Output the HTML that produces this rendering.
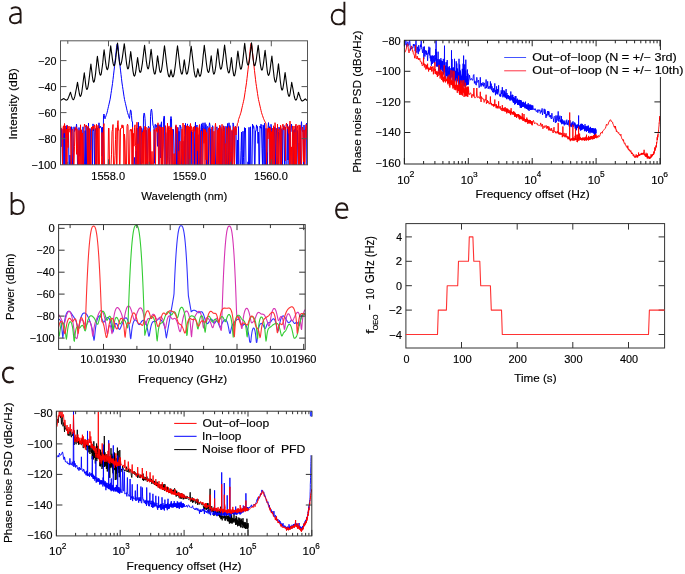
<!DOCTYPE html>
<html><head><meta charset="utf-8"><style>
html,body{margin:0;padding:0;background:#fff;overflow:hidden;width:685px;height:574px;}
svg{display:block;will-change:transform;}
text{font-family:"Liberation Sans", sans-serif;stroke:#000;stroke-width:0.15px;}
</style></head><body>
<svg width="685" height="574" viewBox="0 0 685 574">
<rect width="685" height="574" fill="#fff"/>
<g fill="none" stroke="#231815" stroke-width="1.9" stroke-linecap="butt">
<path d="M11,8.8 C12.4,7.7 13.9,7.2 15.5,7.2 C19.1,7.2 20.6,9.2 20.6,12.6 L20.6,23.5 M20.6,13.7 C14.6,13.8 9.9,15 9.9,18.8 C9.9,21.7 12,23.3 14.4,23.3 C17.3,23.3 19.6,21.6 20.6,19.6"/>
<path d="M11.6,191.9 L11.6,214.9 M11.6,203.2 C12.9,200.8 15,200 17.4,200 C21.6,200 23.7,203.3 23.7,207.3 C23.7,211.6 21.2,214.1 17.3,214.1 C15,214.1 12.8,213.3 11.6,211.3"/>
<path stroke-width="2.3" d="M13.7,368.9 C12.2,368 10.8,367.7 9.4,367.7 C5.6,367.7 3.1,370.7 3.1,375.1 C3.1,379.6 5.8,382.3 9.5,382.3 C10.9,382.3 12.3,382 13.7,381.3"/>
<path d="M344.4,1.8 L344.4,25.2 M344.4,12.8 C343,10.6 341,9.7 338.6,9.7 C334.4,9.7 331.7,12.7 331.7,17.3 C331.7,21.7 334.4,24.4 338.4,24.4 C341,24.4 343.2,23 344.4,20.7"/>
<path stroke-width="2.0" d="M336.2,209.8 L347.4,209.8 C347.4,205.5 345,203.3 341.8,203.3 C338.4,203.3 336.1,206.4 336.1,210.6 C336.1,215.3 338.6,218 342.4,218 C344.6,218 346,217.6 347.4,216.9"/>
</g>
<clipPath id="ca"><rect x="60.5" y="40.8" width="247.0" height="124.00000000000001"/></clipPath>
<g clip-path="url(#ca)">
<polyline fill="none" stroke="#0000ff" stroke-width="1.0" stroke-linejoin="round"  points="59.5,165.9 60,126.3 60.5,127.9 61,146.8 61.5,128.5 62,130 62.5,165.9 63,165.9 63.5,128.6 64,165.9 64.5,125.8 65,165.9 65.5,126.9 66,165.9 66.5,127.2 67,125.2 67.5,131 68,142.5 68.5,132.6 69,165.9 69.5,165.9 70,155.1 70.5,165.9 71,165.9 71.5,126.7 72,127.7 72.5,165.9 73,165.9 73.5,152.9 74,126.8 74.5,131.5 75,128.5 75.5,130 76,129.5 76.5,124.1 77,129.5 77.5,165.9 78,165.9 78.5,165.9 79,127.5 79.5,156.2 80,155.2 80.5,130.7 81,165.9 81.5,165.9 82,165.9 82.5,165.9 83,126.8 83.5,165.9 84,165.9 84.5,165.9 85,130.6 85.5,165.9 86,125.5 86.5,165.9 87,141.5 87.5,127.4 88,165.9 88.5,123 89,165.9 89.5,165.9 90,128.5 90.5,165.9 91,130.6 91.5,128.8 92,127.7 92.5,165.9 93,123.9 93.5,130.9 94,129.4 94.5,165.9 95,132.9 95.5,128.5 96,139.7 96.5,165.9 97,139.5 97.5,128.1 98,128.2 98.5,127.9 99,122.8 99.5,128.4 100,128 100.5,126.2 101,127.5 101.5,127.7 102,156.2 102.5,127.2 103,165.9 103.5,115.3 104,114 104.5,117.1 105,118.8 105.5,117.3 106,115.8 106.5,114.3 107,112.9 107.5,110.7 108,108.5 108.5,106.3 109,104.2 109.5,102 110,99.8 110.5,97 111,93.6 111.5,90.3 112,87 112.5,83.6 113,79.5 113.5,75.2 114,70.9 114.5,66.7 115,62 115.5,57.3 116,52.5 116.5,47.8 117,44.3 117.5,43.7 118,46.9 118.5,51.6 119,56.3 119.5,61.1 120,65.8 120.5,70.1 121,74.4 121.5,78.7 122,83 122.5,86.3 123,89.6 123.5,93 124,96.3 124.5,99.4 125,101.6 125.5,103.7 126,105.9 126.5,108.1 127,110.3 127.5,112.4 128,114 128.5,115.5 129,117 129.5,118.5 130,114 130.5,110 131,110.4 131.5,115.4 132,121.7 132.5,121.7 133,165.9 133.5,165.9 134,165.9 134.5,157.5 135,165.9 135.5,165.9 136,151.1 136.5,165.9 137,128 137.5,165.9 138,129.5 138.5,122.4 139,165.9 139.5,130.2 140,126.2 140.5,165.9 141,165.9 141.5,127.8 142,129 142.5,132.2 143,163.2 143.5,117 144,113 144.5,113.4 145,118.4 145.5,128.7 146,165.9 146.5,130.3 147,165.9 147.5,165.9 148,128.6 148.5,126.3 149,127.3 149.5,128.4 150,165.9 150.5,116.3 151,110.4 151.5,109.1 152,112.2 152.5,119.9 153,125.2 153.5,126.1 154,128.8 154.5,163.4 155,124.4 155.5,124.4 156,127.6 156.5,125.6 157,124.9 157.5,146.3 158,124.5 158.5,128.5 159,165.9 159.5,130.7 160,124.7 160.5,158 161,124.7 161.5,121.8 162,165.9 162.5,152.1 163,144.3 163.5,120 164,116 164.5,116.4 165,165.9 165.5,131.9 166,133.2 166.5,165.9 167,165.9 167.5,158.1 168,127 168.5,129.6 169,159.3 169.5,165.9 170,156.5 170.5,118.8 171,116.5 171.5,118.8 172,165.9 172.5,130 173,129 173.5,130 174,152.9 174.5,165.9 175,165.9 175.5,126.1 176,126.2 176.5,165.9 177,131.1 177.5,165.9 178,127.4 178.5,165.9 179,131.3 179.5,165.9 180,125 180.5,127.4 181,126.9 181.5,165.9 182,165.9 182.5,165.9 183,141.1 183.5,165.9 184,165.9 184.5,136.5 185,165.9 185.5,123.3 186,165.9 186.5,165.9 187,165.9 187.5,123.9 188,164.2 188.5,165.9 189,127.3 189.5,165.9 190,124.9 190.5,125.6 191,165.9 191.5,130.1 192,165.9 192.5,165.9 193,165.9 193.5,130.8 194,127.6 194.5,165.9 195,130.9 195.5,122.2 196,165.9 196.5,128.5 197,125 197.5,165.9 198,134.6 198.5,156.6 199,165.9 199.5,165.9 200,130.2 200.5,165.9 201,127.7 201.5,123.8 202,165.9 202.5,127.2 203,122.8 203.5,128.7 204,128.3 204.5,132.4 205,122.7 205.5,140.5 206,124.5 206.5,165.9 207,126.8 207.5,126.5 208,127.9 208.5,165.9 209,127 209.5,122.8 210,125.6 210.5,165.9 211,128.8 211.5,165.9 212,165.9 212.5,125.7 213,127 213.5,165.9 214,165.9 214.5,165.9 215,165.9 215.5,165.9 216,127.8 216.5,127.8 217,126.8 217.5,131.7 218,165.9 218.5,143.6 219,142.8 219.5,165.9 220,125.5 220.5,165.9 221,165.9 221.5,128.9 222,165.9 222.5,165.9 223,130 223.5,125.8 224,165.9 224.5,127.9 225,165.9 225.5,165.9 226,126.2 226.5,165.9 227,165.9 227.5,123.5 228,129.7 228.5,165.9 229,122.8 229.5,165.9 230,125.6 230.5,165.9 231,152.4 231.5,165.9 232,131 232.5,165.9 233,122.9 233.5,124.4 234,129.9 234.5,165.9 235,128.6 235.5,126.3 236,127.7 236.5,165.9 237,165.9 237.5,140 238,165.9 238.5,126.6 239,165.9 239.5,165.9 240,165.9 240.5,165.9 241,150.6 241.5,132 242,165.9 242.5,165.9 243,131.2 243.5,157.6 244,165.9 244.5,127.6 245,132.1 245.5,128.2 246,165.9 246.5,165.9 247,165.9 247.5,165.9 248,161.8 248.5,165.9 249,127.3 249.5,165.9 250,165.9 250.5,126.8 251,165.9 251.5,165.9 252,165.9 252.5,124.1 253,128.5 253.5,125.7 254,127.5 254.5,165.9 255,165.9 255.5,130.9 256,131.3 256.5,124.9 257,127.7 257.5,126.5 258,143.4 258.5,132.1 259,165.9 259.5,165.9 260,126 260.5,128.2 261,124.2 261.5,126.6 262,148.9 262.5,165.9 263,124.9 263.5,125.8 264,165.9 264.5,123.3 265,165.9 265.5,165.9 266,128.3 266.5,165.9 267,152.5 267.5,165.9 268,127.7 268.5,122.6 269,129 269.5,126.7 270,165.9 270.5,165.9 271,124.3 271.5,130.7 272,165.9 272.5,158.2 273,130.1 273.5,128.6 274,165.9 274.5,127.3 275,128.7 275.5,165.9 276,128 276.5,130.1 277,154.6 277.5,165.9 278,165.9 278.5,131.5 279,127.1 279.5,129 280,130 280.5,165.9 281,128.6 281.5,165.9 282,129.4 282.5,165.9 283,127.8 283.5,129.3 284,125.5 284.5,165.9 285,143.8 285.5,127.3 286,165.9 286.5,165.9 287,165.9 287.5,124.4 288,160 288.5,127.3 289,165.9 289.5,125.3 290,165.9 290.5,132.3 291,127.3 291.5,124 292,131.5 292.5,130.3 293,165.9 293.5,130.4 294,165.9 294.5,129.5 295,143.8 295.5,125.5 296,129.3 296.5,165.9 297,129.9 297.5,130.6 298,165.9 298.5,165.9 299,143 299.5,165.9 300,127.2 300.5,165.9 301,127 301.5,121.7 302,130.1 302.5,131.6 303,130.1 303.5,165.9 304,125 304.5,165.9 305,129.9 305.5,131.1 306,128.2 306.5,123.2 307,165.9 307.5,125.7 308,165.9"/>
<polyline fill="none" stroke="#ff0000" stroke-width="1.0" stroke-linejoin="round"  points="59.5,165.9 60,165.9 60.5,124.4 61,129.4 61.5,128.8 62,129.4 62.5,165.9 63,128.1 63.5,125.8 64,133.2 64.5,123.5 65,128.2 65.5,126 66,165.9 66.5,129 67,165.9 67.5,125.6 68,147.6 68.5,128.4 69,126 69.5,130.4 70,132.3 70.5,126.8 71,165.9 71.5,165.9 72,130.3 72.5,129.3 73,131.4 73.5,165.9 74,165.9 74.5,146.2 75,128.6 75.5,130.1 76,126.8 76.5,154.3 77,128.8 77.5,148.2 78,165.9 78.5,165.9 79,130.3 79.5,165.9 80,165.9 80.5,124.8 81,165.9 81.5,129.8 82,165.9 82.5,132.9 83,165.9 83.5,165.9 84,130.1 84.5,124 85,125.6 85.5,126.1 86,126.8 86.5,125.2 87,131.7 87.5,165.9 88,126.2 88.5,165.9 89,165.9 89.5,128.7 90,165.9 90.5,150.4 91,165.9 91.5,127 92,130.4 92.5,126.2 93,128.2 93.5,126.5 94,129.4 94.5,124.8 95,126.2 95.5,165.9 96,165.9 96.5,124.3 97,165.9 97.5,132.4 98,125.4 98.5,165.9 99,128.2 99.5,165.9 100,165.9 100.5,165.9 101,165.9 101.5,165.9 102,132.5 102.5,165.9 103,165.9 103.5,127.2 104,123.6 104.5,165.9 105,165.9 105.5,165.9 106,164.6 106.5,165.9 107,165.9 107.5,165.9 108,165.9 108.5,128 109,128.5 109.5,165.9 110,165.9 110.5,165.9 111,165.9 111.5,154.2 112,131.6 112.5,129.3 113,124.5 113.5,165.9 114,165.9 114.5,165.9 115,155.4 115.5,139.5 116,127.8 116.5,165.9 117,165.9 117.5,124.2 118,120.6 118.5,130.3 119,129.8 119.5,165.9 120,165.9 120.5,128.7 121,128.9 121.5,127.4 122,124.8 122.5,127.9 123,125.3 123.5,129.1 124,165.9 124.5,134.1 125,141 125.5,165.9 126,165.9 126.5,165.9 127,126.4 127.5,124.2 128,125.6 128.5,165.9 129,165.9 129.5,165.9 130,130 130.5,129.3 131,131.2 131.5,129.5 132,165.9 132.5,127.2 133,165.9 133.5,133.4 134,146.2 134.5,127.3 135,124.8 135.5,145.4 136,165.9 136.5,130 137,122.2 137.5,165.9 138,143.8 138.5,165.9 139,130.3 139.5,126.8 140,165.9 140.5,126.3 141,126.4 141.5,165.9 142,165.9 142.5,132.2 143,165.9 143.5,130.1 144,165.9 144.5,129.3 145,126.2 145.5,165.9 146,127.1 146.5,163.4 147,165.9 147.5,165.9 148,128.4 148.5,129.4 149,165.9 149.5,127.9 150,165.9 150.5,131.7 151,165.9 151.5,165.9 152,151.4 152.5,165.9 153,165.9 153.5,165.9 154,129.6 154.5,131 155,130.4 155.5,165.9 156,127.8 156.5,131.3 157,127.9 157.5,132.4 158,122.8 158.5,165.9 159,165.9 159.5,126.4 160,132.1 160.5,127.1 161,165.9 161.5,165.9 162,127.2 162.5,165.9 163,127.5 163.5,127 164,165.9 164.5,165.9 165,165.9 165.5,125.7 166,129.4 166.5,165.9 167,141.5 167.5,123.1 168,165.9 168.5,129.4 169,125.9 169.5,129.2 170,165.9 170.5,127.7 171,134.6 171.5,127.4 172,165.9 172.5,129.9 173,165.9 173.5,165.9 174,153.6 174.5,165.9 175,165.9 175.5,165.9 176,124.8 176.5,128.7 177,133.4 177.5,127.5 178,165.9 178.5,158.6 179,151.2 179.5,165.9 180,141.2 180.5,165.9 181,165.9 181.5,148.8 182,128.9 182.5,165.9 183,123 183.5,165.9 184,165.9 184.5,125.2 185,141 185.5,165.9 186,129.1 186.5,125.8 187,165.9 187.5,125.6 188,129.7 188.5,126.2 189,165.9 189.5,126.9 190,165.9 190.5,123.5 191,131.5 191.5,126.5 192,128 192.5,131.4 193,165.9 193.5,126.9 194,131.3 194.5,126.2 195,129.2 195.5,133.4 196,165.9 196.5,127.2 197,150.8 197.5,127.5 198,127.8 198.5,165.9 199,128.5 199.5,124.6 200,165.9 200.5,165.9 201,165.9 201.5,131 202,165.9 202.5,165.9 203,165.9 203.5,128.7 204,143.3 204.5,129.3 205,165.9 205.5,129.8 206,159.8 206.5,132.5 207,153.8 207.5,165.9 208,132.5 208.5,128.6 209,129 209.5,127.5 210,165.9 210.5,165.9 211,165.9 211.5,165.9 212,127 212.5,165.9 213,165.9 213.5,165.9 214,131.2 214.5,165.9 215,128 215.5,123.3 216,130 216.5,165.9 217,165.9 217.5,130.1 218,165.9 218.5,128 219,165.9 219.5,125.5 220,165.9 220.5,165.9 221,127.3 221.5,165.9 222,124.3 222.5,135.9 223,165.9 223.5,130.4 224,126.2 224.5,128.4 225,165.9 225.5,143.7 226,165.9 226.5,127.4 227,128.1 227.5,165.9 228,165.9 228.5,126.4 229,153.9 229.5,165.9 230,127.4 230.5,165.9 231,165.9 231.5,152.4 232,129.8 232.5,165.9 233,165.9 233.5,126.3 234,128.6 234.5,165.9 235,126.7 235.5,126.9 236,135 236.5,128.6 237,126.4 237.5,123.3 238,122.7 238.5,119.5 239,118.2 239.5,116.7 240,115.3 240.5,113.8 241,112.2 241.5,110 242,107.8 242.5,105.6 243,103.5 243.5,101.3 244,99.1 244.5,96 245,92.7 245.5,89.4 246,86 246.5,82.7 247,78.4 247.5,74.1 248,69.8 248.5,65.5 249,60.8 249.5,56.1 250,51.3 250.5,46.6 251,43.5 251.5,44 252,47.5 252.5,52.3 253,57 253.5,61.8 254,66.4 254.5,70.7 255,75 255.5,79.3 256,83.4 256.5,86.7 257,90 257.5,93.4 258,96.7 258.5,99.6 259,101.7 259.5,103.9 260,106.1 260.5,108.3 261,110.4 261.5,112.6 262,114.1 262.5,115.6 263,117 263.5,118.5 264,119.7 264.5,120.8 265,121.8 265.5,122.8 266,123.9 266.5,165.9 267,146.8 267.5,128.7 268,138.9 268.5,127.6 269,132.2 269.5,128.1 270,165.9 270.5,127.5 271,162.5 271.5,131.6 272,165.9 272.5,128.2 273,165.9 273.5,125.8 274,144.2 274.5,165.9 275,122.7 275.5,129.9 276,129.4 276.5,165.9 277,165.9 277.5,124.2 278,165.9 278.5,165.9 279,128.7 279.5,132.3 280,165.9 280.5,125.3 281,132.8 281.5,165.9 282,127.5 282.5,124.9 283,124.1 283.5,129.2 284,130.1 284.5,126.7 285,129 285.5,160.6 286,124.9 286.5,123.1 287,127.2 287.5,128.5 288,126.3 288.5,133.3 289,128 289.5,165.9 290,121.1 290.5,152.9 291,165.9 291.5,146.9 292,165.9 292.5,125.9 293,165.9 293.5,144.6 294,126 294.5,165.9 295,132.4 295.5,165.9 296,124.1 296.5,165.9 297,128.1 297.5,125.7 298,132.3 298.5,165.9 299,124.9 299.5,165.9 300,125.1 300.5,129.1 301,165.9 301.5,165.9 302,130.7 302.5,127 303,131.3 303.5,161.7 304,130.1 304.5,165.9 305,165.9 305.5,128.9 306,124.5 306.5,127.3 307,139.3 307.5,131.5 308,124.6"/>
<polyline fill="none" stroke="#000" stroke-width="1.1" stroke-linejoin="round"  points="60.5,100.1 60.9,100.1 61.3,100 61.7,99.8 62.1,99.6 62.5,99.3 62.9,99.1 63.3,98.8 63.7,98.6 64,98.8 64.4,99.1 64.8,99.3 65.1,99.6 65.5,99.8 65.8,100 66.2,100.1 66.5,100.1 67,99.9 67.5,99.4 68,98.5 68.5,97.4 69,96.1 69.5,94.8 70,93.4 70.5,92.2 70.8,93.4 71.2,94.6 71.5,95.9 71.9,97.1 72.2,98.2 72.6,99 73,99.5 73.3,99.7 73.8,99.3 74.3,98.1 74.9,96.2 75.4,93.7 75.9,90.9 76.5,88 77,85.1 77.5,82.4 77.9,84.6 78.2,86.9 78.6,89.3 79,91.5 79.3,93.5 79.7,95 80,96 80.4,96.3 80.9,95.7 81.4,94.1 81.9,91.5 82.3,88.2 82.8,84.5 83.3,80.5 83.8,76.5 84.3,72.9 84.6,75.5 85,78.3 85.3,81.1 85.6,83.8 85.9,86.1 86.2,87.9 86.6,89.1 86.9,89.5 87.4,88.9 87.9,87.1 88.4,84.3 88.9,80.7 89.4,76.6 89.9,72.3 90.4,68.1 90.9,64.1 91.2,66.9 91.6,70 92,73 92.3,76 92.7,78.5 93,80.5 93.4,81.8 93.7,82.2 94.2,81.6 94.6,79.8 95.1,76.9 95.6,73.3 96,69.1 96.5,64.7 96.9,60.4 97.4,56.4 97.8,59.3 98.2,62.5 98.6,65.7 99,68.7 99.3,71.4 99.7,73.4 100.1,74.8 100.5,75.2 101,74.6 101.4,72.8 101.8,70 102.3,66.5 102.8,62.4 103.2,58.1 103.6,53.8 104.1,49.9 104.5,53 104.9,56.3 105.3,59.7 105.7,62.9 106.1,65.7 106.5,67.8 106.9,69.2 107.3,69.7 107.7,69.1 108.2,67.5 108.6,64.8 109,61.4 109.4,57.6 109.8,53.5 110.3,49.4 110.7,45.7 111.1,48.8 111.5,52.2 112,55.6 112.4,58.9 112.8,61.7 113.2,63.9 113.7,65.3 114.1,65.8 114.5,65.3 114.9,63.7 115.4,61.2 115.8,58 116.2,54.3 116.7,50.4 117.1,46.6 117.5,43.1 117.8,46.5 118.2,50.3 118.5,54 118.9,57.6 119.2,60.7 119.6,63.1 120,64.7 120.3,65.2 120.8,64.7 121.3,63.2 121.8,60.8 122.3,57.8 122.8,54.3 123.3,50.7 123.8,47.1 124.3,43.7 124.8,47.6 125.2,51.9 125.7,56.1 126.2,60.2 126.6,63.8 127.1,66.5 127.5,68.3 128,68.9 128.3,68.5 128.7,67.3 129,65.4 129.3,62.9 129.7,60.1 130,57.1 130.4,54.2 130.7,51.5 131.2,55.3 131.6,59.5 132.1,63.6 132.6,67.6 133,71.1 133.5,73.8 133.9,75.5 134.4,76.1 134.8,75.7 135.2,74.4 135.6,72.3 136,69.7 136.4,66.7 136.8,63.6 137.2,60.5 137.6,57.6 137.9,59.9 138.2,62.4 138.6,64.9 138.9,67.3 139.2,69.4 139.5,71 139.9,72 140.2,72.4 140.8,71.8 141.3,69.9 141.8,66.9 142.4,63.1 142.9,58.7 143.5,54.1 144,49.6 144.6,45.4 145,49.1 145.5,53 145.9,57 146.3,60.8 146.8,64.1 147.2,66.7 147.7,68.3 148.1,68.9 148.5,68.4 148.8,67.1 149.2,64.9 149.6,62.1 150,59 150.3,55.6 150.7,52.4 151.1,49.3 151.6,53.2 152,57.3 152.5,61.5 152.9,65.6 153.4,69.1 153.9,71.8 154.3,73.5 154.8,74.1 155.2,73.7 155.5,72.4 155.8,70.4 156.2,67.8 156.6,64.8 156.9,61.7 157.2,58.7 157.6,55.8 158,58.4 158.3,61.2 158.7,64 159.1,66.7 159.4,69 159.8,70.8 160.1,72 160.5,72.4 161,71.8 161.5,69.9 162,67 162.5,63.2 163,58.9 163.5,54.3 164,49.9 164.5,45.7 165.1,50.6 165.7,55.8 166.3,61.1 166.9,66.1 167.5,70.5 168.1,74 168.7,76.2 169.3,76.9 169.5,76.7 169.7,76.2 169.9,75.5 170.2,74.5 170.4,73.3 170.6,72.1 170.8,70.9 171,69.8 171.2,70.9 171.5,72.1 171.7,73.3 171.9,74.5 172.2,75.5 172.4,76.2 172.7,76.7 172.9,76.9 173.5,76.2 174.1,74 174.6,70.6 175.2,66.2 175.8,61.2 176.3,55.9 176.9,50.7 177.5,45.9 178.1,50.3 178.6,55 179.2,59.8 179.7,64.4 180.2,68.4 180.8,71.5 181.3,73.4 181.9,74.1 182.2,73.8 182.5,72.8 182.8,71.2 183.1,69.1 183.4,66.8 183.7,64.4 184,61.9 184.3,59.7 184.6,61.9 184.9,64.4 185.2,66.8 185.6,69.1 185.9,71.2 186.2,72.8 186.5,73.8 186.8,74.1 187.4,73.4 187.9,71.5 188.4,68.4 189,64.5 189.6,60 190.1,55.2 190.6,50.5 191.2,46.2 191.8,51 192.4,56.2 193,61.5 193.6,66.5 194.1,70.9 194.7,74.3 195.3,76.5 195.9,77.2 196.1,77 196.4,76.4 196.6,75.5 196.9,74.3 197.1,72.9 197.3,71.5 197.6,70 197.8,68.7 198.1,69.9 198.4,71.2 198.6,72.5 198.9,73.7 199.2,74.8 199.4,75.6 199.7,76.1 200,76.3 200.5,75.6 201.1,73.4 201.6,70 202.2,65.6 202.7,60.7 203.2,55.4 203.8,50.2 204.3,45.4 204.8,49.6 205.4,54.2 205.9,58.8 206.4,63.2 206.9,67 207.4,70 208,71.9 208.5,72.5 208.8,72.1 209.2,70.9 209.5,69.1 209.8,66.7 210.2,64 210.5,61.1 210.9,58.3 211.2,55.7 211.5,58.6 211.9,61.7 212.2,64.8 212.6,67.8 212.9,70.4 213.2,72.4 213.6,73.7 213.9,74.1 214.4,73.5 214.9,71.7 215.4,68.9 215.9,65.3 216.3,61.2 216.8,56.9 217.3,52.7 217.8,48.7 218.2,51.9 218.6,55.3 218.9,58.8 219.3,62.1 219.7,65 220.1,67.3 220.4,68.7 220.8,69.2 221.3,68.6 221.8,66.9 222.2,64.3 222.7,60.9 223.2,57 223.7,52.9 224.1,48.9 224.6,45.1 225.1,49.4 225.7,54.1 226.2,58.9 226.7,63.4 227.2,67.3 227.8,70.4 228.3,72.3 228.8,73 229.1,72.6 229.5,71.5 229.8,69.8 230.1,67.7 230.4,65.2 230.8,62.5 231.1,59.9 231.4,57.5 231.8,60.4 232.1,63.5 232.4,66.6 232.8,69.6 233.2,72.2 233.5,74.2 233.8,75.5 234.2,75.9 234.7,75.3 235.1,73.6 235.6,70.8 236.1,67.3 236.5,63.3 237,59.1 237.4,54.9 237.9,51 238.3,53.8 238.7,56.9 239,60 239.4,62.9 239.8,65.5 240.2,67.5 240.5,68.8 240.9,69.2 241.4,68.6 241.8,66.8 242.3,63.9 242.8,60.3 243.3,56.1 243.8,51.7 244.2,47.4 244.7,43.4 245.1,46.8 245.5,50.5 246,54.2 246.4,57.7 246.8,60.8 247.2,63.2 247.7,64.7 248.1,65.2 248.5,64.7 248.9,63.1 249.4,60.6 249.8,57.5 250.2,53.9 250.7,50 251.1,46.3 251.5,42.8 251.9,46.4 252.2,50.2 252.6,54.2 253,57.9 253.4,61.1 253.8,63.6 254.1,65.2 254.5,65.8 255,65.3 255.4,63.9 255.9,61.6 256.4,58.8 256.8,55.5 257.3,52 257.7,48.6 258.2,45.4 258.7,49.2 259.1,53.4 259.6,57.6 260,61.6 260.5,65.1 261,67.8 261.4,69.5 261.9,70.1 262.3,69.6 262.7,68.2 263.1,66 263.5,63.2 263.9,60 264.3,56.6 264.7,53.3 265.1,50.2 265.5,54.1 266,58.4 266.4,62.6 266.8,66.7 267.2,70.3 267.6,73 268.1,74.8 268.5,75.4 268.9,74.9 269.4,73.6 269.8,71.5 270.2,68.7 270.6,65.6 271,62.3 271.5,59.1 271.9,56.1 272.3,60.2 272.8,64.5 273.2,69 273.7,73.2 274.1,76.9 274.6,79.8 275.1,81.6 275.5,82.2 275.9,81.8 276.2,80.5 276.6,78.5 277,75.9 277.4,72.9 277.8,69.8 278.1,66.7 278.5,63.8 278.9,67.9 279.4,72.3 279.9,76.8 280.3,81 280.8,84.7 281.2,87.6 281.7,89.5 282.1,90.1 282.5,89.7 282.9,88.5 283.2,86.5 283.6,84.1 284,81.2 284.4,78.3 284.7,75.3 285.1,72.6 285.6,76.3 286.1,80.3 286.6,84.3 287.1,88.1 287.6,91.5 288.1,94.1 288.6,95.7 289.1,96.3 289.4,96 289.8,95 290.1,93.5 290.4,91.5 290.7,89.3 291.1,86.9 291.4,84.6 291.7,82.4 292.2,85.2 292.8,88.1 293.3,91.1 293.8,94 294.3,96.5 294.8,98.4 295.4,99.7 295.9,100.1 296.2,99.9 296.5,99.4 296.9,98.5 297.2,97.4 297.5,96.1 297.9,94.8 298.2,93.4 298.5,92.2 298.9,93.6 299.4,95 299.9,96.5 300.3,97.9 300.8,99.1 301.2,100.1 301.7,100.7 302.1,100.9 302.5,100.9 302.9,100.7 303.3,100.5 303.7,100.2 304.1,99.9 304.5,99.5 304.9,99.2 305.3,98.9 305.6,99.1 305.9,99.4 306.1,99.7 306.4,99.9 306.7,100.2 306.9,100.4 307.2,100.5 307.5,100.5"/>
</g>
<rect x="60.5" y="40.8" width="247" height="124" fill="none" stroke="#555" stroke-width="1.0"/>
<path d="M108.5,40.8v5.5M108.5,164.8v-5.5M189.9,40.8v5.5M189.9,164.8v-5.5M271.3,40.8v5.5M271.3,164.8v-5.5" stroke="#555" stroke-width="1.0" fill="none"/>
<path d="M67.8,40.8v3M67.8,164.8v-3M149.2,40.8v3M149.2,164.8v-3M230.6,40.8v3M230.6,164.8v-3" stroke="#555" stroke-width="1.0" fill="none"/>
<path d="M60.5,60.6h6M307.5,60.6h-6M60.5,86.6h6M307.5,86.6h-6M60.5,112.6h6M307.5,112.6h-6M60.5,138.6h6M307.5,138.6h-6" stroke="#555" stroke-width="1.0" fill="none"/>
<text x="38.26" y="64.79" font-size="11.27" fill="#000" textLength="18.23" lengthAdjust="spacingAndGlyphs">−20</text>
<text x="38.26" y="90.79" font-size="11.27" fill="#000" textLength="18.23" lengthAdjust="spacingAndGlyphs">−40</text>
<text x="38.26" y="116.79" font-size="11.27" fill="#000" textLength="18.23" lengthAdjust="spacingAndGlyphs">−60</text>
<text x="38.26" y="142.79" font-size="11.27" fill="#000" textLength="18.23" lengthAdjust="spacingAndGlyphs">−80</text>
<text x="31.44" y="168.79" font-size="11.27" fill="#000" textLength="25.07" lengthAdjust="spacingAndGlyphs">−100</text>
<text x="91.32" y="179.88" font-size="11.55" fill="#000" textLength="33.70" lengthAdjust="spacingAndGlyphs">1558.0</text>
<text x="172.72" y="179.88" font-size="11.55" fill="#000" textLength="33.70" lengthAdjust="spacingAndGlyphs">1559.0</text>
<text x="254.12" y="179.88" font-size="11.55" fill="#000" textLength="33.70" lengthAdjust="spacingAndGlyphs">1560.0</text>
<text x="141.34" y="199.50" font-size="11.74" fill="#000" textLength="85.96" lengthAdjust="spacingAndGlyphs">Wavelength (nm)</text>
<text x="17.00" y="139.49" font-size="11.30" fill="#000" textLength="71.33" lengthAdjust="spacingAndGlyphs" transform="rotate(-90 17.00 139.49)">Intensity (dB)</text>
<clipPath id="cb"><rect x="58.6" y="224.6" width="246.6" height="124.79999999999998"/></clipPath>
<g clip-path="url(#cb)">
<polyline fill="none" stroke="#3333ff" stroke-width="1.1" stroke-linejoin="round"  points="57.6,320.7 58,320.1 58.4,319.6 58.8,319.3 59.2,319.3 59.6,319.5 60,320 60.4,320.8 60.8,322.1 61.2,323.8 61.6,326.3 62,329.7 62.4,334.1 62.8,337.7 63.2,334.8 63.6,329.6 64,325.5 64.4,322.3 64.8,319.8 65.2,317.8 65.6,316.2 66,314.9 66.4,313.8 66.8,312.9 67.2,312.3 67.6,311.8 68,311.5 68.4,311.3 68.8,311.3 69.2,311.3 69.6,311.5 70,311.8 70.4,312.2 70.8,312.6 71.2,313.2 71.6,313.7 72,314.4 72.4,315 72.8,315.6 73.2,316.2 73.6,316.8 74,317.4 74.4,318 74.8,318.6 75.2,319.3 75.6,320.1 76,321.1 76.4,322.3 76.8,323.8 77.2,325.5 77.6,327.3 78,328.9 78.4,329.3 78.8,328 79.2,325.8 79.6,323.5 80,321.3 80.4,319.5 80.8,318 81.2,316.7 81.6,315.7 82,314.9 82.4,314.2 82.8,313.7 83.2,313.4 83.6,313.1 84,313 84.4,313 84.8,313.1 85.2,313.2 85.6,313.4 86,313.7 86.4,314.2 86.8,314.6 87.2,315.2 87.6,315.9 88,316.7 88.4,317.5 88.8,318.4 89.2,319.4 89.6,320.5 90,321.6 90.4,322.7 90.8,323.9 91.2,325.2 91.6,326.6 92,328.1 92.4,330 92.8,332.2 93.2,335 93.6,338.2 94,340.3 94.4,338.6 94.8,334.7 95.2,330.9 95.6,327.7 96,325.1 96.4,323 96.8,321.2 97.2,319.7 97.6,318.5 98,317.6 98.4,316.8 98.8,316.3 99.2,316 99.6,315.9 100,316 100.4,316.3 100.8,316.8 101.2,317.5 101.6,318.3 102,319.2 102.4,320.2 102.8,321.1 103.2,321.8 103.6,322.1 104,322 104.4,321.6 104.8,320.9 105.2,320.2 105.6,319.5 106,318.9 106.4,318.3 106.8,318 107.2,317.7 107.6,317.6 108,317.6 108.4,317.7 108.8,318.1 109.2,318.6 109.6,319.3 110,320.2 110.4,321.4 110.8,322.8 111.2,324.7 111.6,326.8 112,329.2 112.4,331.4 112.8,332.3 113.2,331.4 113.6,329.6 114,327.7 114.4,326.1 114.8,324.8 115.2,324 115.6,323.5 116,323.4 116.4,323.6 116.8,324 117.2,324.7 117.6,325.6 118,326.7 118.4,327.8 118.8,328.7 119.2,329.3 119.6,329.4 120,329 120.4,328.3 120.8,327.3 121.2,326.3 121.6,325.3 122,324.2 122.4,323.2 122.8,322.2 123.2,321.2 123.6,320.4 124,319.6 124.4,318.9 124.8,318.4 125.2,318.1 125.6,317.9 126,317.9 126.4,318 126.8,318.4 127.2,319 127.6,319.8 128,321 128.4,322.4 128.8,324.2 129.2,326.6 129.6,329.6 130,333.3 130.4,337.5 130.8,338.8 131.2,335.6 131.6,331.8 132,328.6 132.4,326.2 132.8,324.4 133.2,322.9 133.6,321.8 134,321 134.4,320.4 134.8,320.1 135.2,320 135.6,320 136,320.2 136.4,320.6 136.8,321.2 137.2,321.8 137.6,322.6 138,323.3 138.4,324 138.8,324.4 139.2,324.6 139.6,324.4 140,324 140.4,323.4 140.8,322.8 141.2,322.1 141.6,321.5 142,321.1 142.4,320.7 142.8,320.5 143.2,320.3 143.6,320.4 144,320.5 144.4,320.8 144.8,321.2 145.2,321.8 145.6,322.5 146,323.5 146.4,324.6 146.8,326 147.2,327.6 147.6,329.6 148,332 148.4,334.4 148.8,336.2 149.2,336 149.6,334 150,331.5 150.4,329.1 150.8,327.1 151.2,325.4 151.6,324.1 152,323.1 152.4,322.4 152.8,321.9 153.2,321.6 153.6,321.5 154,321.5 154.4,321.5 154.8,321.6 155.2,321.6 155.6,321.5 156,321.3 156.4,320.9 156.8,320.5 157.2,320 157.6,319.6 158,319.2 158.4,318.9 158.8,318.8 159.2,318.8 159.6,318.9 160,319.1 160.4,319.4 160.8,319.8 161.2,320.2 161.6,320.7 162,321.2 162.4,321.7 162.8,322.3 163.2,323 163.6,323.8 164,324.8 164.4,326.1 164.8,327.8 165.2,329.9 165.6,332.6 166,335.8 166.4,338 166.8,335.7 167.2,333.5 167.6,331.2 168,328.9 168.4,326.6 168.8,324.3 169.2,322 169.6,319.8 170,317.5 170.4,315.2 170.8,312.9 171.2,310.6 171.6,308.4 172,306.1 172.4,303.8 172.8,301.5 173.2,299.2 173.6,296.9 174,293.9 174.4,284.5 174.8,275.8 175.2,268 175.6,261 176,254.8 176.4,249.2 176.8,244.4 177.2,240.2 177.6,236.7 178,233.7 178.4,231.3 178.8,229.4 179.2,228 179.6,226.9 180,226.2 180.4,225.8 180.8,225.7 181.2,225.7 181.6,225.7 182,226 182.4,226.5 182.8,227.4 183.2,228.6 183.6,230.3 184,232.5 184.4,235.1 184.8,238.4 185.2,242.3 185.6,246.7 186,251.9 186.4,257.8 186.8,264.4 187.2,271.8 187.6,280.1 188,289.1 188.4,295.8 188.8,298.1 189.2,300.4 189.6,302.6 190,304.9 190.4,307.2 190.8,309.5 191.2,311.8 191.6,311.5 192,311.1 192.4,310.8 192.8,310.5 193.2,310.4 193.6,310.3 194,310.3 194.4,310.3 194.8,310.4 195.2,310.5 195.6,310.7 196,310.9 196.4,311.2 196.8,311.5 197.2,311.9 197.6,312.2 198,312.5 198.4,312.7 198.8,312.8 199.2,312.7 199.6,312.5 200,312.2 200.4,312 200.8,311.8 201.2,311.7 201.6,311.7 202,312 202.4,312.4 202.8,313 203.2,313.7 203.6,314.7 204,315.9 204.4,317.2 204.8,318.5 205.2,319.9 205.6,321.1 206,322.1 206.4,322.8 206.8,323.3 207.2,323.6 207.6,323.6 208,323.3 208.4,322.9 208.8,322.2 209.2,321.5 209.6,320.8 210,320.1 210.4,319.5 210.8,319.2 211.2,319.1 211.6,319.2 212,319.6 212.4,320.2 212.8,321 213.2,321.9 213.6,322.7 214,323.3 214.4,323.4 214.8,323.1 215.2,322.5 215.6,321.9 216,321.3 216.4,320.9 216.8,320.8 217.2,321 217.6,321.5 218,322.2 218.4,323.2 218.8,324.4 219.2,325.6 219.6,326.6 220,327.2 220.4,327.1 220.8,326.5 221.2,325.6 221.6,324.6 222,323.6 222.4,322.7 222.8,322 223.2,321.3 223.6,320.8 224,320.4 224.4,320.1 224.8,319.8 225.2,319.8 225.6,319.9 226,320.1 226.4,320.6 226.8,321.3 227.2,322.2 227.6,323.4 228,325 228.4,326.8 228.8,328.9 229.2,331.2 229.6,332.9 230,333.5 230.4,332.5 230.8,330.7 231.2,328.9 231.6,327.3 232,326 232.4,325 232.8,324.1 233.2,323.5 233.6,323 234,322.5 234.4,322.1 234.8,321.8 235.2,321.4 235.6,321 236,320.5 236.4,320.1 236.8,319.7 237.2,319.4 237.6,319.2 238,319.1 238.4,319.2 238.8,319.4 239.2,319.8 239.6,320.4 240,321.2 240.4,322.2 240.8,323.2 241.2,324.3 241.6,325.2 242,325.7 242.4,325.9 242.8,325.6 243.2,325.2 243.6,324.7 244,324.4 244.4,324.2 244.8,324.2 245.2,324.4 245.6,324.8 246,325.5 246.4,326.3 246.8,327.3 247.2,328.5 247.6,329.8 248,331.3 248.4,333 248.8,335.2 249.2,337.8 249.6,341.2 250,342.4 250.4,342.4 250.8,341.9 251.2,337.8 251.6,334.5 252,332 252.4,330.2 252.8,329 253.2,328.3 253.6,328 254,328.2 254.4,328.8 254.8,330.1 255.2,332 255.6,334.8 256,338.7 256.4,342.4 256.8,342.4 257.2,339.4 257.6,335 258,331.7 258.4,329.3 258.8,327.4 259.2,326.1 259.6,325.1 260,324.4 260.4,323.9 260.8,323.6 261.2,323.4 261.6,323.5 262,323.7 262.4,324 262.8,324.6 263.2,325.3 263.6,326.1 264,327 264.4,327.8 264.8,328.4 265.2,328.5 265.6,328 266,327.2 266.4,326.1 266.8,325.1 267.2,324.3 267.6,323.6 268,323.1 268.4,322.8 268.8,322.7 269.2,322.6 269.6,322.5 270,322.4 270.4,322.1 270.8,321.6 271.2,321.1 271.6,320.5 272,319.9 272.4,319.4 272.8,319.1 273.2,318.9 273.6,318.8 274,319 274.4,319.4 274.8,320.1 275.2,320.9 275.6,322.1 276,323.4 276.4,325.1 276.8,326.9 277.2,328.9 277.6,330.5 278,331.1 278.4,330.2 278.8,328.3 279.2,326.1 279.6,324 280,322.2 280.4,320.6 280.8,319.2 281.2,318.1 281.6,317.3 282,316.6 282.4,316.2 282.8,316 283.2,315.9 283.6,316 284,316.3 284.4,316.7 284.8,317.2 285.2,317.8 285.6,318.5 286,319.2 286.4,319.9 286.8,320.6 287.2,321.3 287.6,321.9 288,322.3 288.4,322.6 288.8,322.7 289.2,322.6 289.6,322.2 290,321.8 290.4,321.3 290.8,320.8 291.2,320.5 291.6,320.4 292,320.4 292.4,320.7 292.8,321.1 293.2,321.8 293.6,322.4 294,323 294.4,323.5 294.8,323.5 295.2,323.3 295.6,322.9 296,322.5 296.4,322.3 296.8,322.2 297.2,322.5 297.6,323.1 298,323.9 298.4,324.9 298.8,325.6 299.2,325.4 299.6,324.3 300,322.5 300.4,320.6 300.8,318.8 301.2,317.2 301.6,316 302,315 302.4,314.3 302.8,313.9 303.2,313.6 303.6,313.5 304,313.5 304.4,313.6 304.8,313.7 305.2,313.7 305.6,313.7 306,313.5"/>
<polyline fill="none" stroke="#d633b4" stroke-width="1.1" stroke-linejoin="round"  points="57.6,313.2 58,313.7 58.4,314.2 58.8,314.8 59.2,315.4 59.6,316.1 60,316.8 60.4,317.5 60.8,318.2 61.2,319 61.6,319.9 62,320.8 62.4,321.7 62.8,322.7 63.2,323.5 63.6,324.1 64,324.1 64.4,323.3 64.8,322.1 65.2,320.5 65.6,318.8 66,317.3 66.4,315.8 66.8,314.6 67.2,313.6 67.6,312.7 68,312.1 68.4,311.6 68.8,311.4 69.2,311.3 69.6,311.5 70,311.9 70.4,312.4 70.8,313.2 71.2,314.3 71.6,315.6 72,317.2 72.4,319.1 72.8,321.3 73.2,323.9 73.6,327 74,330.3 74.4,333.6 74.8,336.1 75.2,337.3 75.6,337.6 76,337.9 76.4,338.3 76.8,338.6 77.2,337.8 77.6,335.6 78,332.7 78.4,329.8 78.8,327.3 79.2,325.2 79.6,323.5 80,322.2 80.4,321.1 80.8,320.4 81.2,319.9 81.6,319.7 82,319.7 82.4,319.9 82.8,320.3 83.2,320.9 83.6,321.6 84,322.4 84.4,323.4 84.8,324.3 85.2,325 85.6,325.5 86,325.6 86.4,325.3 86.8,324.6 87.2,323.8 87.6,323 88,322.3 88.4,321.7 88.8,321.4 89.2,321.2 89.6,321.4 90,321.8 90.4,322.6 90.8,323.8 91.2,325.5 91.6,327.8 92,330.7 92.4,334 92.8,336.1 93.2,334.7 93.6,331.4 94,328.4 94.4,326 94.8,324.1 95.2,322.6 95.6,321.4 96,320.4 96.4,319.4 96.8,318.4 97.2,317.4 97.6,316.4 98,315.3 98.4,314.3 98.8,313.3 99.2,312.5 99.6,311.8 100,311.2 100.4,310.8 100.8,310.6 101.2,310.5 101.6,310.7 102,311 102.4,311.5 102.8,312.1 103.2,313 103.6,314.1 104,315.3 104.4,316.8 104.8,318.5 105.2,320.5 105.6,322.8 106,325.4 106.4,328.4 106.8,331.6 107.2,333.9 107.6,333.9 108,331.9 108.4,329.6 108.8,327.7 109.2,326.4 109.6,325.6 110,325.5 110.4,325.9 110.8,327.1 111.2,329.2 111.6,332 112,333.6 112.4,331 112.8,326.3 113.2,322.1 113.6,318.7 114,316 114.4,313.8 114.8,312.1 115.2,310.7 115.6,309.6 116,308.8 116.4,308.2 116.8,307.8 117.2,307.6 117.6,307.6 118,307.8 118.4,308.1 118.8,308.5 119.2,309.1 119.6,309.7 120,310.4 120.4,311.2 120.8,312.1 121.2,313.1 121.6,314.2 122,315.5 122.4,316.9 122.8,318.3 123.2,319.4 123.6,319.7 124,319 124.4,317.3 124.8,315.3 125.2,313.4 125.6,311.6 126,310.1 126.4,308.8 126.8,307.8 127.2,307.1 127.6,306.5 128,306.2 128.4,306 128.8,306.1 129.2,306.3 129.6,306.7 130,307.2 130.4,308 130.8,308.9 131.2,310 131.6,311.2 132,312.6 132.4,314.1 132.8,315.7 133.2,317.2 133.6,318.6 134,319.6 134.4,319.9 134.8,319.6 135.2,318.8 135.6,317.7 136,316.4 136.4,315.1 136.8,313.9 137.2,312.7 137.6,311.7 138,310.7 138.4,309.9 138.8,309.2 139.2,308.7 139.6,308.3 140,308 140.4,307.9 140.8,308 141.2,308.2 141.6,308.7 142,309.4 142.4,310.3 142.8,311.4 143.2,312.9 143.6,314.6 144,316.7 144.4,319.1 144.8,321.6 145.2,323.6 145.6,324.4 146,323.7 146.4,322.4 146.8,321 147.2,319.9 147.6,319.2 148,318.7 148.4,318.6 148.8,318.5 149.2,318.6 149.6,318.6 150,318.4 150.4,318 150.8,317.4 151.2,316.7 151.6,316 152,315.3 152.4,314.8 152.8,314.4 153.2,314.3 153.6,314.3 154,314.5 154.4,314.9 154.8,315.5 155.2,316.3 155.6,317.1 156,318 156.4,318.7 156.8,319.3 157.2,319.5 157.6,319.5 158,319.1 158.4,318.7 158.8,318.2 159.2,317.8 159.6,317.4 160,317.2 160.4,317.1 160.8,317.1 161.2,317.2 161.6,317.5 162,318 162.4,318.6 162.8,319.5 163.2,320.6 163.6,322 164,323.7 164.4,325.7 164.8,327.5 165.2,328.5 165.6,327.8 166,325.8 166.4,323.5 166.8,321.5 167.2,319.7 167.6,318.4 168,317.3 168.4,316.6 168.8,316.1 169.2,315.9 169.6,316 170,316.2 170.4,316.6 170.8,317.1 171.2,317.7 171.6,318.3 172,318.8 172.4,319 172.8,319.1 173.2,319 173.6,318.8 174,318.6 174.4,318.4 174.8,318.4 175.2,318.6 175.6,318.9 176,319.4 176.4,320.2 176.8,321.2 177.2,322.3 177.6,323.7 178,325.2 178.4,326.8 178.8,328.5 179.2,330 179.6,331.2 180,331.7 180.4,331.3 180.8,330 181.2,328 181.6,325.8 182,323.5 182.4,321.4 182.8,319.4 183.2,317.6 183.6,316.1 184,314.8 184.4,313.6 184.8,312.7 185.2,312 185.6,311.5 186,311.1 186.4,311 186.8,311 187.2,311.3 187.6,311.7 188,312.4 188.4,313.4 188.8,314.6 189.2,316.3 189.6,318.3 190,320.9 190.4,324.4 190.8,329.1 191.2,335 191.6,336.8 192,331.7 192.4,327.2 192.8,324 193.2,321.6 193.6,319.9 194,318.6 194.4,317.6 194.8,316.7 195.2,316 195.6,315.3 196,314.6 196.4,313.9 196.8,313.3 197.2,312.7 197.6,312.2 198,311.8 198.4,311.5 198.8,311.4 199.2,311.4 199.6,311.6 200,312.1 200.4,312.8 200.8,313.7 201.2,315 201.6,316.6 202,318.7 202.4,321.2 202.8,324.1 203.2,326.8 203.6,328 204,326.9 204.4,324.7 204.8,322.5 205.2,320.8 205.6,319.5 206,318.6 206.4,318 206.8,317.8 207.2,317.7 207.6,317.9 208,318.2 208.4,318.6 208.8,319.2 209.2,319.8 209.6,320.6 210,321.4 210.4,322.3 210.8,323.3 211.2,324.4 211.6,325.6 212,326.8 212.4,327.6 212.8,327.8 213.2,327 213.6,325.7 214,324.1 214.4,322.5 214.8,321.2 215.2,320.1 215.6,319.3 216,318.7 216.4,318.4 216.8,318.4 217.2,318.7 217.6,319.2 218,319.9 218.4,321 218.8,322.2 219.2,323.8 219.6,325.4 220,327.2 220.4,328.7 220.8,329.8 221.2,330.3 221.6,327.6 222,314.5 222.4,302.6 222.8,291.7 223.2,281.8 223.6,272.8 224,264.9 224.4,257.8 224.8,251.5 225.2,246.1 225.6,241.5 226,237.5 226.4,234.3 226.8,231.7 227.2,229.7 227.6,228.2 228,227.1 228.4,226.5 228.8,226.2 229.2,226.1 229.6,226.1 230,226.3 230.4,226.8 230.8,227.6 231.2,228.9 231.6,230.6 232,232.9 232.4,235.8 232.8,239.4 233.2,243.7 233.6,248.7 234,254.5 234.4,261.2 234.8,268.7 235.2,277.2 235.6,286.6 236,297 236.4,308.4 236.8,316.3 237.2,316.1 237.6,316 238,316 238.4,316.3 238.8,316.7 239.2,317.3 239.6,318.2 240,319.5 240.4,321.2 240.8,323.4 241.2,326.1 241.6,328.5 242,328.4 242.4,325.4 242.8,321.9 243.2,318.7 243.6,316.1 244,314 244.4,312.3 244.8,311 245.2,309.9 245.6,309.2 246,308.6 246.4,308.4 246.8,308.3 247.2,308.5 247.6,308.9 248,309.6 248.4,310.5 248.8,311.6 249.2,313 249.6,314.7 250,316.5 250.4,318.5 250.8,320.4 251.2,322 251.6,322.8 252,322.9 252.4,322.6 252.8,322.1 253.2,321.7 253.6,321.3 254,320.8 254.4,320.2 254.8,319.5 255.2,318.5 255.6,317.4 256,316.3 256.4,315.2 256.8,314.3 257.2,313.6 257.6,313 258,312.6 258.4,312.5 258.8,312.4 259.2,312.6 259.6,312.8 260,313.1 260.4,313.4 260.8,313.7 261.2,313.9 261.6,314.1 262,314.1 262.4,314.1 262.8,314.2 263.2,314.2 263.6,314.4 264,314.7 264.4,315.1 264.8,315.7 265.2,316.4 265.6,317.2 266,318.1 266.4,319.1 266.8,320.1 267.2,321.3 267.6,322.5 268,323.7 268.4,325 268.8,326 269.2,326.1 269.6,325 270,322.8 270.4,320.2 270.8,317.8 271.2,315.6 271.6,313.7 272,312.2 272.4,310.9 272.8,309.9 273.2,309.2 273.6,308.7 274,308.5 274.4,308.5 274.8,308.7 275.2,309.2 275.6,310 276,311 276.4,312.3 276.8,313.9 277.2,315.7 277.6,317.6 278,319.4 278.4,320.5 278.8,320.6 279.2,319.9 279.6,318.8 280,317.8 280.4,317 280.8,316.5 281.2,316.4 281.6,316.6 282,317.2 282.4,318.2 282.8,319.6 283.2,321.6 283.6,324.2 284,327.2 284.4,329.4 284.8,328.4 285.2,325.3 285.6,322.2 286,319.6 286.4,317.6 286.8,316.1 287.2,315 287.6,314.3 288,313.9 288.4,313.7 288.8,313.9 289.2,314.3 289.6,315 290,315.9 290.4,316.9 290.8,318.1 291.2,319.3 291.6,320.3 292,320.8 292.4,320.9 292.8,320.5 293.2,319.8 293.6,319 294,318.1 294.4,317.2 294.8,316.4 295.2,315.5 295.6,314.7 296,314 296.4,313.3 296.8,312.8 297.2,312.4 297.6,312.2 298,312.3 298.4,312.6 298.8,313.2 299.2,314.1 299.6,315.6 300,317.6 300.4,320.4 300.8,324.2 301.2,328.6 301.6,329.4 302,325.1 302.4,320.7 302.8,317.4 303.2,314.9 303.6,313 304,311.7 304.4,310.7 304.8,310.1 305.2,309.8 305.6,309.7 306,309.9"/>
<polyline fill="none" stroke="#33cc33" stroke-width="1.1" stroke-linejoin="round"  points="57.6,324.9 58,327.5 58.4,330.8 58.8,334.4 59.2,336.1 59.6,334.3 60,331.1 60.4,328.4 60.8,326.2 61.2,324.7 61.6,323.6 62,322.9 62.4,322.6 62.8,322.6 63.2,322.9 63.6,323.6 64,324.6 64.4,326 64.8,327.8 65.2,330.3 65.6,333.5 66,337.1 66.4,339.2 66.8,337 67.2,333.3 67.6,330 68,327.4 68.4,325.4 68.8,324 69.2,322.9 69.6,322.2 70,321.8 70.4,321.7 70.8,322 71.2,322.5 71.6,323.4 72,324.8 72.4,326.5 72.8,328.9 73.2,332.1 73.6,336.2 74,340.6 74.4,341.3 74.8,337.5 75.2,333.9 75.6,331.1 76,329.2 76.4,327.9 76.8,327.1 77.2,326.7 77.6,326.7 78,326.8 78.4,327.1 78.8,327.5 79.2,327.8 79.6,327.9 80,327.7 80.4,327.3 80.8,326.7 81.2,326.2 81.6,325.7 82,325.5 82.4,325.4 82.8,325.7 83.2,326.2 83.6,327 84,328.1 84.4,329.4 84.8,330.5 85.2,330.8 85.6,330.1 86,328.4 86.4,326.3 86.8,324.3 87.2,322.5 87.6,321 88,319.7 88.4,318.6 88.8,317.8 89.2,317.1 89.6,316.6 90,316.2 90.4,315.9 90.8,315.8 91.2,315.8 91.6,315.9 92,316 92.4,316.3 92.8,316.6 93.2,317 93.6,317.4 94,317.9 94.4,318.5 94.8,319.1 95.2,319.9 95.6,320.7 96,321.7 96.4,322.6 96.8,323.5 97.2,324.1 97.6,324.3 98,323.8 98.4,322.7 98.8,321.2 99.2,319.5 99.6,317.9 100,316.4 100.4,315.1 100.8,313.9 101.2,313 101.6,312.2 102,311.7 102.4,311.4 102.8,311.2 103.2,311.3 103.6,311.6 104,312.2 104.4,312.9 104.8,313.9 105.2,315.2 105.6,316.6 106,318.1 106.4,319.4 106.8,320.2 107.2,320.2 107.6,319.6 108,318.7 108.4,317.7 108.8,316.9 109.2,316.4 109.6,316.3 110,316.4 110.4,316.9 110.8,317.9 111.2,319.2 111.6,321.1 112,323.5 112.4,326.4 112.8,328.9 113.2,329.3 113.6,327.2 114,324.5 114.4,322.1 114.8,320.3 115.2,319 115.6,318.1 116,317.6 116.4,317.4 116.8,317.5 117.2,317.9 117.6,318.5 118,319.4 118.4,320.4 118.8,321.6 119.2,322.6 119.6,323.5 120,323.9 120.4,323.8 120.8,323.4 121.2,322.7 121.6,322 122,321.3 122.4,320.7 122.8,320.3 123.2,320 123.6,319.9 124,320 124.4,320.2 124.8,320.7 125.2,321.3 125.6,322.1 126,323.2 126.4,324.4 126.8,325.7 127.2,326.9 127.6,327.9 128,324.2 128.4,312.2 128.8,301.2 129.2,291.1 129.6,281.8 130,273.4 130.4,265.8 130.8,259 131.2,252.9 131.6,247.5 132,242.9 132.4,238.9 132.8,235.5 133.2,232.6 133.6,230.4 134,228.6 134.4,227.2 134.8,226.3 135.2,225.7 135.6,225.3 136,225.2 136.4,225.2 136.8,225.3 137.2,225.7 137.6,226.3 138,227.2 138.4,228.6 138.8,230.4 139.2,232.6 139.6,235.5 140,238.9 140.4,242.9 140.8,247.5 141.2,252.9 141.6,259 142,265.8 142.4,273.4 142.8,281.8 143.2,291.1 143.6,301.2 144,312.2 144.4,324.2 144.8,335.3 145.2,333.6 145.6,332.1 146,330.7 146.4,329.2 146.8,327.8 147.2,326.4 147.6,325 148,323.7 148.4,322.5 148.8,321.3 149.2,320.3 149.6,319.3 150,318.5 150.4,317.8 150.8,317.3 151.2,316.9 151.6,316.6 152,316.6 152.4,316.7 152.8,316.9 153.2,317.4 153.6,318.1 154,319 154.4,320.2 154.8,321.8 155.2,323.7 155.6,326.2 156,329.4 156.4,333.6 156.8,338.7 157.2,340.9 157.6,337.3 158,333.1 158.4,330 158.8,327.7 159.2,326.1 159.6,324.9 160,324.1 160.4,323.5 160.8,323.2 161.2,323 161.6,322.9 162,322.8 162.4,322.6 162.8,322.3 163.2,321.7 163.6,320.8 164,319.7 164.4,318.6 164.8,317.4 165.2,316.2 165.6,315.1 166,314.2 166.4,313.3 166.8,312.7 167.2,312.2 167.6,311.9 168,311.8 168.4,311.9 168.8,312.1 169.2,312.5 169.6,313 170,313.7 170.4,314.3 170.8,314.8 171.2,315 171.6,314.9 172,314.5 172.4,313.9 172.8,313.2 173.2,312.6 173.6,312.1 174,311.8 174.4,311.8 174.8,312 175.2,312.5 175.6,313.3 176,314.4 176.4,315.6 176.8,316.9 177.2,317.7 177.6,317.6 178,316.6 178.4,315 178.8,313.3 179.2,311.6 179.6,310.3 180,309.2 180.4,308.3 180.8,307.8 181.2,307.4 181.6,307.3 182,307.4 182.4,307.7 182.8,308.2 183.2,309 183.6,310 184,311.3 184.4,312.9 184.8,314.8 185.2,317.2 185.6,320.3 186,324.2 186.4,329.5 186.8,335.5 187.2,334.4 187.6,329.1 188,325 188.4,322.2 188.8,320.2 189.2,318.7 189.6,317.6 190,316.9 190.4,316.4 190.8,316.1 191.2,315.9 191.6,315.9 192,315.9 192.4,316 192.8,316.1 193.2,316.3 193.6,316.4 194,316.7 194.4,317 194.8,317.5 195.2,318.1 195.6,319.1 196,320.3 196.4,321.9 196.8,323.9 197.2,326.3 197.6,328.5 198,329 198.4,327.3 198.8,324.7 199.2,322.1 199.6,320 200,318.3 200.4,317.1 200.8,316.3 201.2,315.8 201.6,315.7 202,315.9 202.4,316.5 202.8,317.5 203.2,318.9 203.6,320.9 204,323.6 204.4,327 204.8,330.9 205.2,332.3 205.6,329.3 206,325.6 206.4,322.5 206.8,320.3 207.2,318.6 207.6,317.4 208,316.6 208.4,316.2 208.8,316.1 209.2,316.3 209.6,316.7 210,317.3 210.4,318.2 210.8,319.2 211.2,320.2 211.6,321.2 212,321.8 212.4,322.1 212.8,321.9 213.2,321.4 213.6,320.8 214,320.2 214.4,319.7 214.8,319.4 215.2,319.3 215.6,319.4 216,319.7 216.4,320.1 216.8,320.7 217.2,321.3 217.6,321.7 218,322 218.4,321.9 218.8,321.5 219.2,320.7 219.6,319.9 220,319 220.4,318.2 220.8,317.5 221.2,317 221.6,316.7 222,316.6 222.4,316.7 222.8,317.1 223.2,317.6 223.6,318.4 224,319.4 224.4,320.4 224.8,321.2 225.2,321.7 225.6,321.5 226,320.7 226.4,319.5 226.8,318.2 227.2,317 227.6,316 228,315.3 228.4,314.7 228.8,314.5 229.2,314.5 229.6,314.8 230,315.3 230.4,316.2 230.8,317.5 231.2,319.1 231.6,321.4 232,324.3 232.4,328.2 232.8,333.3 233.2,337.1 233.6,333.8 234,329 234.4,325.4 234.8,322.7 235.2,320.7 235.6,319.1 236,317.9 236.4,317 236.8,316.3 237.2,315.8 237.6,315.4 238,315.2 238.4,315.2 238.8,315.3 239.2,315.5 239.6,315.9 240,316.3 240.4,316.9 240.8,317.5 241.2,318.2 241.6,318.8 242,319.3 242.4,319.7 242.8,320 243.2,320.3 243.6,320.6 244,320.9 244.4,321.5 244.8,322.3 245.2,323.6 245.6,325.4 246,327.8 246.4,331.1 246.8,335.1 247.2,337 247.6,333.7 248,329.4 248.4,325.9 248.8,323.3 249.2,321.3 249.6,319.7 250,318.6 250.4,317.7 250.8,317.1 251.2,316.8 251.6,316.6 252,316.5 252.4,316.6 252.8,316.7 253.2,317 253.6,317.4 254,318 254.4,318.7 254.8,319.6 255.2,320.9 255.6,322.5 256,324.7 256.4,327.6 256.8,331.8 257.2,337.2 257.6,338.8 258,333.5 258.4,328.6 258.8,325 259.2,322.4 259.6,320.4 260,319 260.4,318 260.8,317.3 261.2,317 261.6,317 262,317.2 262.4,317.8 262.8,318.7 263.2,319.9 263.6,321.4 264,323.4 264.4,325.9 264.8,329.1 265.2,333.1 265.6,337.9 266,341.2 266.4,339.4 266.8,335.9 267.2,333.1 267.6,331.1 268,329.7 268.4,328.8 268.8,328.2 269.2,327.9 269.6,327.6 270,327.3 270.4,327.1 270.8,326.8 271.2,326.4 271.6,326.1 272,325.7 272.4,325.3 272.8,325 273.2,324.7 273.6,324.4 274,324.2 274.4,324 274.8,323.8 275.2,323.7 275.6,323.5 276,323.4 276.4,323.4 276.8,323.4 277.2,323.5 277.6,323.8 278,324.2 278.4,324.9 278.8,325.7 279.2,326.8 279.6,328.1 280,329.6 280.4,331.4 280.8,333.2 281.2,334.8 281.6,335.9 282,336 282.4,335.4 282.8,334.5 283.2,333.6 283.6,332.9 284,332.4 284.4,332 284.8,331.6 285.2,331.3 285.6,330.7 286,330 286.4,329.1 286.8,328.2 287.2,327.2 287.6,326.3 288,325.5 288.4,324.9 288.8,324.5 289.2,324.3 289.6,324.4 290,324.6 290.4,325.1 290.8,325.9 291.2,326.9 291.6,328.1 292,329.6 292.4,331.3 292.8,333.2 293.2,335.1 293.6,336.7 294,337.8 294.4,338.3 294.8,338.3 295.2,338.1 295.6,337.7 296,337.2 296.4,336.6 296.8,335.7 297.2,334.5 297.6,332.9 298,331.2 298.4,329.4 298.8,327.5 299.2,325.7 299.6,324 300,322.4 300.4,320.9 300.8,319.5 301.2,318.2 301.6,317.1 302,316.1 302.4,315.3 302.8,314.6 303.2,314.1 303.6,313.8 304,313.6 304.4,313.7 304.8,314 305.2,314.5 305.6,315.2 306,316.3"/>
<polyline fill="none" stroke="#ff3333" stroke-width="1.1" stroke-linejoin="round"  points="57.6,330.3 58,329.6 58.4,328.1 58.8,326.4 59.2,324.8 59.6,323.5 60,322.5 60.4,321.8 60.8,321.5 61.2,321.4 61.6,321.7 62,322.2 62.4,323.1 62.8,324.4 63.2,326 63.6,328 64,330.4 64.4,332.7 64.8,333.8 65.2,332.9 65.6,330.6 66,328.1 66.4,325.8 66.8,323.8 67.2,322.2 67.6,320.9 68,319.9 68.4,319.1 68.8,318.6 69.2,318.3 69.6,318.2 70,318.4 70.4,318.8 70.8,319.3 71.2,320 71.6,320.7 72,321.3 72.4,321.6 72.8,321.5 73.2,321 73.6,320.4 74,319.7 74.4,319.2 74.8,318.9 75.2,318.9 75.6,319.3 76,320.1 76.4,321.5 76.8,323.5 77.2,326.3 77.6,330.1 78,333.6 78.4,332.6 78.8,328.5 79.2,324.8 79.6,322.1 80,320.1 80.4,318.8 80.8,318 81.2,317.6 81.6,317.7 82,318.1 82.4,319 82.8,320.2 83.2,321.8 83.6,323.7 84,325.7 84.4,327.5 84.8,328.7 85.2,329.1 85.6,319 86,307.5 86.4,296.9 86.8,287.2 87.2,278.4 87.6,270.4 88,263.1 88.4,256.7 88.8,251 89.2,246 89.6,241.7 90,238 90.4,234.9 90.8,232.3 91.2,230.3 91.6,228.7 92,227.6 92.4,226.8 92.8,226.4 93.2,226.1 93.6,226.1 94,226.1 94.4,226.4 94.8,226.8 95.2,227.6 95.6,228.7 96,230.3 96.4,232.3 96.8,234.9 97.2,238 97.6,241.7 98,246 98.4,251 98.8,256.7 99.2,263.1 99.6,270.4 100,278.4 100.4,287.2 100.8,296.9 101.2,307.5 101.6,319 102,321.8 102.4,321.9 102.8,322.4 103.2,323.2 103.6,324.5 104,326 104.4,328 104.8,330.1 105.2,332.5 105.6,334.7 106,336.5 106.4,337.5 106.8,337.4 107.2,336 107.6,333.8 108,331.2 108.4,328.6 108.8,326.2 109.2,324.2 109.6,322.4 110,321 110.4,319.9 110.8,319.1 111.2,318.6 111.6,318.3 112,318.3 112.4,318.5 112.8,319 113.2,319.8 113.6,320.7 114,321.8 114.4,323.1 114.8,324.5 115.2,325.8 115.6,327.1 116,328.1 116.4,328.8 116.8,329 117.2,328.7 117.6,327.9 118,326.7 118.4,325.3 118.8,323.8 119.2,322.3 119.6,321 120,319.9 120.4,319.1 120.8,318.5 121.2,318.2 121.6,318.2 122,318.5 122.4,319.2 122.8,320.2 123.2,321.8 123.6,324 124,327 124.4,331.1 124.8,335.9 125.2,337.3 125.6,333.3 126,329.3 126.4,326.5 126.8,324.6 127.2,323.4 127.6,322.7 128,322.6 128.4,322.8 128.8,323.2 129.2,323.6 129.6,323.5 130,322.9 130.4,321.5 130.8,319.9 131.2,318.2 131.6,316.7 132,315.4 132.4,314.4 132.8,313.7 133.2,313.2 133.6,312.9 134,312.9 134.4,313.2 134.8,313.6 135.2,314.3 135.6,315.3 136,316.4 136.4,317.6 136.8,319 137.2,320.4 137.6,321.7 138,322.7 138.4,323.3 138.8,323.7 139.2,323.8 139.6,323.8 140,323.8 140.4,323.9 140.8,324.1 141.2,324.5 141.6,324.9 142,325.3 142.4,325.4 142.8,325.1 143.2,324.1 143.6,322.6 144,320.8 144.4,318.9 144.8,317.1 145.2,315.5 145.6,314.1 146,312.9 146.4,312 146.8,311.3 147.2,310.9 147.6,310.7 148,310.8 148.4,311.1 148.8,311.8 149.2,312.7 149.6,313.8 150,315.2 150.4,316.6 150.8,317.8 151.2,318.5 151.6,318.5 152,317.9 152.4,317.1 152.8,316.3 153.2,315.7 153.6,315.3 154,315.3 154.4,315.6 154.8,316.3 155.2,317.3 155.6,318.5 156,320.1 156.4,321.8 156.8,323.6 157.2,325.1 157.6,326.1 158,326.5 158.4,326.3 158.8,325.7 159.2,324.8 159.6,323.6 160,322.2 160.4,320.6 160.8,319.1 161.2,317.5 161.6,316.2 162,315.1 162.4,314.2 162.8,313.6 163.2,313.2 163.6,313 164,313 164.4,313.3 164.8,313.6 165.2,314 165.6,314.4 166,314.6 166.4,314.5 166.8,314.2 167.2,313.7 167.6,313.1 168,312.5 168.4,311.9 168.8,311.5 169.2,311.1 169.6,310.9 170,310.8 170.4,310.8 170.8,310.9 171.2,311 171.6,311.1 172,311.3 172.4,311.4 172.8,311.6 173.2,311.8 173.6,312.1 174,312.4 174.4,312.8 174.8,313.4 175.2,314.1 175.6,314.9 176,315.9 176.4,317.1 176.8,318.3 177.2,319.6 177.6,320.8 178,321.9 178.4,322.9 178.8,323.5 179.2,323.9 179.6,324.1 180,324.3 180.4,324.5 180.8,324.8 181.2,325.1 181.6,325.6 182,326.3 182.4,327 182.8,327.9 183.2,328.9 183.6,330.1 184,331.3 184.4,332.4 184.8,333.1 185.2,332.9 185.6,331.7 186,329.8 186.4,327.7 186.8,325.7 187.2,323.9 187.6,322.4 188,321.2 188.4,320.2 188.8,319.4 189.2,318.9 189.6,318.6 190,318.5 190.4,318.5 190.8,318.7 191.2,318.9 191.6,319.2 192,319.4 192.4,319.5 192.8,319.6 193.2,319.6 193.6,319.4 194,319.3 194.4,319.3 194.8,319.3 195.2,319.5 195.6,319.9 196,320.5 196.4,321.3 196.8,322.3 197.2,323.5 197.6,324.7 198,325.7 198.4,326.2 198.8,326.1 199.2,325.4 199.6,324.5 200,323.5 200.4,322.6 200.8,321.9 201.2,321.4 201.6,321 202,320.9 202.4,320.9 202.8,321 203.2,321.2 203.6,321.4 204,321.7 204.4,321.9 204.8,322.1 205.2,322.1 205.6,321.8 206,321.3 206.4,320.5 206.8,319.4 207.2,318.1 207.6,316.9 208,315.6 208.4,314.5 208.8,313.5 209.2,312.7 209.6,312.1 210,311.6 210.4,311.4 210.8,311.3 211.2,311.4 211.6,311.6 212,311.9 212.4,312.3 212.8,312.7 213.2,313 213.6,313.3 214,313.4 214.4,313.4 214.8,313.3 215.2,313.3 215.6,313.5 216,313.8 216.4,314.4 216.8,315.3 217.2,316.6 217.6,318.2 218,320.1 218.4,321.9 218.8,322.7 219.2,321.8 219.6,319.7 220,317.4 220.4,315.2 220.8,313.5 221.2,312 221.6,310.9 222,310 222.4,309.3 222.8,308.8 223.2,308.4 223.6,308.2 224,308.1 224.4,308.1 224.8,308.1 225.2,308.1 225.6,308.2 226,308.2 226.4,308.3 226.8,308.3 227.2,308.2 227.6,308.2 228,308.1 228.4,308 228.8,308 229.2,308 229.6,308.2 230,308.4 230.4,308.9 230.8,309.5 231.2,310.4 231.6,311.5 232,313 232.4,315 232.8,317.5 233.2,321 233.6,325.8 234,332.7 234.4,336.8 234.8,330.3 235.2,325.1 235.6,321.8 236,319.6 236.4,318.1 236.8,317.2 237.2,316.8 237.6,316.8 238,317.1 238.4,317.8 238.8,318.7 239.2,319.8 239.6,321.1 240,322.4 240.4,323.6 240.8,324.4 241.2,324.8 241.6,324.7 242,324.3 242.4,323.9 242.8,323.5 243.2,323.2 243.6,323 244,323 244.4,323.1 244.8,323.3 245.2,323.6 245.6,324 246,324.5 246.4,324.8 246.8,325.1 247.2,325 247.6,324.6 248,323.7 248.4,322.6 248.8,321.4 249.2,320.2 249.6,319 250,318 250.4,317.2 250.8,316.6 251.2,316.2 251.6,316 252,316 252.4,316.3 252.8,316.7 253.2,317.4 253.6,318.3 254,319.5 254.4,320.8 254.8,322.3 255.2,323.8 255.6,325.3 256,326.5 256.4,327.3 256.8,327.7 257.2,328 257.6,328.3 258,328.9 258.4,329.8 258.8,331.3 259.2,333.3 259.6,335.7 260,337.6 260.4,336.8 260.8,333.8 261.2,330.5 261.6,327.7 262,325.4 262.4,323.6 262.8,322.2 263.2,321 263.6,320.1 264,319.4 264.4,318.9 264.8,318.5 265.2,318.1 265.6,317.8 266,317.6 266.4,317.3 266.8,317.1 267.2,316.8 267.6,316.6 268,316.3 268.4,315.9 268.8,315.6 269.2,315.2 269.6,314.7 270,314.2 270.4,313.7 270.8,313.3 271.2,312.8 271.6,312.5 272,312.3 272.4,312.2 272.8,312.2 273.2,312.5 273.6,312.9 274,313.6 274.4,314.6 274.8,315.9 275.2,317.5 275.6,319.6 276,322.2 276.4,325.4 276.8,329.2 277.2,332.4 277.6,332.7 278,330.4 278.4,327.9 278.8,326 279.2,324.7 279.6,324 280,323.7 280.4,323.7 280.8,324 281.2,324.3 281.6,324.6 282,324.6 282.4,324.2 282.8,323.2 283.2,322 283.6,320.5 284,319 284.4,317.5 284.8,316.2 285.2,314.9 285.6,313.8 286,312.7 286.4,311.8 286.8,311 287.2,310.3 287.6,309.7 288,309.2 288.4,308.8 288.8,308.4 289.2,308 289.6,307.7 290,307.5 290.4,307.3 290.8,307.1 291.2,306.9 291.6,306.8 292,306.8 292.4,306.9 292.8,307.2 293.2,307.6 293.6,308.1 294,308.9 294.4,309.9 294.8,311.2 295.2,312.9 295.6,315.1 296,317.8 296.4,321.5 296.8,326.6 297.2,333 297.6,333.2 298,327.5 298.4,323.1 298.8,320 299.2,317.9 299.6,316.4 300,315.3 300.4,314.5 300.8,314 301.2,313.7 301.6,313.5 302,313.5 302.4,313.5 302.8,313.6 303.2,313.7 303.6,313.9 304,314.1 304.4,314.3 304.8,314.5 305.2,314.8 305.6,315 306,315.3"/>
</g>
<rect x="58.6" y="224.6" width="246.6" height="124.8" fill="none" stroke="#333" stroke-width="1.0"/>
<path d="M103.5,224.6v5.5M103.5,349.4v-5.5M170.2,224.6v5.5M170.2,349.4v-5.5M237,224.6v5.5M237,349.4v-5.5M303.7,224.6v5.5M303.7,349.4v-5.5" stroke="#333" stroke-width="1.0" fill="none"/>
<path d="M70.1,224.6v3.5M70.1,349.4v-3.5M136.9,224.6v3.5M136.9,349.4v-3.5M203.6,224.6v3.5M203.6,349.4v-3.5M270.4,224.6v3.5M270.4,349.4v-3.5" stroke="#333" stroke-width="1.0" fill="none"/>
<path d="M58.6,228.3h6M305.2,228.3h-6M58.6,250.2h6M305.2,250.2h-6M58.6,272.2h6M305.2,272.2h-6M58.6,294.1h6M305.2,294.1h-6M58.6,316.1h6M305.2,316.1h-6M58.6,338.1h6M305.2,338.1h-6" stroke="#333" stroke-width="1.0" fill="none"/>
<text x="48.45" y="232.49" font-size="11.27" fill="#000" textLength="6.26" lengthAdjust="spacingAndGlyphs">0</text>
<text x="36.57" y="254.44" font-size="11.27" fill="#000" textLength="18.12" lengthAdjust="spacingAndGlyphs">−20</text>
<text x="36.57" y="276.39" font-size="11.27" fill="#000" textLength="18.12" lengthAdjust="spacingAndGlyphs">−40</text>
<text x="36.57" y="298.34" font-size="11.27" fill="#000" textLength="18.12" lengthAdjust="spacingAndGlyphs">−60</text>
<text x="36.57" y="320.29" font-size="11.27" fill="#000" textLength="18.12" lengthAdjust="spacingAndGlyphs">−80</text>
<text x="29.64" y="342.24" font-size="11.27" fill="#000" textLength="25.07" lengthAdjust="spacingAndGlyphs">−100</text>
<text x="80.27" y="363.48" font-size="11.55" fill="#000" textLength="46.23" lengthAdjust="spacingAndGlyphs">10.01930</text>
<text x="147.47" y="363.48" font-size="11.55" fill="#000" textLength="46.23" lengthAdjust="spacingAndGlyphs">10.01940</text>
<text x="214.67" y="363.48" font-size="11.55" fill="#000" textLength="46.23" lengthAdjust="spacingAndGlyphs">10.01950</text>
<text x="270.47" y="363.48" font-size="11.55" fill="#000" textLength="45.92" lengthAdjust="spacingAndGlyphs">10.01960</text>
<text x="137.97" y="383.30" font-size="11.59" fill="#000" textLength="89.27" lengthAdjust="spacingAndGlyphs">Frequency (GHz)</text>
<text x="14.50" y="319.91" font-size="11.30" fill="#000" textLength="66.45" lengthAdjust="spacingAndGlyphs" transform="rotate(-90 14.50 319.91)">Power (dBm)</text>
<clipPath id="cc"><rect x="56.4" y="411.2" width="255.4" height="124.69999999999999"/></clipPath>
<g clip-path="url(#cc)">
<polyline fill="none" stroke="#000" stroke-width="0.9" stroke-linejoin="round"  points="56.4,425.3 57,421.6 57.6,419 58.2,422.8 58.8,415.4 59.4,415.6 59.9,414.9 60.5,417.8 61,416 61.5,424.3 62,416.3 62.5,419.4 63,426.3 63.5,422.6 64,423.9 64.5,431.9 64.9,424.6 65.4,429.1 65.8,428.5 66.3,430.2 66.7,430.1 67.1,428.9 67.6,429.4 68,435.4 68.4,431.6 68.8,435.7 69.2,435.9 69.6,433.3 69.9,429.7 70.3,430.9 70.7,435.5 71.1,436.4 71.4,437.2 71.8,434.4 72.2,432.2 72.5,435.7 72.9,433.8 73.2,435.5 73.5,431.9 73.9,444.2 74.2,445 74.5,438.9 74.8,436.5 75.2,440.4 75.5,438 75.8,443.7 76.1,444.3 76.4,442.6 76.7,437.6 77,438.3 77.3,429.8 77.6,440.2 77.9,443 78.2,441 78.5,444.7 78.7,441.5 79,443.8 79.3,441.8 79.6,443.8 79.8,444.4 80.1,441.7 80.4,443.2 80.6,442.2 80.9,443.7 81.1,440.7 81.4,445.1 81.6,440.5 81.9,439 82.1,443.8 82.4,438.1 82.6,437.5 82.9,442.1 83.1,447.3 83.3,448.1 83.6,444.2 83.8,438.9 84,442.4 84.3,442 84.5,444.9 84.7,446.3 85,443.4 85.2,447.5 85.4,445.1 85.6,443.5 85.8,445 86,443.9 86.3,446.6 86.5,444.1 86.7,444.8 86.9,450.3 87.1,448.9 87.3,448.3 87.5,445.1 87.7,446.1 87.9,446.4 88.1,446.9 88.3,445.9 88.5,445.3 88.7,449.3 88.9,452.4 89.1,446.4 89.3,449 89.5,448.5 89.7,445.3 89.8,452.5 90,454 90.2,446.2 90.4,445.8 90.6,446.5 90.8,449.2 90.9,449.1 91.1,451.8 91.3,450.2 91.5,452.2 91.6,452.9 91.8,450.1 92,444.1 92.2,459.2 92.3,448.9 92.5,448.7 92.7,457.2 92.8,450.5 93,451.6 93.2,454.4 93.3,454.8 93.5,459.4 93.7,444.4 93.8,441.3 94,445.1 94.2,454.7 94.3,451.9 94.5,451.6 94.6,458 94.8,455.2 94.9,451.1 95.1,456.3 95.3,463.5 95.4,461 95.6,453 95.7,456.2 95.9,456.1 96,447.4 96.2,454.3 96.3,458.7 96.5,455.3 96.6,443.5 96.8,461.1 96.9,445.7 97,447.6 97.2,456.3 97.3,457.3 97.5,448 97.6,454.4 97.8,458.6 97.9,446.1 98,455 98.2,454.3 98.3,455.9 98.4,457.8 98.6,455.7 98.7,458.4 98.9,453.8 99,450.9 99.1,450.9 99.3,450.4 99.4,448.9 99.5,452.9 99.7,460.3 99.8,452 99.9,466 100,461.1 100.2,455.8 100.3,466.5 100.4,449.7 100.6,463.1 100.7,465.7 100.8,461.9 100.9,462 101.1,458.1 101.2,458.9 101.3,452.6 101.4,459.1 101.6,457.3 101.7,463.7 101.8,455.8 101.9,462.7 102,469 102.2,451.7 102.3,464.4 102.4,464.7 102.5,463.6 102.6,455.5 102.7,467.2 102.9,461.3 103,456.1 103.1,449.2 103.2,460.9 103.3,459.2 103.4,464.2 103.6,449 103.7,460.4 103.8,460.1 103.9,459 104,464.8 104.1,460 104.2,466.8 104.3,436 104.5,461 104.6,461.1 104.7,454.1 104.8,466.9 104.9,453 105,452.4 105.1,464.7 105.2,457 105.3,461.3 105.4,456.1 105.5,460.7 105.6,465.8 105.7,457.7 105.9,462.3 106,460.2 106.1,456 106.2,454.8 106.3,458 106.4,469 106.5,457.8 106.6,463.2 106.7,455.9 106.8,462.8 106.9,454.2 107,459.1 107.1,461.9 107.2,460.4 107.3,471.5 107.4,459 107.5,461.6 107.6,468.1 107.7,460.1 107.8,460.6 107.9,460.4 108,463 108.1,458.2 108.2,458.2 108.3,462 108.4,462.8 108.5,465 108.5,465.8 108.6,459.4 108.7,465.6 108.8,470.2 108.9,461.4 109,456.8 109.1,464.3 109.2,458.2 109.3,460.3 109.4,468.3 109.5,461.2 109.6,463.6 109.7,459.4 109.8,477.9 109.8,458.6 109.9,459.2 110,468.1 110.1,457.5 110.2,464 110.3,462.3 110.4,458.7 110.5,456.1 110.6,462.4 110.7,459.7 110.7,461 110.8,467.3 110.9,454.7 111,448.2 111.1,462.7 111.2,457.8 111.3,460.7 111.4,466.6 111.4,458.3 111.5,463.3 111.6,460.4 111.7,458.6 111.8,458.7 111.9,453.7 111.9,462.7 112,464.7 112.1,467.7 112.2,467.2 112.3,460.3 112.4,461.6 112.4,468.5 112.5,467.2 112.6,466.3 112.7,455.7 112.8,469 112.9,462.1 112.9,472.8 113,465.3 113.1,456.7 113.2,470.8 113.3,458 113.3,474.3 113.4,463.9 113.5,470.2 113.6,464.4 113.7,465.6 113.7,460 113.8,462.9 113.9,463.5 114,467.4 114.1,462.1 114.1,468.8 114.2,468 114.3,467.9 114.4,461.6 114.4,452.5 114.5,465 114.6,454.4 114.7,470.1 114.7,467.9 114.8,462 114.9,461.5 115,460.8 115,456.4 115.1,466 115.2,459.1 115.3,463.6 115.3,480 115.4,470.3 115.5,467.8 115.6,464.4 115.6,462.2 115.7,466.5 115.8,458.1 115.9,470.3 115.9,465.3 116,460.3 116.1,471.2 116.2,458.5 116.2,460.2 116.3,466.2 116.4,465.3 116.4,465.8 116.5,465.3 116.6,458.8 116.7,462.7 116.7,472.8 116.8,473.7 116.9,462.3 116.9,479.6 117,467.7 117.1,468.9 117.2,465.8 117.2,458.6 117.3,464.8 117.4,447.6 117.4,464.7 117.5,461.5 117.6,460.7 117.6,466.4 117.7,461.2 117.8,463 117.8,464.8 117.9,469.1 118,468.1 118,462.3 118.1,466.3 118.2,464.2 118.2,450.9 118.3,464.9 118.4,466.1 118.4,463.6 118.5,462.5 118.6,460.2 118.6,464.1 118.7,468.8 118.8,469.3 118.8,463.7 118.9,472.9 119,468.6 119,462.1 119.1,467.8 119.2,469.2 119.2,461.6 119.3,477.2 119.4,466.9 119.4,468.4 119.5,468.5 119.6,463.2 119.6,461 119.7,462.5 119.7,464.4 119.8,450.1 119.9,459.2 119.9,466.8 120,472.7 120.1,468.8 120.1,464.9 120.2,467.4 120.2,464.2 120.9,472.1 121.5,469.1 122.1,470.2 122.6,466.1 123.2,468.9 123.8,469.1 124.3,470.8 124.8,470 125.4,470.9 125.9,470.5 126.4,466.7 126.9,471.8 127.4,470.8 127.8,471.9 128.3,468.9 128.8,472.4 129.2,472.5 129.7,470.9 130.1,469.3 130.6,471.5 131,472.9 131.4,475.8 131.8,477.5 132.2,472.8 132.6,472.8 133,471.4 133.4,472.6 133.8,473.7 134.2,471.8 134.6,471.4 134.9,474.8 135.3,472.8 135.6,472.7 136,475.4 136.4,473.8 136.7,474.8 137,473.4 137.4,473.6 137.7,478 138,475.7 138.4,473.8 138.7,475 139,477.2 139.3,476.6 139.6,477.5 140,475.9 140.3,478.1 140.6,475 140.9,475.6 141.2,474.8 141.4,475.6 141.7,475.9 142,476.1 142.3,476.7 142.6,479.9 142.9,477 143.1,473.6 143.4,480.8 143.7,476.1 143.9,478.1 144.2,480.2 144.5,478 144.7,478 145,478.4 145.2,477 145.5,480.2 145.7,477.9 146,480.2 146.2,478.7 146.5,478.6 146.7,480 147,476.6 147.2,481.7 147.4,481.5 147.7,480.4 147.9,481 148.1,478.8 148.4,480.9 148.6,478.8 148.8,480.9 149,479.6 149.2,479.7 149.5,480.6 149.7,480 149.9,480.5 150.1,478.7 150.3,478.5 150.5,481.6 150.7,480.8 150.9,480.2 151.1,480.9 151.4,479.5 151.6,478.9 151.8,483.9 152,482.5 152.2,480.6 152.4,481.5 152.5,482.9 152.7,482.5 152.9,482.2 153.1,480.7 153.3,483.6 153.5,482.4 153.7,481.1 153.9,481.7 154.1,483 154.2,483.3 154.4,485 154.6,480.9 154.8,484.2 155,482.4 155.1,482.5 155.3,482.1 155.5,482.6 155.7,482.8 155.8,483.6 156,484.7 156.2,482.6 156.4,484.4 156.5,486.1 156.7,483.7 156.9,484.2 157,481.7 157.2,484.7 157.4,484.1 157.5,485.8 157.7,483.9 157.8,482.7 158,485.7 158.2,484.6 158.3,486.4 158.5,484.4 158.6,485.6 158.8,484.8 159,486.3 159.1,486.2 159.3,485.6 159.4,484.6 159.6,485.4 159.7,488.3 159.9,485 160,485.9 160.2,485.2 160.3,484.7 160.5,485.1 160.6,486.9 160.7,486.5 160.9,485.7 161,485.2 161.2,487.2 161.3,487.1 161.5,487.6 161.6,486.1 161.7,487.4 161.9,484.1 162,485.8 162.2,485.5 162.3,486.2 162.4,487.6 162.6,489.9 162.7,485.4 162.8,486.8 163,489.3 163.1,484.1 163.2,486.5 163.4,485.6 163.5,487.7 163.6,489.5 163.8,488.5 163.9,486.8 164,490.1 164.1,488.4 164.3,486.5 164.4,486.7 164.5,487.9 164.7,490.9 164.8,484 164.9,486.7 165,487.2 165.2,488.7 165.3,487.9 165.4,487.7 165.5,488.9 165.6,489.3 165.8,489.3 165.9,489.6 166,488.8 166.1,488.8 166.2,488.1 166.4,488.2 166.5,489 166.6,491.4 166.7,488.4 166.8,490.1 166.9,487.1 167.1,489.5 167.2,486.7 167.3,488.5 167.4,487.4 167.5,489.2 167.6,488.8 167.7,490 167.9,490.1 168,490.1 168.1,488.8 168.2,491 168.3,488.6 168.4,490.1 168.5,489.1 168.6,491 168.7,489.9 168.9,492 169,490.8 169.1,490.4 169.2,491.4 169.3,490.5 169.4,490.2 169.5,490.2 169.6,492.8 169.7,490.8 169.8,490.7 169.9,491.5 170,491.7 170.1,488.4 170.2,489.7 170.3,489.6 170.4,489.4 170.5,491.9 170.6,491.2 170.7,493 170.8,490.8 170.9,493.3 171,491.9 171.1,490.3 171.2,490.6 171.3,492.4 171.4,492.3 171.5,489.8 171.6,490.9 171.7,492 171.8,491.3 171.9,491.4 172,492.8 172.1,492.3 172.2,494.1 172.3,491.4 172.4,491.6 172.5,490.6 172.6,490.6 172.7,492.4 172.8,490.1 172.9,492.8 173,490.9 173.1,492.7 173.1,492.8 173.2,493.6 173.3,492.3 173.4,489.6 173.5,492.1 173.6,491.8 173.7,492.8 173.8,491.8 173.9,491.7 174,491.9 174.1,490.9 174.2,492.6 174.2,492.1 174.3,490.8 174.4,491.9 174.5,493.6 174.6,488.3 174.7,492 174.8,493.8 174.9,493.8 174.9,493.4 175,492 175.1,492.6 175.2,491.8 175.3,490.1 175.4,491 175.5,493 175.5,493.9 175.6,491.5 175.7,494.1 175.8,494.2 175.9,491.4 176,493 176,493.7 176.1,493.1 176.2,496.6 176.3,493.9 176.4,493.5 176.5,492.7 176.5,493.2 176.6,493.9 176.7,490.7 176.8,492.5 176.9,493 177,493.4 177,493.2 177.1,494.8 177.2,495.1 177.3,493.6 177.4,495.8 177.4,493.3 177.5,494.5 177.6,493.2 177.7,493.9 177.7,495.1 177.8,495 177.9,494.7 178,492.6 178.1,492.6 178.1,494.5 178.2,494.1 178.3,495.3 178.4,492.7 178.4,494.1 178.5,495.2 178.6,496 178.7,493.9 178.7,492.3 178.8,494.5 178.9,495.7 179,495.7 179,495.3 179.1,497.4 179.2,493.7 179.3,495.4 179.3,497 179.4,498.3 179.5,494.5 179.6,494.6 179.6,493.2 179.7,493.8 179.8,495.5 179.9,497.1 179.9,494.8 180,495.8 180.1,495 180.2,497.1 180.2,495.5 180.3,495.5 180.4,496.8 180.4,497.4 180.5,498 180.6,495.2 180.6,493.9 180.7,495.4 180.8,498.5 180.9,495.5 180.9,497.5 181,495.2 181.1,493.5 181.1,495.2 181.2,498.7 181.3,494.4 181.3,495.3 181.4,493.4 181.5,495.1 181.6,494.9 181.6,498 181.7,494.1 181.8,497.3 181.8,498.3 181.9,495.3 182,495.1 182,494.2 182.1,494.6 182.2,495.6 182.2,495.6 182.3,495 182.4,495.7 182.4,495.6 182.5,496.1 182.6,496.3 182.6,496.7 182.7,495.6 182.8,497.2 182.8,495.2 182.9,495.4 183,497.7 183,496.4 183.1,495.8 183.1,497.8 183.2,499.4 183.3,496.8 183.3,496.2 183.4,496.5 183.5,495.3 183.5,496.2 183.6,494.7 183.7,497.4 183.7,494.7 183.8,497.1 183.8,496.1 183.9,499.1 184,497.7 184,495.4 184.1,496.8 184.7,497.1 185.3,498.8 185.9,496.5 186.5,499 187.1,496.1 187.6,497.4 188.2,499.1 188.7,499.7 189.2,499.5 189.7,498.5 190.2,492.3 190.7,501.6 191.2,499.1 191.7,501.3 192.2,497.3 192.6,502.8 193.1,498.9 193.5,502.2 194,500.1 194.4,499.1 194.8,500.3 195.3,502.9 195.7,503.6 196.1,499.2 196.5,502.8 196.9,500.5 197.3,500.1 197.6,504.8 198,499.3 198.4,502.8 198.8,503.1 199.1,504.6 199.5,502.9 199.9,502.7 200.2,502 200.6,502.2 200.9,502.4 201.2,504.4 201.6,504.6 201.9,504.4 202.2,504.5 202.5,502.9 202.9,503.6 203.2,505.6 203.5,507.1 203.8,509 204.1,506.3 204.4,506 204.7,509.5 205,507 205.3,506.1 205.6,506.4 205.9,509.4 206.2,508.2 206.4,509.8 206.7,505.9 207,507.1 207.3,503.1 207.5,508.9 207.8,505.3 208.1,503.3 208.3,508.2 208.6,506.6 208.8,512.1 209.1,510.9 209.3,506.1 209.6,507.2 209.8,505.7 210.1,488.8 210.3,510.3 210.6,508 210.8,510.5 211,510 211.3,510.2 211.5,511.7 211.7,506.2 212,509 212.2,510.2 212.4,509.9 212.7,511.8 212.9,511.6 213.1,510.7 213.3,507.8 213.5,515.4 213.7,508.8 214,515.4 214.2,513.4 214.4,514.4 214.6,511.6 214.8,515.4 215,510.1 215.2,510.8 215.4,510.4 215.6,510.8 215.8,513.1 216,512.1 216.2,514.6 216.4,513.7 216.6,512 216.8,515.5 217,513.7 217.2,514.2 217.4,511.5 217.5,512.4 217.7,514.4 217.9,512 218.1,509.9 218.3,511.6 218.5,513.7 218.6,513.8 218.8,516 219,515.3 219.2,513.7 219.3,513.7 219.5,517.3 219.7,509.6 219.9,517.1 220,517.1 220.2,516.2 220.4,515.3 220.5,517.4 220.7,506.7 220.9,519.2 221,515.8 221.2,515 221.4,516.7 221.5,518.8 221.7,511 221.9,510.5 222,515.1 222.2,520.4 222.3,517.6 222.5,515.9 222.6,516.5 222.8,516.1 223,516.3 223.1,518 223.3,518.4 223.4,517 223.6,518 223.7,518 223.9,516 224,516.4 224.2,517.9 224.3,514.9 224.5,511.8 224.6,517.6 224.7,515.5 224.9,516.7 225,520.4 225.2,516.4 225.3,520.6 225.5,518.1 225.6,516.9 225.7,516.3 225.9,519.4 226,518.4 226.1,516.2 226.3,513.8 226.4,513.9 226.6,516.2 226.7,514.6 226.8,519.1 227,518.5 227.1,516.5 227.2,516.5 227.4,521.2 227.5,515.9 227.6,520 227.7,518.6 227.9,520.7 228,519.1 228.1,516.4 228.3,521.1 228.4,519.8 228.5,518.6 228.6,517.5 228.8,515.3 228.9,518.5 229,516.7 229.1,522 229.3,520 229.4,523.7 229.5,516.7 229.6,520.2 229.7,517.9 229.9,521.3 230,521.4 230.1,521.3 230.2,520.7 230.3,520 230.4,522.8 230.6,513.7 230.7,518.4 230.8,523.2 230.9,522.7 231,521.9 231.1,521.5 231.3,516.3 231.4,518.3 231.5,522.3 231.6,514.5 231.7,515.5 231.8,522.5 231.9,523.4 232,519.3 232.2,523.4 232.3,519.8 232.4,518.5 232.5,521.9 232.6,521.8 232.7,522 232.8,517.8 232.9,519.1 233,519.5 233.1,518.8 233.2,520.6 233.3,521.9 233.4,520 233.6,518.8 233.7,521 233.8,521.2 233.9,522.6 234,511.4 234.1,519.3 234.2,520.4 234.3,520.5 234.4,520.2 234.5,520.8 234.6,519 234.7,520.6 234.8,519.5 234.9,521 235,522.3 235.1,518.9 235.2,518.9 235.3,518.2 235.4,522.1 235.5,522.6 235.6,525 235.7,521.3 235.8,523.1 235.9,519.1 236,523.8 236.1,519.6 236.2,524 236.2,515.9 236.3,519.1 236.4,522.6 236.5,520.9 236.6,520.4 236.7,524.5 236.8,517.3 236.9,524.5 237,522.5 237.1,521.5 237.2,521.1 237.3,520 237.4,519.7 237.5,524.7 237.5,522.4 237.6,526.3 237.7,521.6 237.8,523.5 237.9,521.5 238,525.7 238.1,524.5 238.2,521.4 238.3,520.9 238.4,523.1 238.4,523.3 238.5,523.6 238.6,523.7 238.7,523.7 238.8,517.5 238.9,521.2 239,525.8 239.1,523.5 239.1,524.7 239.2,522.4 239.3,518.5 239.4,520.3 239.5,522.5 239.6,522.1 239.6,523.1 239.7,524.9 239.8,524.1 239.9,520.8 240,526.2 240.1,520.5 240.1,518.4 240.2,523 240.3,520.9 240.4,522.8 240.5,523.8 240.6,527.3 240.6,524.7 240.7,520.2 240.8,523.1 240.9,524 241,520.2 241,523.5 241.1,527.3 241.2,524.5 241.3,520.5 241.4,521.2 241.4,524.2 241.5,521.9 241.6,523.8 241.7,518.7 241.8,522.2 241.8,521.3 241.9,522.7 242,521.5 242.1,522.3 242.1,523.5 242.2,524.6 242.3,524.4 242.4,524 242.4,522.2 242.5,522.5 242.6,521 242.7,524.2 242.7,523.5 242.8,528.1 242.9,525.3 243,518.2 243,524 243.1,523.8 243.2,525.1 243.3,523.4 243.3,525.1 243.4,524.2 243.5,525.5 243.6,523.9 243.6,525.5 243.7,524.8 243.8,526 243.9,527.1 243.9,521.9 244,526 244.1,522.4 244.1,525.2 244.2,524.6 244.3,524.5 244.4,526.4 244.4,528.1 244.5,523.2 244.6,524.3 244.6,528 244.7,526.2 244.8,526.1 244.9,522.7 244.9,523.9 245,524.9 245.1,522.7 245.1,524.1 245.2,526.4 245.3,527.8 245.3,523.1 245.4,528.5 245.5,522.7 245.5,528.7 245.6,526.5 245.7,522.8 245.7,523.4 245.8,522.9 245.9,528.2 245.9,525.9 246,525.4 246.1,526.2 246.1,526.5 246.2,524.8 246.3,525.4 246.3,527.4 246.4,526.6 246.5,526.1 246.5,525.6 246.6,526.1 246.7,528.7 246.7,525.5 246.8,524.7 246.9,522.6 246.9,518.7 247,524 247.1,526.9 247.1,523.4 247.2,526.2 247.3,525.7 247.3,526.4 247.4,525.7 247.4,525.7 247.5,528.8 247.6,524.8 247.6,528.2 247.7,526.5 247.8,524.3 247.8,526.7 247.9,527.6 248,523 248,540.9"/>
<polyline fill="none" stroke="#0000ff" stroke-width="0.9" stroke-linejoin="round"  points="56.4,458.5 57,456.5 57.6,456.4 58.2,455.2 58.8,457.1 59.4,453.2 59.9,454.1 60.5,455.3 61,455 61.5,454.4 62,453 62.5,451.9 63,454.1 63.5,457.9 64,459.6 64.5,456.9 64.9,458.9 65.4,461.9 65.8,461.5 66.3,462.4 66.7,462.1 67.1,461.6 67.6,463.8 68,463.3 68.4,463.4 68.8,463 69.2,465.1 69.6,464.5 69.9,458.4 70.3,464.4 70.7,464.1 71.1,463.5 71.4,465 71.8,464.7 72.2,461.7 72.5,462.3 72.9,465.8 73.2,464.2 73.5,410.2 73.9,467 74.2,460.9 74.5,462.9 74.8,465.5 75.2,463.4 75.5,467.4 75.8,465.8 76.1,466.1 76.4,466.3 76.7,465.2 77,466 77.3,467.8 77.6,469.2 77.9,468.2 78.2,467.6 78.5,468.6 78.7,470.2 79,470.7 79.3,467.1 79.6,468.1 79.8,469.5 80.1,468.2 80.4,468.3 80.6,469.5 80.9,470 81.1,467.8 81.4,456.8 81.6,467.6 81.9,468.4 82.1,469.7 82.4,470.9 82.6,470.9 82.9,471.4 83.1,470.5 83.3,470.4 83.6,469.1 83.8,469 84,471.2 84.3,470.7 84.5,473.2 84.7,472.6 85,473.3 85.2,471.6 85.4,472.8 85.6,473.2 85.8,472.2 86,475.2 86.3,472.6 86.5,471.9 86.7,470.8 86.9,474.6 87.1,473.6 87.3,476.1 87.5,430.9 87.7,473.5 87.9,473 88.1,475.8 88.3,473.9 88.5,474.6 88.7,475.6 88.9,475.7 89.1,475.4 89.3,475.4 89.5,476.9 89.7,472.3 89.8,474.5 90,474.3 90.2,474.5 90.4,475.1 90.6,475 90.8,474.2 90.9,475.5 91.1,473.2 91.3,475.6 91.5,473.6 91.6,476.9 91.8,475.1 92,474.6 92.2,466.2 92.3,456.1 92.5,477.4 92.7,477.1 92.8,473.9 93,477 93.2,479 93.3,475.1 93.5,476.1 93.7,479.1 93.8,478.3 94,475.7 94.2,478.4 94.3,478.7 94.5,478.6 94.6,476 94.8,480.7 94.9,477.7 95.1,478.3 95.3,477.8 95.4,477.5 95.6,478.7 95.7,478 95.9,460.7 96,476.9 96.2,482.6 96.3,479.4 96.5,479.1 96.6,481.4 96.8,477.3 96.9,478.7 97,482.1 97.2,480 97.3,478.6 97.5,479.6 97.6,481 97.8,479 97.9,479.5 98,481.5 98.2,480.5 98.3,478.2 98.4,478.5 98.6,481.9 98.7,481.4 98.9,478.4 99,479.7 99.1,480.6 99.3,481.3 99.4,480.6 99.5,479.5 99.7,484.6 99.8,479.8 99.9,482.6 100,483.3 100.2,482.4 100.3,483.1 100.4,483.1 100.6,481.5 100.7,482.3 100.8,480.2 100.9,484.2 101.1,480.7 101.2,483.9 101.3,481.8 101.4,482.7 101.6,480.8 101.7,484.3 101.8,482.2 101.9,480 102,480.5 102.2,483 102.3,481.4 102.4,481 102.5,482 102.6,481 102.7,481.4 102.9,486.5 103,482 103.1,477.5 103.2,483.8 103.3,479.8 103.4,444.6 103.6,484.7 103.7,484 103.8,483.7 103.9,480.4 104,484.1 104.1,482.9 104.2,484.1 104.3,485.4 104.5,485 104.6,485.8 104.7,481.9 104.8,484.6 104.9,486.6 105,484.3 105.1,481.1 105.2,484 105.3,484.6 105.4,484.1 105.5,485.3 105.6,486.4 105.7,482.7 105.9,490.2 106,485.8 106.1,486.4 106.2,485.4 106.3,486.3 106.4,483.4 106.5,482.8 106.6,485.1 106.7,487.4 106.8,486.7 106.9,486.1 107,487.1 107.1,487.7 107.2,482.9 107.3,484.3 107.4,487.4 107.5,487.3 107.6,485.9 107.7,487.1 107.8,485.2 107.9,484.9 108,486.2 108.1,487.8 108.2,486.9 108.3,489.1 108.4,487.1 108.5,483.6 108.5,487.5 108.6,485.6 108.7,440.2 108.8,484.2 108.9,489 109,487.2 109.1,487.8 109.2,484.7 109.3,485.2 109.4,488.7 109.5,487.9 109.6,486.5 109.7,483.8 109.8,487.7 109.8,485.2 109.9,488.6 110,489.3 110.1,486 110.2,488.6 110.3,489.9 110.4,485.4 110.5,486.4 110.6,489.6 110.7,486.1 110.7,482.8 110.8,486.7 110.9,489.4 111,488.3 111.1,491.2 111.2,491.2 111.3,478.5 111.4,488.6 111.4,487.5 111.5,488.2 111.6,488.8 111.7,488.8 111.8,487.2 111.9,488.4 111.9,490.6 112,486.2 112.1,485.8 112.2,486.9 112.3,485.7 112.4,487.9 112.4,488.2 112.5,486.4 112.6,487.4 112.7,490.3 112.8,488.6 112.9,488.2 112.9,484.8 113,488.4 113.1,489.7 113.2,490.3 113.3,445.4 113.3,489.6 113.4,488.8 113.5,490.3 113.6,491.3 113.7,489.2 113.7,488.2 113.8,488.6 113.9,491.3 114,489.3 114.1,487.6 114.1,488.4 114.2,490 114.3,489.7 114.4,489.8 114.4,488.7 114.5,489.7 114.6,488.4 114.7,488.8 114.7,488.9 114.8,487.9 114.9,487.8 115,489.9 115,489.8 115.1,487.8 115.2,489.8 115.3,491.4 115.3,490.3 115.4,491.2 115.5,489.5 115.6,489.3 115.6,487.3 115.7,488.8 115.8,488.6 115.9,487.1 115.9,488.4 116,491.1 116.1,489.8 116.2,490.8 116.2,490.1 116.3,487.8 116.4,485.1 116.4,484.9 116.5,489.4 116.6,491.1 116.7,489.5 116.7,487.4 116.8,491.2 116.9,489.3 116.9,488.6 117,488.4 117.1,486.1 117.2,490.1 117.2,489.7 117.3,491.8 117.4,490.9 117.4,491.7 117.5,490.1 117.6,489.5 117.6,489.1 117.7,455.6 117.8,491.2 117.8,492 117.9,492 118,490.9 118,491.2 118.1,492.4 118.2,489.8 118.2,492.3 118.3,490.7 118.4,491.6 118.4,490 118.5,489.8 118.6,492.1 118.6,490 118.7,487.4 118.8,490 118.8,492.5 118.9,487.1 119,492.4 119,489.6 119.1,492.6 119.2,489.6 119.2,491.1 119.3,490 119.4,490.6 119.4,493.4 119.5,493.7 119.6,492.4 119.6,489.6 119.7,490.5 119.7,489.1 119.8,489.1 119.9,488.3 119.9,492.7 120,493.1 120.1,493.1 120.1,489 120.2,491.9 120.2,463.7 120.9,488.3 121.5,492.4 122.1,493 122.6,468.3 123.2,490.8 123.8,491 124.3,471.5 124.8,494 125.4,493.9 125.9,493.4 126.4,492.6 126.9,496.4 127.4,477.5 127.8,493.9 128.3,494.3 128.8,495.9 129.2,496.5 129.7,494.9 130.1,479 130.6,500 131,499.2 131.4,496.5 131.8,498.2 132.2,484.3 132.6,501.1 133,496.4 133.4,498 133.8,498.9 134.2,498.5 134.6,499.3 134.9,499.2 135.3,490.6 135.6,500.7 136,497.3 136.4,499.5 136.7,500.7 137,498.5 137.4,484.3 137.7,499.6 138,498.2 138.4,500.7 138.7,502.7 139,497.2 139.3,501.1 139.6,498.6 140,498.3 140.3,497.3 140.6,501.1 140.9,486.5 141.2,501.9 141.4,502.8 141.7,503.2 142,500.2 142.3,487.5 142.6,496.3 142.9,499 143.1,499.1 143.4,500.4 143.7,499.6 143.9,502 144.2,503.1 144.5,502.8 144.7,500.5 145,501.5 145.2,501 145.5,504.1 145.7,500.5 146,499.9 146.2,501.4 146.5,506 146.7,487.5 147,502.4 147.2,500.6 147.4,502.2 147.7,501.3 147.9,504.3 148.1,504 148.4,504.1 148.6,500.7 148.8,506 149,503.9 149.2,506.3 149.5,500.6 149.7,502.2 149.9,492.7 150.1,502.4 150.3,502.5 150.5,504.1 150.7,503.3 150.9,504.2 151.1,500.9 151.4,507 151.6,505.7 151.8,503 152,504 152.2,500.7 152.4,502.3 152.5,503.8 152.7,507.9 152.9,493.8 153.1,504.4 153.3,501.5 153.5,504.1 153.7,507.3 153.9,503.5 154.1,503.2 154.2,502.9 154.4,502.6 154.6,506.5 154.8,505.2 155,504.3 155.1,503.7 155.3,506.3 155.5,503.7 155.7,503.9 155.8,495.8 156,504.4 156.2,505 156.4,506.5 156.5,506.3 156.7,504.8 156.9,502.9 157,504.8 157.2,508.2 157.4,506.5 157.5,505.7 157.7,509.8 157.8,505.9 158,507.1 158.2,506.8 158.3,508 158.5,505.6 158.6,496.5 158.8,508 159,506.1 159.1,505 159.3,507.2 159.4,506.9 159.6,505.2 159.7,505.7 159.9,506.4 160,504.8 160.2,505.2 160.3,508.2 160.5,508.3 160.6,503.9 160.7,507.9 160.9,509.8 161,507.4 161.2,506.7 161.3,505.6 161.5,503.9 161.6,506.9 161.7,510 161.9,507.9 162,497.3 162.2,504.5 162.3,507.1 162.4,508.1 162.6,507.4 162.7,508.9 162.8,508.4 163,503.2 163.1,504.1 163.2,507.6 163.4,508.5 163.5,505.3 163.6,505.5 163.8,505.8 163.9,509.5 164,506.7 164.1,507.8 164.3,504.9 164.4,510.5 164.5,505.3 164.7,507.4 164.8,505.1 164.9,499.6 165,504.6 165.2,506.9 165.3,507.4 165.4,507.2 165.5,504.2 165.6,507.6 165.8,505.9 165.9,505 166,507.9 166.1,506.2 166.2,506.7 166.4,504 166.5,507.2 166.6,505.5 166.7,507.9 166.8,508.4 166.9,505.3 167.1,505 167.2,505.1 167.3,510.2 167.4,503.8 167.5,505.5 167.6,505.6 167.7,502.8 167.9,504.8 168,498.8 168.1,507.6 168.2,506.2 168.3,504.7 168.4,509 168.5,505.5 168.6,506.7 168.7,507 168.9,504.5 169,506.2 169.1,508.2 169.2,507.2 169.3,505.2 169.4,504.9 169.5,508.5 169.6,507.2 169.7,505.4 169.8,503.9 169.9,505 170,506.8 170.1,504.8 170.2,507.1 170.3,505.4 170.4,506 170.5,504.2 170.6,503.9 170.7,503.6 170.8,505.4 170.9,505.8 171,505.2 171.1,502.4 171.2,505.5 171.3,501.1 171.4,505.6 171.5,507.2 171.6,504.5 171.7,504.8 171.8,505.4 171.9,506.4 172,506.2 172.1,506.3 172.2,507.8 172.3,506.3 172.4,504.1 172.5,504.9 172.6,506.1 172.7,504.6 172.8,506 172.9,506.5 173,505.5 173.1,505.1 173.1,503 173.2,505.4 173.3,505.5 173.4,504.8 173.5,507.4 173.6,503.7 173.7,503.1 173.8,505.8 173.9,506.3 174,505.3 174.1,505 174.2,506.5 174.2,501.1 174.3,505.6 174.4,506.4 174.5,503.6 174.6,505.7 174.7,505.5 174.8,505.3 174.9,507 174.9,506.7 175,502.9 175.1,503.6 175.2,507.1 175.3,505 175.4,505.9 175.5,504.4 175.5,504.1 175.6,506.1 175.7,504.1 175.8,506.1 175.9,504.9 176,503.2 176,504.6 176.1,505.1 176.2,503.4 176.3,506.2 176.4,504.6 176.5,505.7 176.5,507.5 176.6,505.5 176.7,504.8 176.8,508.1 176.9,508 177,505.6 177,505.4 177.1,505.6 177.2,503.1 177.3,501.3 177.4,505.7 177.4,505 177.5,506.2 177.6,503.9 177.7,508 177.7,503.8 177.8,507.7 177.9,501.9 178,504.7 178.1,506.7 178.1,505.1 178.2,503.3 178.3,505.4 178.4,505 178.4,506.9 178.5,505.8 178.6,507.4 178.7,503.4 178.7,505.6 178.8,503.9 178.9,504 179,505.7 179,504.5 179.1,503.8 179.2,503.5 179.3,509 179.3,503.3 179.4,503.4 179.5,504.9 179.6,505.4 179.6,505 179.7,504.1 179.8,507.7 179.9,502.9 179.9,506.8 180,502.2 180.1,504.6 180.2,503.8 180.2,504.8 180.3,505.8 180.4,506.9 180.4,506 180.5,504 180.6,505.7 180.6,505.2 180.7,505.4 180.8,506.2 180.9,505.8 180.9,503.3 181,503.3 181.1,501.6 181.1,506.3 181.2,502.7 181.3,505 181.3,507 181.4,504.7 181.5,503 181.6,504.7 181.6,505.6 181.7,507.5 181.8,505.2 181.8,506.5 181.9,504.7 182,504.9 182,507.9 182.1,506.9 182.2,506.4 182.2,504.8 182.3,504.1 182.4,506.8 182.4,505.9 182.5,504.6 182.6,507.2 182.6,506.3 182.7,506.1 182.8,506.1 182.8,503.4 182.9,504.9 183,507.2 183,503.4 183.1,505.4 183.1,505.4 183.2,503.4 183.3,505.1 183.3,506.1 183.4,506.2 183.5,505.3 183.5,504.1 183.6,504.1 183.7,505.5 183.7,506.6 183.8,504.1 183.8,507.1 183.9,505.4 184,504.1 184,506.4 184.1,505.3 184.7,506.4 185.3,506.5 185.9,506.4 186.5,505.2 187.1,507 187.6,507.2 188.2,504.8 188.7,505.1 189.2,505.7 189.7,507.2 190.2,507.3 190.7,507 191.2,507.6 191.7,507.7 192.2,506.7 192.6,505.7 193.1,507.9 193.5,508.7 194,508.2 194.4,509 194.8,509.8 195.3,508.8 195.7,509.7 196.1,507.9 196.5,509.1 196.9,509.3 197.3,510.4 197.6,508.6 198,508.4 198.4,509.4 198.8,510.7 199.1,509.9 199.5,513.6 199.9,509.9 200.2,509.4 200.6,512 200.9,510.1 201.2,512 201.6,511.1 201.9,511.4 202.2,509 202.5,510.2 202.9,511 203.2,510.9 203.5,508.2 203.8,511.1 204.1,510.7 204.4,514 204.7,509.9 205,511.1 205.3,512.1 205.6,511.8 205.9,510.9 206.2,511.2 206.4,512.7 206.7,511.5 207,511.8 207.3,512.4 207.5,509.6 207.8,511.3 208.1,513.5 208.3,511.9 208.6,512 208.8,511.6 209.1,512.9 209.3,514.2 209.6,513.4 209.8,510.2 210.1,509.5 210.3,512.6 210.6,515.2 210.8,513.5 211,512.1 211.3,511.3 211.5,511.9 211.7,511.5 212,512 212.2,512.7 212.4,513.1 212.7,513.8 212.9,514.9 213.1,513.9 213.3,513.4 213.5,512.2 213.7,515 214,511.8 214.2,514.8 214.4,511.6 214.6,490.3 214.8,512.8 215,513.5 215.2,513.4 215.4,514.4 215.6,513.2 215.8,513.9 216,512.9 216.2,508.3 216.4,513.9 216.6,515.3 216.8,513.6 217,516.2 217.2,513.7 217.4,513.8 217.5,512.8 217.7,515.6 217.9,512.9 218.1,514.1 218.3,513.3 218.5,514.3 218.6,513.9 218.8,512.5 219,514.3 219.2,513.5 219.3,514.4 219.5,514 219.7,513 219.9,514.5 220,514.3 220.2,513 220.4,513.8 220.5,514.7 220.7,514.3 220.9,515.4 221,514.9 221.2,515.6 221.4,514.1 221.5,513.7 221.7,472.4 221.9,513.1 222,513.8 222.2,514.9 222.3,515 222.5,515.2 222.6,514.5 222.8,514.3 223,513.2 223.1,511.7 223.3,513.9 223.4,513.4 223.6,515.4 223.7,514.2 223.9,513.3 224,513.6 224.2,515.5 224.3,483 224.5,513.6 224.6,515.5 224.7,513.3 224.9,515.1 225,515.4 225.2,515.2 225.3,514.2 225.5,512.5 225.6,513.4 225.7,512.1 225.9,512.5 226,513.6 226.1,513 226.3,515.5 226.4,513.4 226.6,514.2 226.7,515.3 226.8,513.2 227,513.8 227.1,513.7 227.2,495.3 227.4,515 227.5,512.7 227.6,513.9 227.7,513.1 227.9,513.8 228,513.6 228.1,514.5 228.3,513.5 228.4,513.9 228.5,514.4 228.6,514 228.8,513.5 228.9,513.4 229,513.8 229.1,514.8 229.3,513.2 229.4,514.3 229.5,516.1 229.6,515.1 229.7,513.4 229.9,477.8 230,513.3 230.1,513.3 230.2,511.9 230.3,513 230.4,517.4 230.6,514.5 230.7,516 230.8,513.9 230.9,513.9 231,512.8 231.1,513 231.3,512.6 231.4,514.1 231.5,514.3 231.6,513.3 231.7,513.9 231.8,514.1 231.9,512.2 232,513.8 232.2,513.8 232.3,513 232.4,513.6 232.5,512.4 232.6,512.2 232.7,514 232.8,512.6 232.9,512.5 233,512.8 233.1,513.8 233.2,510.7 233.3,512.8 233.4,512.5 233.6,513.8 233.7,511.1 233.8,513.6 233.9,514.1 234,514.2 234.1,513.3 234.2,514.5 234.3,513.3 234.4,513 234.5,512 234.6,511.9 234.7,512 234.8,511.9 234.9,510.6 235,512.6 235.1,511.6 235.2,512 235.3,512.3 235.4,514.4 235.5,512.8 235.6,511.2 235.7,506.5 235.8,513.3 235.9,512.7 236,512.2 236.1,512.4 236.2,512.8 236.2,514.1 236.3,511.8 236.4,513 236.5,513 236.6,513.1 236.7,512 236.8,515 236.9,514 237,511.3 237.1,512 237.2,513.4 237.3,510.6 237.4,513.2 237.5,512.4 237.5,511.6 237.6,513.2 237.7,511.8 237.8,511.8 237.9,508.8 238,513.5 238.1,510.9 238.2,512.2 238.3,510.3 238.4,511.5 238.4,511.8 238.5,512.1 238.6,512.9 238.7,511.9 238.8,512.7 238.9,510.7 239,510.9 239.1,513.5 239.1,512.9 239.2,512.9 239.3,511.2 239.4,511.5 239.5,511.5 239.6,512.2 239.6,511.2 239.7,513.4 239.8,511.2 239.9,511.7 240,511.7 240.1,512.2 240.1,514.6 240.2,510.9 240.3,512.8 240.4,511.4 240.5,512.6 240.6,511.2 240.6,508.3 240.7,511 240.8,511.9 240.9,511.2 241,511.3 241,513.8 241.1,510.5 241.2,511.2 241.3,511.7 241.4,511.7 241.4,511 241.5,512.5 241.6,511.7 241.7,511.5 241.8,509.5 241.8,512.2 241.9,512.9 242,512 242.1,511.8 242.1,511.6 242.2,511.3 242.3,510.5 242.4,510.7 242.4,510.9 242.5,508.5 242.6,509.8 242.7,510 242.7,510.8 242.8,511.5 242.9,510.4 243,512.5 243,511.3 243.1,511.2 243.2,511.7 243.3,508.7 243.3,505.5 243.4,510.8 243.5,511.5 243.6,509.6 243.6,510.2 243.7,510.4 243.8,509.5 243.9,511.1 243.9,509.9 244,508 244.1,509.4 244.1,509.6 244.2,508.2 244.3,508.9 244.4,508.3 244.4,510.4 244.5,510.5 244.6,509.7 244.6,510.5 244.7,510.8 244.8,506.3 244.9,510 244.9,511.1 245,509.4 245.1,509.6 245.1,509.7 245.2,509.5 245.3,509.1 245.3,510.5 245.4,509.7 245.5,509.2 245.5,508.5 245.6,509.3 245.7,510.3 245.7,508.6 245.8,510.3 245.9,509.2 245.9,493.3 246,509.4 246.1,508.5 246.1,509.3 246.2,509.6 246.3,509.3 246.3,508.8 246.4,508.4 246.5,510.5 246.5,508.6 246.6,509.2 246.7,507.9 246.7,510.6 246.8,508.4 246.9,509.3 246.9,509.2 247,509.7 247.1,507.5 247.1,509.9 247.2,507.9 247.3,510 247.3,508 247.4,509.9 247.4,508.7 247.5,507 247.6,507.7 247.6,510 247.7,508.3 247.8,511.1 247.8,508 247.9,510.2 248,507.8 248.6,508.2 249.2,507 249.8,507.9 250.3,506.2 250.9,506.4 251.5,504.8 252,507 252.5,506.1 253.1,506.3 253.6,505.5 254.1,504 254.6,504.7 255.1,504.6 255.5,503.6 256,502.7 256.5,501.7 256.9,499.6 257.4,500.3 257.8,497.6 258.3,498.2 258.7,497.5 259.1,498.4 259.5,497.2 259.9,496.3 260.3,494 260.7,494.9 261.1,493.3 261.5,492.7 261.9,489.9 262.3,491.7 262.6,490.6 263,491.5 263.3,492.4 263.7,491.9 264.1,493.4 264.4,495.7 264.7,494.7 265.1,496.6 265.4,496.4 265.7,498.4 266.1,499 266.4,500.8 266.7,500.7 267,502.4 267.3,501.8 267.7,502.5 268,501.8 268.3,505.2 268.6,504.4 268.9,505.7 269.1,507.1 269.4,505.3 269.7,509.1 270,508.7 270.3,507.9 270.6,509 270.8,509.5 271.1,509.6 271.4,509.7 271.6,512.9 271.9,511.3 272.2,512.1 272.4,511.9 272.7,511.6 272.9,513.2 273.2,514 273.4,513.9 273.7,516.1 273.9,511.1 274.2,515.3 274.4,516.9 274.7,517 274.9,517 275.1,516.3 275.4,515.3 275.6,515.2 275.8,518.6 276.1,518.6 276.3,518.7 276.5,517.6 276.7,518.8 276.9,520.6 277.2,519.2 277.4,520.9 277.6,519.2 277.8,520.1 278,519.4 278.2,520.3 278.4,521.5 278.6,522.1 278.8,522.5 279.1,521.9 279.3,520.2 279.5,520.6 279.7,523.1 279.9,523.4 280.1,521.2 280.2,523.6 280.4,523 280.6,523.2 280.8,523.9 281,522.8 281.2,523.1 281.4,523.8 281.6,525.5 281.8,525.6 281.9,524.3 282.1,525.3 282.3,524.3 282.5,525.6 282.7,526.2 282.8,526.2 283,523.2 283.2,526.4 283.4,526.5 283.5,527.1 283.7,526.6 283.9,526.4 284.1,525.4 284.2,525.9 284.4,527.3 284.6,526.9 284.7,526.8 284.9,526.9 285.1,526.1 285.2,526 285.4,525.9 285.5,526.5 285.7,527.1 285.9,527.1 286,527.5 286.2,527.4 286.3,527.5 286.5,527.3 286.7,527.8 286.8,527 287,529.2 287.1,527 287.3,526.6 287.4,527.4 287.6,528.3 287.7,529.2 287.9,528 288,526.9 288.2,527.9 288.3,528.5 288.4,527.4 288.6,527.8 288.7,528.7 288.9,528.8 289,524.3 289.2,527 289.3,527.8 289.4,526.8 289.6,527.7 289.7,527.2 289.9,528.7 290,528.1 290.1,528.8 290.3,527.9 290.4,528.3 290.5,525.9 290.7,527.1 290.8,526.1 290.9,527.2 291.1,526.2 291.2,528 291.3,526.2 291.5,526.9 291.6,526 291.7,526.3 291.8,528.5 292,524.8 292.1,527.3 292.2,527.4 292.4,527.7 292.5,526.5 292.6,527.3 292.7,526.7 292.9,525.9 293,526.4 293.1,526.3 293.2,526 293.3,527.3 293.5,525.4 293.6,524.2 293.7,526.7 293.8,525.1 293.9,525 294.1,524.4 294.2,526.3 294.3,524.1 294.4,524.4 294.5,526.3 294.6,525.5 294.8,524.7 294.9,524.4 295,524.6 295.1,525.4 295.2,523.7 295.3,522.8 295.4,525 295.6,523.6 295.7,523.7 295.8,523.6 295.9,524.7 296,523.8 296.1,524.2 296.2,523.3 296.3,523.8 296.4,524.9 296.6,524.6 296.7,525.8 296.8,524.5 296.9,525.5 297,524.3 297.1,525.6 297.2,526.6 297.3,524.7 297.4,525.3 297.5,525.1 297.6,524.6 297.7,526.5 297.8,526.5 297.9,526 298,526.9 298.1,527.8 298.2,526.1 298.3,525.7 298.4,527 298.5,525.8 298.6,526.4 298.7,526.3 298.8,527.1 298.9,526.9 299,526 299.1,523 299.2,525.9 299.3,527.6 299.4,527.3 299.5,526.9 299.6,526.5 299.7,527.6 299.8,527.3 299.9,529 300,528 300.1,527.2 300.2,527.5 300.3,526.5 300.4,528.9 300.5,528.8 300.6,529.3 300.7,527.3 300.8,528.7 300.8,529 300.9,528.9 301,528.5 301.1,528.5 301.2,528.2 301.3,529.9 301.4,528.9 301.5,528.9 301.6,530.7 301.7,529.8 301.8,528.6 301.9,528.5 301.9,527 302,528.8 302.1,528 302.2,529.9 302.3,527.4 302.4,526.5 302.5,527.9 302.6,527.3 302.6,526.4 302.7,527.6 302.8,526.5 302.9,526.7 303,526.2 303.1,526.7 303.2,525.8 303.2,525.9 303.3,525.9 303.4,526.2 303.5,524.8 303.6,525.6 303.7,524.7 303.7,526.4 303.8,525.2 303.9,524.8 304,523.4 304.1,524 304.2,524.2 304.2,524.7 304.3,524.9 304.4,524.3 304.5,523.5 304.6,524.2 304.7,525.1 304.7,524.4 304.8,523.2 304.9,523.7 305,522.5 305.1,523.8 305.1,523.2 305.2,521.3 305.3,522.7 305.4,520.9 305.4,522.7 305.5,520.3 305.6,520.7 305.7,522.3 305.8,521.2 305.8,522.7 305.9,521.9 306,520.8 306.1,520.6 306.1,521 306.2,519.8 306.3,520.3 306.4,519.2 306.4,520.6 306.5,519.9 306.6,520.5 306.7,517.6 306.7,518.7 306.8,518.8 306.9,517.9 307,517.3 307,517.4 307.1,519 307.2,517.9 307.3,516.1 307.3,516.4 307.4,516.4 307.5,516.3 307.6,515.6 307.6,514.5 307.7,515.6 307.8,515.5 307.9,514.5 307.9,513.8 308,513.7 308.1,512.3 308.1,513.4 308.2,512.7 308.3,511.8 308.3,512.3 308.4,510.4 308.5,509.5 308.6,510.7 308.6,509.7 308.7,508.5 308.8,510.2 308.8,506.5 308.9,508.3 309,507.5 309,506.8 309.1,505.5 309.2,505.8 309.3,504.7 309.3,503 309.4,502.8 309.5,503.5 309.5,502.1 309.6,502.1 309.7,500.6 309.7,501.1 309.8,500.5 309.9,500.6 309.9,500.1 310,498 310.1,494.9 310.1,494 310.2,491.2 310.3,487.9 310.3,484.6 310.4,483 310.5,480.1 310.5,477.4 310.6,475 310.7,473.3 310.7,470 310.8,466.9 310.8,463.4 310.9,461.7 311,457.5 311,451.9 311.1,446.7 311.2,439.5 311.2,433.9 311.3,428.1 311.4,421.4 311.4,415.5 311.5,410.2 311.5,403.4 311.6,397.6 311.7,398.6 311.7,398 311.8,398.6"/>
<polyline fill="none" stroke="#ff0000" stroke-width="0.9" stroke-linejoin="round"  points="56.4,426.9 57,426.7 57.6,422.2 58.2,415.8 58.8,416.8 59.4,406.6 59.9,415.6 60.5,408.8 61,414.9 61.5,417.9 62,408.9 62.5,416.2 63,417.1 63.5,414.5 64,421 64.5,425.8 64.9,419.9 65.4,424.3 65.8,425.6 66.3,428.9 66.7,430.7 67.1,425.1 67.6,433.5 68,432.2 68.4,433.8 68.8,427.1 69.2,429.4 69.6,431.5 69.9,427.6 70.3,424.2 70.7,431.3 71.1,431.7 71.4,429.2 71.8,430.2 72.2,434.1 72.5,433.5 72.9,432.5 73.2,430.9 73.5,414.8 73.9,432.5 74.2,433.5 74.5,430.4 74.8,442.1 75.2,437.8 75.5,438.7 75.8,434.7 76.1,441.9 76.4,440.4 76.7,438.5 77,437.6 77.3,438 77.6,442.4 77.9,434.5 78.2,441.1 78.5,438.3 78.7,437.1 79,440.4 79.3,438.2 79.6,443.4 79.8,440 80.1,441.1 80.4,443.7 80.6,441.6 80.9,442.6 81.1,437.8 81.4,442.5 81.6,444.6 81.9,441.4 82.1,442 82.4,434.7 82.6,436.9 82.9,441.3 83.1,443.9 83.3,436.3 83.6,441.6 83.8,446.9 84,441.7 84.3,447.4 84.5,439.9 84.7,442.3 85,446.5 85.2,445.3 85.4,449.6 85.6,439.3 85.8,443.5 86,441.9 86.3,440.1 86.5,444.6 86.7,444.9 86.9,444.6 87.1,442.4 87.3,445.4 87.5,440 87.7,442.2 87.9,442.5 88.1,444.3 88.3,445.6 88.5,444.1 88.7,440.9 88.9,438.9 89.1,439.3 89.3,443 89.5,440.5 89.7,441.1 89.8,431.3 90,431.8 90.2,438.9 90.4,441.4 90.6,443.1 90.8,436.4 90.9,438.4 91.1,447.7 91.3,443.6 91.5,442.3 91.6,441.6 91.8,448 92,444 92.2,444.8 92.3,447.8 92.5,443.9 92.7,447.7 92.8,446.7 93,449.5 93.2,446 93.3,446.2 93.5,448.6 93.7,450.3 93.8,448.3 94,447.9 94.2,448.4 94.3,449.8 94.5,446.7 94.6,450.6 94.8,449.8 94.9,446.1 95.1,452.7 95.3,450.6 95.4,450.2 95.6,453.2 95.7,455.1 95.9,454.3 96,457.5 96.2,452.2 96.3,452.7 96.5,450.9 96.6,448.1 96.8,452.7 96.9,452.9 97,452.4 97.2,455.1 97.3,457.9 97.5,456.2 97.6,454.2 97.8,454.8 97.9,454.9 98,456.8 98.2,455.4 98.3,411.8 98.4,456.3 98.6,459.2 98.7,458.4 98.9,456.6 99,453.2 99.1,456.8 99.3,455.8 99.4,449 99.5,450.5 99.7,458.3 99.8,462.2 99.9,458.4 100,454.8 100.2,459.9 100.3,458.4 100.4,458 100.6,457.1 100.7,459.9 100.8,455.8 100.9,456.2 101.1,459.8 101.2,463.8 101.3,456.2 101.4,457.2 101.6,457.4 101.7,461.5 101.8,459.3 101.9,458.1 102,457 102.2,443.4 102.3,455.4 102.4,459.9 102.5,460.1 102.6,457.6 102.7,454.9 102.9,460.2 103,460.5 103.1,453.9 103.2,458.9 103.3,457.2 103.4,454.6 103.6,459.5 103.7,457.2 103.8,456.4 103.9,457.7 104,458 104.1,458.7 104.2,458.2 104.3,455.3 104.5,461.9 104.6,456.7 104.7,457.6 104.8,457.5 104.9,457.6 105,457.8 105.1,456.6 105.2,461.7 105.3,456.4 105.4,456.6 105.5,457.8 105.6,458.2 105.7,456.3 105.9,454.2 106,455 106.1,455.6 106.2,455.4 106.3,455 106.4,458.1 106.5,459.5 106.6,457.8 106.7,456.2 106.8,461.7 106.9,457.1 107,459.5 107.1,458.4 107.2,459.2 107.3,457.3 107.4,458.6 107.5,460.1 107.6,460.5 107.7,459.9 107.8,457.9 107.9,460.4 108,450.9 108.1,456.9 108.2,458.7 108.3,462.8 108.4,458.5 108.5,458.3 108.5,457.7 108.6,458.8 108.7,456.9 108.8,456.8 108.9,456.7 109,443.4 109.1,456.2 109.2,458.4 109.3,458.9 109.4,456.2 109.5,463.3 109.6,457.3 109.7,460.4 109.8,463.6 109.8,458.3 109.9,457.5 110,460.1 110.1,459.2 110.2,458.3 110.3,460.9 110.4,459.7 110.5,459 110.6,455.1 110.7,460.6 110.7,462 110.8,462.2 110.9,460.8 111,460 111.1,460.3 111.2,459.7 111.3,459.6 111.4,459.6 111.4,461.8 111.5,461.5 111.6,463.1 111.7,458.4 111.8,459.6 111.9,461.6 111.9,461.3 112,459.8 112.1,462.7 112.2,462 112.3,462.7 112.4,461.5 112.4,459.4 112.5,462.3 112.6,459.6 112.7,461 112.8,462.1 112.9,460.4 112.9,463.5 113,461.5 113.1,461.6 113.2,458.4 113.3,462.5 113.3,461.5 113.4,463.9 113.5,463.6 113.6,461 113.7,459.5 113.7,460.2 113.8,464.5 113.9,463.8 114,464.3 114.1,462.5 114.1,460.7 114.2,461.1 114.3,462.3 114.4,462.5 114.4,466.1 114.5,468 114.6,463.2 114.7,465.5 114.7,463 114.8,464.6 114.9,461.9 115,464 115,464.5 115.1,463.4 115.2,461.6 115.3,463.9 115.3,461.3 115.4,465.2 115.5,465.2 115.6,463.9 115.6,463.5 115.7,462.6 115.8,463.7 115.9,463.7 115.9,453.3 116,461.9 116.1,464.3 116.2,463.4 116.2,463.6 116.3,460.9 116.4,466.2 116.4,460.7 116.5,461.8 116.6,467.1 116.7,464.6 116.7,464 116.8,463.7 116.9,465.7 116.9,462.8 117,465.7 117.1,462.2 117.2,464.2 117.2,465.8 117.3,462.1 117.4,463.7 117.4,463.3 117.5,462.9 117.6,464.6 117.6,464.8 117.7,463.6 117.8,462.2 117.8,463.6 117.9,465 118,461.8 118,465.3 118.1,464.8 118.2,464.7 118.2,464.5 118.3,463.7 118.4,463.6 118.4,465.4 118.5,465.4 118.6,463.2 118.6,463.2 118.7,465.6 118.8,462.9 118.8,464.6 118.9,463.9 119,459.8 119,464 119.1,465 119.2,464.4 119.2,465.2 119.3,464.4 119.4,465 119.4,465.3 119.5,464.9 119.6,464.1 119.6,464.5 119.7,464.9 119.7,465.2 119.8,464.2 119.9,457.5 119.9,464.5 120,464.2 120.1,465.8 120.1,465.4 120.2,465.2 120.2,457.6 120.9,464.1 121.5,464.3 122.1,465.5 122.6,465.4 123.2,465 123.8,466 124.3,467.9 124.8,459.9 125.4,467.3 125.9,469.4 126.4,470.3 126.9,468.5 127.4,468.9 127.8,469.1 128.3,461.6 128.8,469.1 129.2,468.6 129.7,471.5 130.1,470 130.6,469.2 131,469.7 131.4,472.6 131.8,471.3 132.2,464.5 132.6,472.8 133,473.8 133.4,472.9 133.8,471.5 134.2,473.4 134.6,473.3 134.9,473.7 135.3,472.3 135.6,473.6 136,475.9 136.4,476.7 136.7,474.3 137,475 137.4,475.2 137.7,467.1 138,473.6 138.4,474.8 138.7,474.2 139,473.8 139.3,475.4 139.6,476.1 140,477.5 140.3,475.2 140.6,474.5 140.9,477.3 141.2,476.9 141.4,477.3 141.7,476 142,477.1 142.3,468 142.6,478.4 142.9,474.5 143.1,475.9 143.4,477.9 143.7,478.5 143.9,478.9 144.2,477.6 144.5,478 144.7,478.5 145,478.7 145.2,478.5 145.5,478.8 145.7,479.3 146,477.7 146.2,477.6 146.5,471.2 146.7,478.7 147,479.9 147.2,478.8 147.4,481.4 147.7,479.4 147.9,479.4 148.1,479.9 148.4,480.5 148.6,479.9 148.8,480.2 149,478.8 149.2,481.7 149.5,482.3 149.7,480.4 149.9,480.7 150.1,472.3 150.3,481.4 150.5,480.1 150.7,479.5 150.9,481.8 151.1,480.1 151.4,481 151.6,480.8 151.8,481.7 152,481.8 152.2,480.6 152.4,482.7 152.5,482 152.7,481.6 152.9,482.9 153.1,475.5 153.3,483.1 153.5,481.7 153.7,482.7 153.9,483.3 154.1,483.8 154.2,482.6 154.4,483.3 154.6,483.4 154.8,484.4 155,483.9 155.1,484.5 155.3,483.1 155.5,483.9 155.7,485.5 155.8,479.1 156,484.6 156.2,482.3 156.4,484.6 156.5,484.2 156.7,485 156.9,485.1 157,484.9 157.2,484.9 157.4,484.6 157.5,483.4 157.7,484.6 157.8,484.4 158,487.2 158.2,483.9 158.3,487.8 158.5,485.3 158.6,485 158.8,485.9 159,481.1 159.1,483.7 159.3,485.3 159.4,486.2 159.6,484.6 159.7,484.1 159.9,487.4 160,486.4 160.2,488.7 160.3,487.8 160.5,486.9 160.6,485.6 160.7,486.5 160.9,484.4 161,486.7 161.2,489.4 161.3,488.2 161.5,486.2 161.6,486.8 161.7,488 161.9,486.8 162,487.2 162.2,487.3 162.3,482.2 162.4,488 162.6,489.9 162.7,489.6 162.8,487.4 163,488.5 163.1,488.3 163.2,487.7 163.4,489.5 163.5,489.7 163.6,489 163.8,488.9 163.9,489.5 164,489.2 164.1,487.4 164.3,489.5 164.4,489.3 164.5,490.2 164.7,490.1 164.8,488.9 164.9,489.4 165,489.1 165.2,488.6 165.3,488.2 165.4,485.1 165.5,489.8 165.6,488.4 165.8,488 165.9,490 166,490.6 166.1,489 166.2,488.9 166.4,491.6 166.5,492.1 166.6,490.8 166.7,486.9 166.8,489.8 166.9,489.8 167.1,491.7 167.2,490.9 167.3,491.9 167.4,491.3 167.5,489.8 167.6,490.5 167.7,490.6 167.9,491 168,491.1 168.1,490.7 168.2,491.6 168.3,490.4 168.4,491.3 168.5,487.4 168.6,493.1 168.7,491.1 168.9,491.8 169,491 169.1,491.6 169.2,492.1 169.3,491.1 169.4,490.4 169.5,490.9 169.6,490.3 169.7,491.3 169.8,490.7 169.9,492.2 170,492.2 170.1,491.2 170.2,493 170.3,492.8 170.4,491.5 170.5,492.7 170.6,490.5 170.7,491 170.8,493.1 170.9,488.8 171,492.6 171.1,492.2 171.2,492.4 171.3,492.6 171.4,492.4 171.5,493.1 171.6,494.3 171.7,488.9 171.8,492.3 171.9,493.1 172,492.1 172.1,493.1 172.2,491.4 172.3,493.1 172.4,491.8 172.5,491.6 172.6,491.1 172.7,493.8 172.8,492.7 172.9,491.2 173,494.4 173.1,493.6 173.1,493.8 173.2,493.2 173.3,492.2 173.4,493.4 173.5,492.4 173.6,492.6 173.7,494.5 173.8,493 173.9,493.4 174,492.6 174.1,492.6 174.2,493.8 174.2,494.2 174.3,492.8 174.4,491.7 174.5,493.5 174.6,493.3 174.7,494.6 174.8,491 174.9,489 174.9,494.5 175,490.4 175.1,492.3 175.2,492.8 175.3,493.4 175.4,494 175.5,495.3 175.5,494.6 175.6,493.6 175.7,493.3 175.8,493.7 175.9,493.6 176,493.3 176,495 176.1,495 176.2,494.7 176.3,493.1 176.4,493.8 176.5,493.7 176.5,494.7 176.6,494.6 176.7,494.2 176.8,494.9 176.9,495.1 177,494.2 177,494.7 177.1,494.5 177.2,493.1 177.3,493.5 177.4,495 177.4,494.4 177.5,494.4 177.6,494.9 177.7,494 177.7,494.6 177.8,495.1 177.9,494 178,495.3 178.1,495.4 178.1,493.7 178.2,494.5 178.3,492 178.4,493.9 178.4,495.3 178.5,494.7 178.6,494.8 178.7,494.7 178.7,495.3 178.8,494.4 178.9,492.7 179,493.8 179,494.2 179.1,494.9 179.2,496 179.3,492.9 179.3,495.6 179.4,494 179.5,493.9 179.6,494.3 179.6,495.5 179.7,497.8 179.8,496.4 179.9,496 179.9,495.9 180,493.8 180.1,494 180.2,494.6 180.2,493.6 180.3,494.7 180.4,495.3 180.4,495.6 180.5,495.5 180.6,495.7 180.6,494.5 180.7,494.2 180.8,496 180.9,494.9 180.9,496.1 181,494.4 181.1,496.8 181.1,495.4 181.2,495.7 181.3,497.2 181.3,497.6 181.4,497.1 181.5,493.5 181.6,495.7 181.6,494.6 181.7,495.1 181.8,496.6 181.8,495.1 181.9,493.8 182,495.8 182,496 182.1,496.5 182.2,496.4 182.2,494.9 182.3,497.1 182.4,495.4 182.4,495.3 182.5,496.5 182.6,493.5 182.6,496.4 182.7,497.4 182.8,495.5 182.8,497.5 182.9,495.8 183,496.5 183,496.2 183.1,495.4 183.1,496.1 183.2,495.9 183.3,496.8 183.3,496.3 183.4,497.3 183.5,496.9 183.5,496.3 183.6,495.2 183.7,495.7 183.7,495.9 183.8,496.1 183.8,497.5 183.9,495.8 184,495.7 184,494.6 184.1,496.4 184.7,498.4 185.3,496.6 185.9,495.8 186.5,498.3 187.1,497.5 187.6,497.1 188.2,498.1 188.7,497 189.2,497.9 189.7,497.3 190.2,500.5 190.7,498.2 191.2,498.7 191.7,498.5 192.2,499.8 192.6,498.3 193.1,500.3 193.5,498.2 194,500.4 194.4,498.7 194.8,500.4 195.3,499.9 195.7,500.4 196.1,500.3 196.5,499.9 196.9,502.5 197.3,498.7 197.6,500.4 198,501 198.4,501.6 198.8,503.2 199.1,503.3 199.5,502.4 199.9,503 200.2,501.8 200.6,501.5 200.9,501.8 201.2,502.9 201.6,504.1 201.9,503 202.2,502.4 202.5,504.5 202.9,502.1 203.2,503.5 203.5,504.6 203.8,504.2 204.1,504.6 204.4,503.8 204.7,507 205,503.7 205.3,506.5 205.6,503 205.9,505.8 206.2,508 206.4,503.3 206.7,507.7 207,508.1 207.3,507 207.5,505.5 207.8,506.2 208.1,505.6 208.3,506.7 208.6,505.4 208.8,505.9 209.1,505.8 209.3,505.6 209.6,509 209.8,506.7 210.1,494.7 210.3,507.8 210.6,508.7 210.8,507.8 211,507.5 211.3,511.4 211.5,507.9 211.7,508.1 212,508.4 212.2,508.4 212.4,509.4 212.7,509.4 212.9,509.5 213.1,510.9 213.3,509.5 213.5,508.1 213.7,507.6 214,509.6 214.2,510.2 214.4,511 214.6,498.5 214.8,508.3 215,508.5 215.2,510.8 215.4,508.5 215.6,509.1 215.8,509 216,508.9 216.2,508.1 216.4,511.7 216.6,510.2 216.8,507.9 217,511.1 217.2,508.8 217.4,511.2 217.5,511.2 217.7,510.6 217.9,509.6 218.1,507.2 218.3,509.4 218.5,510.4 218.6,511.2 218.8,510.3 219,510.8 219.2,510.7 219.3,509.4 219.5,510.9 219.7,509.9 219.9,511 220,508.5 220.2,508.9 220.4,510.2 220.5,512.3 220.7,512.2 220.9,511.4 221,511.2 221.2,507.9 221.4,509.7 221.5,510.5 221.7,484.2 221.9,508.9 222,511.1 222.2,511.5 222.3,509.4 222.5,510.2 222.6,513.2 222.8,510.8 223,511.9 223.1,508.8 223.3,510.9 223.4,512.5 223.6,509.3 223.7,510.8 223.9,511.2 224,510.6 224.2,511.7 224.3,494.7 224.5,512.1 224.6,510.9 224.7,504.5 224.9,507.3 225,506.8 225.2,508.3 225.3,510.3 225.5,511.9 225.6,512 225.7,510.3 225.9,510 226,512.3 226.1,510.8 226.3,512.5 226.4,511.3 226.6,511.3 226.7,510.3 226.8,509.9 227,511.6 227.1,513.2 227.2,510.5 227.4,513.4 227.5,511 227.6,509.4 227.7,511.7 227.9,511.1 228,512.3 228.1,513 228.3,510.4 228.4,512.2 228.5,509.6 228.6,512.1 228.8,512.2 228.9,511.6 229,511.2 229.1,511.9 229.3,509 229.4,512.8 229.5,511.2 229.6,512.4 229.7,510.5 229.9,486.8 230,512.4 230.1,512.1 230.2,512 230.3,511.8 230.4,513.4 230.6,510 230.7,509.6 230.8,509.3 230.9,509.2 231,512.5 231.1,513.3 231.3,511.7 231.4,511.6 231.5,510.3 231.6,513.8 231.7,511.9 231.8,512.7 231.9,513.1 232,511.9 232.2,512.6 232.3,511.7 232.4,509.6 232.5,511.4 232.6,511.1 232.7,510.9 232.8,506.9 232.9,510.9 233,511.1 233.1,511.6 233.2,509.6 233.3,512.8 233.4,511 233.6,512 233.7,510.8 233.8,512.6 233.9,510.9 234,511.2 234.1,512.2 234.2,511.8 234.3,509.9 234.4,511.5 234.5,510.8 234.6,510.7 234.7,510 234.8,511.4 234.9,511.3 235,511.6 235.1,510.6 235.2,510.4 235.3,510.9 235.4,511.2 235.5,511.2 235.6,511.8 235.7,510.8 235.8,511.5 235.9,510.3 236,510.9 236.1,510.5 236.2,510.9 236.2,512.4 236.3,513.1 236.4,512.6 236.5,511 236.6,510.1 236.7,510.8 236.8,511.4 236.9,512.2 237,510 237.1,508.9 237.2,511.7 237.3,508.8 237.4,511.8 237.5,511.5 237.5,512.7 237.6,511.4 237.7,510.9 237.8,511 237.9,511.1 238,508.7 238.1,510.8 238.2,511.5 238.3,510.5 238.4,510.4 238.4,508.5 238.5,512.4 238.6,511.1 238.7,509.4 238.8,510 238.9,510.1 239,512 239.1,510.1 239.1,511.1 239.2,511 239.3,511 239.4,509.6 239.5,509.9 239.6,510.9 239.6,509.6 239.7,510.3 239.8,511.6 239.9,512 240,509.9 240.1,510.3 240.1,509 240.2,505.1 240.3,509.9 240.4,511 240.5,510 240.6,509.7 240.6,511.2 240.7,510.8 240.8,510.3 240.9,510.9 241,507.7 241,512.5 241.1,509.8 241.2,510.1 241.3,512.2 241.4,509.9 241.4,510.9 241.5,511.2 241.6,509.8 241.7,509.9 241.8,509.6 241.8,509.6 241.9,511 242,510.6 242.1,510.4 242.1,509.3 242.2,509.4 242.3,509.8 242.4,508.7 242.4,509.4 242.5,509.3 242.6,510.7 242.7,509.9 242.7,510.4 242.8,511.9 242.9,509.5 243,509.2 243,509.3 243.1,508.5 243.2,509.1 243.3,510.3 243.3,509.7 243.4,510.6 243.5,510.7 243.6,510.5 243.6,511 243.7,510.2 243.8,508.4 243.9,508.2 243.9,510 244,506.1 244.1,510.8 244.1,509.4 244.2,508.4 244.3,510.2 244.4,511 244.4,509.9 244.5,509.7 244.6,509.8 244.6,510.7 244.7,510.3 244.8,510.1 244.9,511.5 244.9,509.3 245,510.4 245.1,508.9 245.1,508.6 245.2,510.7 245.3,508.9 245.3,507.7 245.4,511.1 245.5,509.5 245.5,510.1 245.6,510.4 245.7,511.4 245.7,509.5 245.8,509.3 245.9,509.6 245.9,500.5 246,509.6 246.1,509.6 246.1,510.5 246.2,510.4 246.3,508.7 246.3,509.5 246.4,510.3 246.5,507.8 246.5,508.5 246.6,510.1 246.7,509.5 246.7,509.1 246.8,510 246.9,508.7 246.9,509.9 247,511 247.1,509.8 247.1,510.5 247.2,509.9 247.3,509.8 247.3,509.9 247.4,508.6 247.4,509.7 247.5,510.2 247.6,510.3 247.6,509.7 247.7,507.9 247.8,509.1 247.8,509.1 247.9,509.3 248,509.5 248.6,509.8 249.2,509 249.8,509.3 250.3,508.3 250.9,507.6 251.5,507.3 252,507.8 252.5,506.5 253.1,506.4 253.6,507.4 254.1,504.1 254.6,505.3 255.1,506.7 255.5,505.4 256,503.4 256.5,503.9 256.9,502.8 257.4,502.8 257.8,500.1 258.3,500.3 258.7,496.4 259.1,498.2 259.5,497.7 259.9,496.7 260.3,496.2 260.7,494.6 261.1,492.9 261.5,494.5 261.9,493 262.3,491.4 262.6,490.7 263,493.3 263.3,493.5 263.7,492.6 264.1,495.5 264.4,496.7 264.7,496.8 265.1,496.5 265.4,497.1 265.7,497.9 266.1,499.2 266.4,500.8 266.7,499.7 267,502.3 267.3,503 267.7,503.3 268,503.2 268.3,504.6 268.6,505.4 268.9,506.4 269.1,508.1 269.4,508.2 269.7,508.2 270,510.4 270.3,507.8 270.6,511.3 270.8,512.1 271.1,512.4 271.4,512 271.6,512.3 271.9,513.1 272.2,511.6 272.4,514.1 272.7,513.1 272.9,513.9 273.2,514.9 273.4,516.5 273.7,516.4 273.9,516.5 274.2,516.3 274.4,516.6 274.7,517.2 274.9,518.4 275.1,518.7 275.4,520 275.6,517.7 275.8,518.3 276.1,518.4 276.3,520.4 276.5,516.2 276.7,519.6 276.9,520.3 277.2,519.3 277.4,520 277.6,521.3 277.8,521.1 278,523 278.2,521.5 278.4,522 278.6,522.9 278.8,522.8 279.1,523 279.3,521.9 279.5,522.6 279.7,522.8 279.9,523.5 280.1,523.7 280.2,524.7 280.4,524.1 280.6,524.6 280.8,526.4 281,524.6 281.2,524.7 281.4,524.1 281.6,526.4 281.8,525.9 281.9,526.1 282.1,525.9 282.3,527.5 282.5,527.1 282.7,527 282.8,527.2 283,527 283.2,526.9 283.4,527.4 283.5,527.3 283.7,527.6 283.9,527.4 284.1,526.8 284.2,527.6 284.4,527.5 284.6,526.9 284.7,527.2 284.9,528.3 285.1,528.6 285.2,528.6 285.4,528.7 285.5,528.7 285.7,527 285.9,528.1 286,528.8 286.2,529.1 286.3,529 286.5,530.7 286.7,528.5 286.8,528.2 287,529.9 287.1,529.5 287.3,527.7 287.4,528.4 287.6,529 287.7,529.5 287.9,527.5 288,528.2 288.2,527.3 288.3,528.8 288.4,530.4 288.6,528 288.7,530 288.9,528.4 289,529.3 289.2,529.9 289.3,529.5 289.4,529.1 289.6,529.2 289.7,529.3 289.9,529 290,528 290.1,528.9 290.3,527.7 290.4,528.2 290.5,529.5 290.7,528.1 290.8,528.1 290.9,526.2 291.1,528 291.2,528.4 291.3,527.2 291.5,527.7 291.6,527.8 291.7,528.3 291.8,526 292,528.5 292.1,527.6 292.2,526.7 292.4,528.3 292.5,526.2 292.6,527.5 292.7,528 292.9,525.5 293,526.8 293.1,526.8 293.2,527 293.3,526.9 293.5,526.4 293.6,526.6 293.7,526.4 293.8,525.9 293.9,527.3 294.1,525.4 294.2,527.7 294.3,526.5 294.4,527.5 294.5,526 294.6,526.4 294.8,524.7 294.9,527 295,524 295.1,525.5 295.2,525.6 295.3,525.4 295.4,524.4 295.6,520 295.7,524.4 295.8,524.9 295.9,525.4 296,524.7 296.1,526.6 296.2,525.2 296.3,524.9 296.4,526.5 296.6,526.4 296.7,525.6 296.8,526.7 296.9,526.5 297,527.1 297.1,525.8 297.2,527.3 297.3,526.5 297.4,526.1 297.5,527.3 297.6,528.8 297.7,527.1 297.8,527.5 297.9,523.1 298,527.8 298.1,526.2 298.2,527.6 298.3,527.3 298.4,527.9 298.5,527.1 298.6,528.2 298.7,528.4 298.8,528.6 298.9,528.6 299,529.1 299.1,525.7 299.2,528.5 299.3,528.9 299.4,527.9 299.5,527.9 299.6,529 299.7,529.2 299.8,528.8 299.9,529.3 300,529.9 300.1,528 300.2,529.5 300.3,529.6 300.4,529.2 300.5,529.7 300.6,528.5 300.7,530.8 300.8,530.2 300.8,528.3 300.9,529.6 301,529.5 301.1,530.1 301.2,529.5 301.3,529 301.4,531.9 301.5,529.5 301.6,530.8 301.7,529.4 301.8,528.9 301.9,530.6 301.9,530.2 302,529.3 302.1,529.9 302.2,529.6 302.3,529.1 302.4,528.7 302.5,529.2 302.6,528.6 302.6,528.8 302.7,527.5 302.8,527.9 302.9,527.8 303,527.9 303.1,527.6 303.2,527.8 303.2,529.4 303.3,528.2 303.4,528.5 303.5,526.8 303.6,526.2 303.7,526.8 303.7,525.8 303.8,524.2 303.9,525.8 304,525.7 304.1,523.5 304.2,524.7 304.2,525.1 304.3,525.7 304.4,525.3 304.5,524.6 304.6,526.1 304.7,523.9 304.7,524.4 304.8,524.7 304.9,522.9 305,522.9 305.1,524.3 305.1,524.2 305.2,524.2 305.3,522 305.4,523.2 305.4,524.1 305.5,524.2 305.6,521.8 305.7,522.4 305.8,521.7 305.8,522.1 305.9,523.3 306,521 306.1,521.8 306.1,522.6 306.2,521.3 306.3,522.3 306.4,520.6 306.4,521.2 306.5,521.8 306.6,520.1 306.7,520.5 306.7,517.5 306.8,520.8 306.9,520.1 307,518.4 307,519.8 307.1,517.7 307.2,517.8 307.3,517.2 307.3,518.5 307.4,518.7 307.5,517.7 307.6,517.8 307.6,517.2 307.7,515.3 307.8,515.8 307.9,514.3 307.9,515.9 308,514.2 308.1,514.6 308.1,515 308.2,513.7 308.3,510.6 308.3,513.5 308.4,513.4 308.5,511.6 308.6,511.1 308.6,512.7 308.7,509.7 308.8,510.2 308.8,510.2 308.9,509.7 309,507.6 309,509.8 309.1,508.1 309.2,507.8 309.3,506.8 309.3,506.4 309.4,505.7 309.5,506.1 309.5,505 309.6,503.4 309.7,504.1 309.7,504.3 309.8,502.8 309.9,503.4 309.9,501.7 310,501.3 310.1,501.2 310.1,499.9 310.2,499.8 310.3,499.8 310.3,498 310.4,498 310.5,498.3 310.5,496.1 310.6,496.4 310.7,496 310.7,496.4 310.8,493.9 310.8,494.2 310.9,493.9 311,494.3 311,494 311.1,493.1 311.2,492.7 311.2,492.2 311.3,492.4 311.4,491.4 311.4,491 311.5,491.6 311.5,490 311.6,491 311.7,489.8 311.7,489.1 311.8,489.6"/>
</g>
<rect x="56.4" y="411.2" width="255.4" height="124.7" fill="none" stroke="#333" stroke-width="1.0"/>
<path d="M56.4,411.2v6M56.4,535.9v-6M120.2,411.2v6M120.2,535.9v-6M184.1,411.2v6M184.1,535.9v-6M248,411.2v6M248,535.9v-6M311.8,411.2v6M311.8,535.9v-6" stroke="#333" stroke-width="1.0" fill="none"/>
<path d="M75.6,411.2v3M75.6,535.9v-3M86.9,411.2v3M86.9,535.9v-3M94.8,411.2v3M94.8,535.9v-3M101,411.2v3M101,535.9v-3M106.1,411.2v3M106.1,535.9v-3M110.4,411.2v3M110.4,535.9v-3M114.1,411.2v3M114.1,535.9v-3M117.3,411.2v3M117.3,535.9v-3M139.5,411.2v3M139.5,535.9v-3M150.7,411.2v3M150.7,535.9v-3M158.7,411.2v3M158.7,535.9v-3M164.9,411.2v3M164.9,535.9v-3M169.9,411.2v3M169.9,535.9v-3M174.2,411.2v3M174.2,535.9v-3M177.9,411.2v3M177.9,535.9v-3M181.2,411.2v3M181.2,535.9v-3M203.3,411.2v3M203.3,535.9v-3M214.6,411.2v3M214.6,535.9v-3M222.5,411.2v3M222.5,535.9v-3M228.7,411.2v3M228.7,535.9v-3M233.8,411.2v3M233.8,535.9v-3M238.1,411.2v3M238.1,535.9v-3M241.8,411.2v3M241.8,535.9v-3M245,411.2v3M245,535.9v-3M267.2,411.2v3M267.2,535.9v-3M278.4,411.2v3M278.4,535.9v-3M286.4,411.2v3M286.4,535.9v-3M292.6,411.2v3M292.6,535.9v-3M297.6,411.2v3M297.6,535.9v-3M301.9,411.2v3M301.9,535.9v-3M305.6,411.2v3M305.6,535.9v-3M308.9,411.2v3M308.9,535.9v-3" stroke="#333" stroke-width="1.0" fill="none"/>
<path d="M56.4,443.9h6M311.8,443.9h-6M56.4,474.4h6M311.8,474.4h-6M56.4,505h6M311.8,505h-6" stroke="#333" stroke-width="1.0" fill="none"/>
<text x="33.74" y="417.24" font-size="11.13" fill="#000" textLength="18.86" lengthAdjust="spacingAndGlyphs">−80</text>
<text x="27.24" y="447.79" font-size="11.13" fill="#000" textLength="25.39" lengthAdjust="spacingAndGlyphs">−100</text>
<text x="27.24" y="478.34" font-size="11.13" fill="#000" textLength="25.39" lengthAdjust="spacingAndGlyphs">−120</text>
<text x="27.24" y="508.89" font-size="11.13" fill="#000" textLength="25.39" lengthAdjust="spacingAndGlyphs">−140</text>
<text x="27.24" y="539.44" font-size="11.13" fill="#000" textLength="25.39" lengthAdjust="spacingAndGlyphs">−160</text>
<text x="49.03" y="555.48" font-size="11.55" fill="#000" textLength="12.90" lengthAdjust="spacingAndGlyphs">10</text>
<text x="61.68" y="549.30" font-size="8.57" fill="#000" textLength="4.64" lengthAdjust="spacingAndGlyphs">2</text>
<text x="112.43" y="555.48" font-size="11.55" fill="#000" textLength="12.90" lengthAdjust="spacingAndGlyphs">10</text>
<text x="125.18" y="549.22" font-size="8.45" fill="#000" textLength="4.45" lengthAdjust="spacingAndGlyphs">3</text>
<text x="175.83" y="555.48" font-size="11.55" fill="#000" textLength="12.90" lengthAdjust="spacingAndGlyphs">10</text>
<text x="188.75" y="549.30" font-size="8.70" fill="#000" textLength="4.19" lengthAdjust="spacingAndGlyphs">4</text>
<text x="239.23" y="555.48" font-size="11.55" fill="#000" textLength="12.90" lengthAdjust="spacingAndGlyphs">10</text>
<text x="251.98" y="549.21" font-size="8.57" fill="#000" textLength="4.45" lengthAdjust="spacingAndGlyphs">5</text>
<text x="302.63" y="555.48" font-size="11.55" fill="#000" textLength="12.90" lengthAdjust="spacingAndGlyphs">10</text>
<text x="315.29" y="549.22" font-size="8.45" fill="#000" textLength="4.55" lengthAdjust="spacingAndGlyphs">6</text>
<text x="126.64" y="569.90" font-size="11.01" fill="#000" textLength="114.99" lengthAdjust="spacingAndGlyphs">Frequency offset (Hz)</text>
<text x="12.00" y="543.04" font-size="11.45" fill="#000" textLength="140.40" lengthAdjust="spacingAndGlyphs" transform="rotate(-90 12.00 543.04)">Phase noise PSD (dBc/Hz)</text>
<rect x="168" y="416.6" width="146" height="38.6" fill="#fff"/>
<line x1="174.2" y1="423.4" x2="196.6" y2="423.4" stroke="#ff0000" stroke-width="1.0"/>
<line x1="174.2" y1="436.3" x2="196.6" y2="436.3" stroke="#0000ff" stroke-width="1.0"/>
<line x1="174.2" y1="449.6" x2="196.6" y2="449.6" stroke="#000" stroke-width="1.0"/>
<text x="202.56" y="426.70" font-size="11.45" fill="#000" textLength="66.62" lengthAdjust="spacingAndGlyphs">Out−of−loop</text>
<text x="202.03" y="439.60" font-size="11.45" fill="#000" textLength="39.43" lengthAdjust="spacingAndGlyphs">In−loop</text>
<text x="202.12" y="453.00" font-size="11.45" fill="#000" textLength="103.26" lengthAdjust="spacingAndGlyphs">Noise floor of  PFD</text>
<rect x="309.9" y="411.7" width="2.0" height="4.6" fill="#3344ff"/>
<clipPath id="cd"><rect x="404.4" y="40.3" width="256.0" height="123.7"/></clipPath>
<g clip-path="url(#cd)">
<polyline fill="none" stroke="#0000ff" stroke-width="0.9" stroke-linejoin="round"  points="404.4,35.1 405,45.1 405.6,34 406.2,42.4 406.8,46.8 407.4,42.1 407.9,41.8 408.5,45.5 409,44.8 409.5,38 410,43.2 410.5,50.4 411,48.1 411.5,49 412,47.1 412.5,48.3 412.9,48.1 413.4,44 413.8,46.1 414.3,44.3 414.7,46.1 415.1,51.1 415.6,48 416,38.9 416.4,50.8 416.8,52.8 417.2,52 417.6,46.8 418,51.3 418.3,54.1 418.7,45.2 419.1,51.5 419.5,49.6 419.8,50.1 420.2,47.2 420.5,44.7 420.9,47.1 421.2,40.7 421.5,47.7 421.9,49.3 422.2,49.5 422.5,52.8 422.9,51.6 423.2,46.8 423.5,48.7 423.8,59.2 424.1,54.5 424.4,46.5 424.7,55.8 425,56.4 425.3,54.2 425.6,50.3 425.9,50.1 426.2,54.1 426.5,51.1 426.7,54.8 427,52.9 427.3,55.4 427.6,60.8 427.8,57.5 428.1,53.3 428.4,50.2 428.6,53.6 428.9,46.7 429.2,51.4 429.4,55.4 429.7,49.8 429.9,47.6 430.2,58.3 430.4,55.6 430.6,56.9 430.9,61.3 431.1,56.7 431.4,65.7 431.6,55.8 431.8,55.6 432.1,61.3 432.3,64 432.5,59.6 432.7,55.5 433,62.9 433.2,61.4 433.4,55.9 433.6,58.4 433.9,61.6 434.1,59.8 434.3,60.6 434.5,63.2 434.7,55.3 434.9,59.1 435.1,61.4 435.3,58.4 435.5,59.4 435.7,49 435.9,55.5 436.1,36.7 436.3,66.2 436.5,51.9 436.7,64.9 436.9,66.7 437.1,58.9 437.3,59.1 437.5,66.4 437.7,64.3 437.9,62.1 438.1,51.7 438.2,60 438.4,62.7 438.6,62.8 438.8,70.9 439,59.4 439.1,74.3 439.3,59.5 439.5,60.3 439.7,64.7 439.9,68.6 440,67.2 440.2,70.8 440.4,60.3 440.5,63.9 440.7,69.8 440.9,58.2 441,68.4 441.2,64.5 441.4,60.6 441.5,66.7 441.7,63.7 441.9,66.1 442,70.2 442.2,62.3 442.3,71.6 442.5,61.1 442.7,67.9 442.8,67.6 443,65.8 443.1,65.6 443.3,58.9 443.4,66.9 443.6,74.5 443.7,66.3 443.9,72.2 444,70.1 444.2,70.2 444.3,67.9 444.5,45.7 444.6,68.1 444.8,62.5 444.9,72.4 445.1,72.3 445.2,70.9 445.4,68 445.5,68.6 445.6,65.7 445.8,78.6 445.9,66 446.1,66.4 446.2,62.1 446.3,64.5 446.5,69.6 446.6,76 446.8,68.4 446.9,75.2 447,70.8 447.2,60.1 447.3,65.2 447.4,65.7 447.6,71.1 447.7,80 447.8,73.4 447.9,69.2 448.1,67.1 448.2,70 448.3,75.5 448.5,72.5 448.6,75.8 448.7,71.2 448.8,79.1 449,71.5 449.1,67.6 449.2,76.2 449.3,66.2 449.5,82.5 449.6,68.6 449.7,77 449.8,73.1 450,70.3 450.1,68.8 450.2,68.2 450.3,70.9 450.4,79.9 450.6,71.4 450.7,73.4 450.8,70.6 450.9,76.9 451,73.8 451.1,77.7 451.3,72.3 451.4,69.1 451.5,50.3 451.6,73.5 451.7,67.6 451.8,70.3 451.9,67.2 452,59.1 452.2,74.3 452.3,70.8 452.4,67.8 452.5,74 452.6,71.6 452.7,76.8 452.8,68.5 452.9,76.3 453,82.1 453.1,69.6 453.3,79.7 453.4,67.4 453.5,76.7 453.6,79.6 453.7,78.3 453.8,70.9 453.9,76.3 454,70.8 454.1,71.3 454.2,70.1 454.3,73.5 454.4,73.7 454.5,58.8 454.6,80.4 454.7,70.6 454.8,81.6 454.9,76.3 455,79.5 455.1,77.3 455.2,74.4 455.3,80.5 455.4,72.1 455.5,79 455.6,70.9 455.7,78 455.8,75.9 455.9,74.9 456,76 456.1,70.5 456.2,61.3 456.3,75.2 456.4,78 456.5,75.1 456.6,73.4 456.7,77.8 456.8,63.5 456.9,80.7 457,74.1 457.1,81.4 457.2,71.7 457.2,68.5 457.3,78.1 457.4,74.7 457.5,78.9 457.6,68.7 457.7,73.1 457.8,75.8 457.9,76.9 458,72.3 458.1,78.6 458.2,75.6 458.3,83.5 458.3,76.7 458.4,72.8 458.5,81.5 458.6,72.7 458.7,81.4 458.8,80.9 458.9,79.7 459,74.3 459,58.8 459.1,70.5 459.2,89.8 459.3,78.7 459.4,70.4 459.5,80.2 459.6,70.1 459.7,66.4 459.7,64.5 459.8,87 459.9,71.1 460,69.9 460.1,71.3 460.2,84.2 460.2,72.1 460.3,87.7 460.4,76.6 460.5,71.3 460.6,72.9 460.7,74.8 460.7,74.5 460.8,74.3 460.9,84.2 461,86.1 461.1,77.3 461.1,78 461.2,79.9 461.3,78.4 461.4,75.6 461.5,78.8 461.5,82.4 461.6,77.1 461.7,78.3 461.8,79.9 461.9,76.8 461.9,82 462,77.4 462.1,75.9 462.2,77.1 462.3,68.8 462.3,78.3 462.4,76.1 462.5,69.8 462.6,72.7 462.6,70.8 462.7,78.3 462.8,90.1 462.9,81.3 462.9,79.9 463,76.2 463.1,63.7 463.2,72.9 463.2,78.2 463.3,76.4 463.4,84.8 463.5,80 463.5,82.1 463.6,55.6 463.7,84.8 463.8,85.9 463.8,84.5 463.9,79.7 464,81.6 464.1,71.3 464.1,68.8 464.2,80.4 464.3,85 464.3,79.1 464.4,76 464.5,71.1 464.6,82 464.6,69.7 464.7,64.4 464.8,80.8 464.8,78.5 464.9,79.3 465,79.4 465.1,86.2 465.1,82.6 465.2,87.2 465.3,80.4 465.3,82.8 465.4,72.8 465.5,80.5 465.5,84.9 465.6,82.9 465.7,70.5 465.8,82.6 465.8,59.7 465.9,84.6 466,84.9 466,80.5 466.1,85.6 466.2,79.5 466.2,82.1 466.3,80.3 466.4,81.3 466.4,78.8 466.5,82.8 466.6,79 466.6,83.8 466.7,85.1 466.8,79.6 466.8,76.1 466.9,77.4 467,83.9 467,84.7 467.1,80.9 467.2,84.8 467.2,80.8 467.3,82.6 467.3,76.3 467.4,69.5 467.5,82.7 467.5,79.4 467.6,76.7 467.7,74.8 467.7,74.2 467.8,84.2 467.9,79.4 467.9,81 468,73.6 468,75.8 468.1,83.7 468.2,82.7 468.2,82.9 468.3,84.7 468.9,80.6 469.5,75.1 470.1,79.1 470.7,80.2 471.3,78.4 471.8,78.8 472.4,80.2 472.9,80.2 473.4,75 473.9,74.5 474.4,83.4 474.9,80.8 475.4,81.9 475.9,85 476.4,85.1 476.8,77.3 477.3,81.8 477.7,82.4 478.2,81.1 478.6,80.1 479,87.7 479.5,87.2 479.9,85.1 480.3,77.3 480.7,85.6 481.1,86.6 481.5,83.2 481.9,85.6 482.2,83.9 482.6,85 483,82.3 483.4,86.4 483.7,84.4 484.1,83.2 484.4,82.9 484.8,86.7 485.1,88.6 485.4,88.3 485.8,86.4 486.1,79.5 486.4,88.1 486.8,86.1 487.1,85.3 487.4,86.3 487.7,81.3 488,88.4 488.3,88.9 488.6,86.9 488.9,86.7 489.2,86 489.5,86.8 489.8,88.2 490.1,89.2 490.4,81.4 490.6,87.2 490.9,88.2 491.2,83.6 491.5,88.7 491.7,90.3 492,86.3 492.3,88.1 492.5,91.9 492.8,91 493.1,91 493.3,92.6 493.6,88.3 493.8,90.9 494.1,91.9 494.3,91.9 494.5,89.1 494.8,83.4 495,91.6 495.3,93.2 495.5,95.2 495.7,89.9 496,92.5 496.2,93.4 496.4,89.8 496.6,86.3 496.9,93.7 497.1,89.1 497.3,94.4 497.5,92.2 497.8,93.1 498,89.1 498.2,91.5 498.4,89.6 498.6,85.3 498.8,92.1 499,93.9 499.2,94.8 499.4,94.7 499.6,95.3 499.8,95.8 500,94.5 500.2,96.7 500.4,94.8 500.6,93.8 500.8,96.4 501,93.5 501.2,90.3 501.4,93.9 501.6,92.3 501.8,93.8 502,94.1 502.1,92.8 502.3,87.2 502.5,92.8 502.7,93.6 502.9,97.3 503,94.2 503.2,90.3 503.4,95.1 503.6,96.3 503.8,93.9 503.9,94.6 504.1,95.2 504.3,96.3 504.4,95.6 504.6,90.7 504.8,96.7 504.9,92.1 505.1,97.7 505.3,97.2 505.4,95.5 505.6,93.5 505.8,97.5 505.9,95.8 506.1,89.1 506.2,96.3 506.4,98.3 506.6,96.9 506.7,99.2 506.9,95.3 507,93 507.2,98.2 507.3,95.1 507.5,97.1 507.6,96.8 507.8,95.8 507.9,95.3 508.1,97.6 508.2,99.2 508.4,95.4 508.5,95.2 508.7,98.6 508.8,97.2 509,97.7 509.1,96.1 509.3,98.8 509.4,96.9 509.5,98.3 509.7,99.6 509.8,96.2 510,95.9 510.1,100.7 510.2,95.7 510.4,95.5 510.5,96.5 510.7,99.6 510.8,91.5 510.9,97.1 511.1,97.4 511.2,99.3 511.3,98.3 511.5,99.5 511.6,98.1 511.7,96.8 511.8,95.3 512,97.3 512.1,97.5 512.2,100.6 512.4,94.7 512.5,100.2 512.6,98.7 512.7,96.1 512.9,95 513,101.6 513.1,100.8 513.2,98.5 513.4,102.9 513.5,98.8 513.6,97.1 513.7,101.6 513.9,97.7 514,102.1 514.1,98.6 514.2,101.4 514.3,98.1 514.5,100.7 514.6,101.3 514.7,104.6 514.8,99.8 514.9,101.6 515,98.5 515.2,96 515.3,99.9 515.4,104 515.5,98.9 515.6,99.9 515.7,103.2 515.8,100.6 515.9,96.1 516.1,99.6 516.2,102.3 516.3,103.1 516.4,102.4 516.5,101.3 516.6,100.6 516.7,101.3 516.8,101 516.9,99.5 517,102.5 517.2,100 517.3,100.6 517.4,99.6 517.5,98.7 517.6,104.6 517.7,100.9 517.8,105 517.9,103.1 518,100.1 518.1,101.1 518.2,101 518.3,101.7 518.4,100.8 518.5,100.9 518.6,103.7 518.7,103.2 518.8,105 518.9,99.8 519,103 519.1,100.8 519.2,104.6 519.3,103.6 519.4,99.9 519.5,100.3 519.6,102.2 519.7,105.6 519.8,100.9 519.9,102.9 520,100 520.1,103 520.2,103.6 520.3,107.9 520.4,101.3 520.5,100.1 520.6,106.4 520.7,101.3 520.8,102.7 520.9,105.5 521,101.8 521.1,106.5 521.1,102.9 521.2,105.9 521.3,104.6 521.4,100.5 521.5,108 521.6,105.5 521.7,103.7 521.8,103.5 521.9,104.9 522,102.4 522.1,105.9 522.2,106.9 522.2,104.4 522.3,106.8 522.4,105.4 522.5,105.2 522.6,105.9 522.7,104 522.8,102.4 522.9,103.4 522.9,102.7 523,104.5 523.1,103.2 523.2,104.6 523.3,101.8 523.4,103.9 523.5,105.8 523.6,105.3 523.6,102.5 523.7,104.1 523.8,107 523.9,103.6 524,106.5 524.1,107 524.1,104.7 524.2,105.4 524.3,105.3 524.4,102.8 524.5,104.2 524.6,104.1 524.6,106.2 524.7,105.1 524.8,108.2 524.9,105.4 525,104.4 525,107 525.1,106.2 525.2,104.6 525.3,105 525.4,105.6 525.4,107.5 525.5,101.7 525.6,106.8 525.7,108.3 525.8,106.8 525.8,106.3 525.9,105.5 526,104.7 526.1,106.4 526.2,106.1 526.2,107.8 526.3,105.8 526.4,105.5 526.5,106.4 526.5,108.5 526.6,104.7 526.7,105.8 526.8,105.1 526.8,108.9 526.9,104.7 527,104.6 527.1,107.9 527.1,108.6 527.2,106.3 527.3,105.3 527.4,104.7 527.4,108.5 527.5,106 527.6,108 527.7,105.7 527.7,106.5 527.8,105.2 527.9,106.7 528,106.6 528,109.7 528.1,106 528.2,108.3 528.2,103.1 528.3,110.1 528.4,105.8 528.5,105.8 528.5,108.7 528.6,109.1 528.7,105.8 528.7,106.8 528.8,107.9 528.9,108.5 529,107.2 529,105.7 529.1,110.9 529.2,107.6 529.2,104.8 529.3,106.3 529.4,107.4 529.4,105.7 529.5,109.1 529.6,107.1 529.7,104.6 529.7,104.9 529.8,105.6 529.9,108.3 529.9,108 530,108 530.1,106.6 530.1,105.5 530.2,107.4 530.3,109.1 530.3,108.7 530.4,108.3 530.5,107.1 530.5,109.9 530.6,105.8 530.7,106 530.7,104.6 530.8,108.9 530.9,109.5 530.9,109.8 531,107.7 531.1,106.9 531.1,109.6 531.2,108.7 531.2,105.9 531.3,107.7 531.4,108.9 531.4,107.2 531.5,108 531.6,109 531.6,108.7 531.7,105.4 531.8,108.1 531.8,108.9 531.9,109.8 531.9,106.2 532,108.6 532.1,105.5 532.1,106.5 532.2,109.7 532.8,105.5 533.4,109.5 534,108.8 534.6,110.1 535.2,108.6 535.7,110.2 536.3,111.7 536.8,111.1 537.3,109.7 537.8,112.7 538.3,110.9 538.8,109.6 539.3,110.8 539.8,109.8 540.3,113.5 540.7,112.4 541.2,110.5 541.6,112.2 542.1,108.4 542.5,114.9 542.9,112.7 543.4,112.3 543.8,111.6 544.2,108.8 544.6,114 545,109.4 545.4,111.1 545.8,117.4 546.1,118 546.5,114.2 546.9,116.2 547.3,112.7 547.6,111.1 548,114.9 548.3,111.1 548.7,115.2 549,111.6 549.3,116.6 549.7,115.6 550,116.7 550.3,117.4 550.7,115.1 551,117.6 551.3,119 551.6,117.5 551.9,113.2 552.2,116.9 552.5,117.4 552.8,118.3 553.1,118.6 553.4,118.9 553.7,121.9 554,117.1 554.3,116.3 554.5,116.9 554.8,117.3 555.1,119.3 555.4,122.9 555.6,121.3 555.9,115.5 556.2,118.9 556.4,122.2 556.7,120.4 557,116.4 557.2,115.5 557.5,117.8 557.7,118.7 558,120.7 558.2,111.4 558.4,119.7 558.7,121.5 558.9,120.5 559.2,118.8 559.4,117.6 559.6,118.9 559.9,115.7 560.1,121.7 560.3,119.9 560.5,121.9 560.8,120.4 561,119.6 561.2,123 561.4,116 561.7,124.2 561.9,120.4 562.1,119.2 562.3,121.6 562.5,122.2 562.7,123.6 562.9,120.1 563.1,122.7 563.3,123.8 563.5,121.5 563.7,121.4 563.9,121 564.1,125.3 564.3,125.3 564.5,122.4 564.7,123.5 564.9,120.5 565.1,123.7 565.3,123.4 565.5,123.5 565.7,122.8 565.9,124.1 566,124.7 566.2,123.7 566.4,122.9 566.6,120.7 566.8,119.7 566.9,123.4 567.1,123.2 567.3,123.3 567.5,124.7 567.7,122.6 567.8,123.6 568,124.7 568.2,123.8 568.3,120.9 568.5,122.3 568.7,120.3 568.8,124.6 569,125.2 569.2,126.4 569.3,124 569.5,124 569.7,126.5 569.8,125.4 570,120.3 570.1,124.3 570.3,125.8 570.5,124.1 570.6,126 570.8,124 570.9,126 571.1,127.1 571.2,123.5 571.4,126 571.5,126 571.7,126.5 571.8,124.3 572,122.5 572.1,126 572.3,123.9 572.4,122.7 572.6,124.4 572.7,125.1 572.9,123.6 573,121.3 573.2,125.1 573.3,126.8 573.4,125.5 573.6,125.4 573.7,124.6 573.9,124.2 574,126.4 574.1,123.9 574.3,122.6 574.4,122.5 574.6,124.6 574.7,124.8 574.8,124.8 575,122.8 575.1,123.4 575.2,128.6 575.4,124.8 575.5,129.7 575.6,126.8 575.7,126.7 575.9,124.4 576,127.1 576.1,126.5 576.3,130.3 576.4,125.2 576.5,125.4 576.6,129.4 576.8,126.1 576.9,125.2 577,125.1 577.1,127.7 577.3,127.4 577.4,127.9 577.5,128 577.6,125.4 577.8,127.9 577.9,124.7 578,124.1 578.1,125.9 578.2,125.3 578.4,124.6 578.5,126.5 578.6,115.5 578.7,126.2 578.8,129 578.9,127.6 579.1,126.6 579.2,128.6 579.3,126.4 579.4,127.3 579.5,125.7 579.6,125.5 579.7,128.5 579.8,125.9 580,128.4 580.1,129.5 580.2,128.6 580.3,125 580.4,127.3 580.5,126.8 580.6,124.7 580.7,130.7 580.8,124.5 580.9,126.9 581.1,123.8 581.2,130 581.3,127.5 581.4,127.5 581.5,129.4 581.6,126.8 581.7,127.4 581.8,123.8 581.9,129.5 582,127.6 582.1,125.8 582.2,127.5 582.3,129.3 582.4,124 582.5,128.8 582.6,128.3 582.7,128.9 582.8,129.2 582.9,127.7 583,128.8 583.1,128.1 583.2,126.3 583.3,126.9 583.4,128.3 583.5,125.2 583.6,127.7 583.7,128.3 583.8,128.1 583.9,126.9 584,128.1 584.1,129 584.2,126.4 584.3,128.2 584.4,130.2 584.5,131.2 584.6,128.6 584.7,129.6 584.8,128.6 584.9,127.9 585,124.2 585,125.8 585.1,126.7 585.2,126.3 585.3,128.7 585.4,129.5 585.5,127 585.6,126.4 585.7,127.2 585.8,128.7 585.9,130.9 586,127.5 586.1,129.2 586.1,130.9 586.2,128.8 586.3,126.4 586.4,132 586.5,130.5 586.6,127.6 586.7,127.5 586.8,130.7 586.8,128.1 586.9,130.9 587,125.9 587.1,127.8 587.2,129.8 587.3,130 587.4,127.9 587.5,126.9 587.5,130.4 587.6,130.6 587.7,129.7 587.8,129.6 587.9,130.5 588,126.3 588,129.3 588.1,128.8 588.2,128.1 588.3,125.5 588.4,128.6 588.5,128.6 588.5,130 588.6,132.8 588.7,132.6 588.8,129.7 588.9,130.2 588.9,130.8 589,131.5 589.1,128 589.2,130.7 589.3,128.9 589.3,130.3 589.4,129.1 589.5,128.6 589.6,130.8 589.7,129.5 589.7,131.6 589.8,131.4 589.9,129.4 590,133.4 590.1,131.4 590.1,130.7 590.2,127.5 590.3,131.9 590.4,126.9 590.4,130.9 590.5,129.6 590.6,130.8 590.7,132.2 590.7,129.3 590.8,130.9 590.9,129.8 591,129.5 591,131.1 591.1,128.2 591.2,130.4 591.3,130.3 591.3,129 591.4,131.4 591.5,132.1 591.6,128.7 591.6,130.9 591.7,128.6 591.8,130.3 591.9,131.3 591.9,132.6 592,130.6 592.1,131.6 592.1,132.5 592.2,128.3 592.3,130.2 592.4,132 592.4,131.8 592.5,128.2 592.6,130.2 592.6,131.6 592.7,129.6 592.8,129.3 592.9,131.5 592.9,130.9 593,131.6 593.1,128.1 593.1,133.1 593.2,132.6 593.3,129.7 593.3,130.2 593.4,133 593.5,131.1 593.6,130.8 593.6,132.4 593.7,133.3 593.8,131.5 593.8,133 593.9,131.4 594,131.5 594,128.4 594.1,131.3 594.2,132 594.2,131.3 594.3,134.1 594.4,130.2 594.4,129.4 594.5,135 594.6,133 594.6,131.6 594.7,132.8 594.8,131.8 594.8,129.6 594.9,131.7 595,133.7 595,130.9 595.1,128.9 595.1,133.3 595.2,134 595.3,129 595.3,128.5 595.4,128.3 595.5,131.2 595.5,129.7 595.6,133.8 595.7,129.1 595.7,131.1 595.8,133.5 595.8,131.9 595.9,130.7 596,129.8 596,130.3 596.1,133.1"/>
<polyline fill="none" stroke="#ff0000" stroke-width="0.9" stroke-linejoin="round"  points="404.4,52.9 405,52 405.6,51.1 406.2,49.1 406.8,46.3 407.4,43.9 407.9,44.3 408.5,51.4 409,52.9 409.5,51.3 410,48.6 410.5,48.2 411,47.6 411.5,45.9 412,47.7 412.5,51.3 412.9,50.7 413.4,53.7 413.8,54.4 414.3,55.3 414.7,58.2 415.1,56.1 415.6,45.3 416,58.5 416.4,58.5 416.8,58.8 417.2,56 417.6,57.9 418,59.2 418.3,57.9 418.7,59.9 419.1,59.3 419.5,59.4 419.8,58.2 420.2,61.4 420.5,61.5 420.9,61.3 421.2,61.7 421.5,63.7 421.9,62.7 422.2,65.7 422.5,65.2 422.9,65.6 423.2,65.1 423.5,57.5 423.8,64.9 424.1,63.5 424.4,67.4 424.7,66.3 425,64.1 425.3,65.8 425.6,66.4 425.9,69.5 426.2,64.8 426.5,68.3 426.7,65.5 427,68.6 427.3,67.8 427.6,63.7 427.8,69.2 428.1,69.1 428.4,67.8 428.6,71.5 428.9,67.6 429.2,67.7 429.4,68.6 429.7,70 429.9,68.4 430.2,70 430.4,69.3 430.6,66.4 430.9,67.4 431.1,69.9 431.4,66.8 431.6,71.4 431.8,70.1 432.1,71.3 432.3,68.7 432.5,67.2 432.7,68.2 433,66.3 433.2,69.1 433.4,74.3 433.6,70.2 433.9,68.3 434.1,69.3 434.3,70.9 434.5,70.9 434.7,71.1 434.9,62.1 435.1,73.7 435.3,70.5 435.5,69.1 435.7,74.1 435.9,73.7 436.1,71.5 436.3,71.6 436.5,73.2 436.7,74.8 436.9,71.1 437.1,70.9 437.3,76.7 437.5,77 437.7,72.2 437.9,73.2 438.1,76 438.2,74.6 438.4,73.7 438.6,71.6 438.8,72.9 439,72.9 439.1,64.9 439.3,74.3 439.5,74.7 439.7,75.1 439.9,73.3 440,76.4 440.2,78.6 440.4,72.9 440.5,73.9 440.7,69.7 440.9,73.6 441,76.6 441.2,77.2 441.4,71.3 441.5,74.1 441.7,80 441.9,77.9 442,76.7 442.2,73.9 442.3,78.2 442.5,71.8 442.7,75.4 442.8,80.7 443,78 443.1,81.6 443.3,78.7 443.4,77.6 443.6,82.3 443.7,80.3 443.9,77 444,79.2 444.2,65.2 444.3,79.7 444.5,81.1 444.6,81.2 444.8,77.1 444.9,76.1 445.1,78.2 445.2,76.7 445.4,76.8 445.5,82.4 445.6,81.3 445.8,79.4 445.9,78.8 446.1,79 446.2,79.7 446.3,81.1 446.5,79.4 446.6,79.5 446.8,80.6 446.9,78.5 447,80.8 447.2,80.4 447.3,79.6 447.4,81.9 447.6,76.7 447.7,83 447.8,79.5 447.9,84.3 448.1,81.3 448.2,83.3 448.3,82.5 448.5,76.9 448.6,82.3 448.7,80.8 448.8,82.9 449,77.5 449.1,74.7 449.2,84.4 449.3,85.8 449.5,84.1 449.6,79 449.7,82.4 449.8,87.6 450,85.6 450.1,81.8 450.2,82.9 450.3,79 450.4,82.3 450.6,83.7 450.7,84.3 450.8,84.8 450.9,80.2 451,70.2 451.1,81.1 451.3,85.1 451.4,84.3 451.5,83 451.6,80.3 451.7,83.2 451.8,83.3 451.9,82 452,83.5 452.2,83.5 452.3,85 452.4,80.8 452.5,83.6 452.6,86 452.7,83 452.8,84.1 452.9,88.5 453,70.7 453.1,86.4 453.3,85.5 453.4,83 453.5,82.6 453.6,83.3 453.7,84.5 453.8,81.9 453.9,88 454,81.4 454.1,71.3 454.2,87.1 454.3,89.6 454.4,85.4 454.5,85.8 454.6,88 454.7,87.7 454.8,80.8 454.9,84.7 455,86.4 455.1,85 455.2,86.3 455.3,89.9 455.4,89 455.5,85.9 455.6,87.2 455.7,86.1 455.8,84.8 455.9,89.4 456,90.3 456.1,85.9 456.2,87.1 456.3,86.5 456.4,86.3 456.5,78.6 456.6,87 456.7,86.8 456.8,88.1 456.9,89 457,89.4 457.1,84.7 457.2,85.4 457.2,90.7 457.3,92.8 457.4,85.5 457.5,85.4 457.6,88.8 457.7,87.8 457.8,87.9 457.9,90.1 458,91.1 458.1,87.4 458.2,86 458.3,88.1 458.3,85.5 458.4,88.1 458.5,90.7 458.6,75.7 458.7,89.5 458.8,90.8 458.9,87 459,87.3 459,91.1 459.1,90.3 459.2,89.3 459.3,93.3 459.4,90 459.5,92 459.6,89.7 459.7,91.6 459.7,88.1 459.8,94.6 459.9,84.3 460,94.8 460.1,85.3 460.2,89.6 460.2,91.4 460.3,82.7 460.4,90.4 460.5,89.3 460.6,93.1 460.7,91.2 460.7,91.2 460.8,80.4 460.9,88.7 461,86.6 461.1,90.4 461.1,90.5 461.2,95 461.3,87.7 461.4,92.5 461.5,93.3 461.5,85.8 461.6,92.1 461.7,93.9 461.8,92.4 461.9,83.8 461.9,92.3 462,89 462.1,80.5 462.2,87 462.3,89.6 462.3,88.8 462.4,95.6 462.5,92.9 462.6,90.2 462.6,92 462.7,91.4 462.8,91.2 462.9,89.4 462.9,91.4 463,92 463.1,87.8 463.2,90 463.2,89.3 463.3,90.8 463.4,92.7 463.5,92.4 463.5,87.9 463.6,90.3 463.7,91.7 463.8,91.1 463.8,80.2 463.9,90 464,90 464.1,97 464.1,93.6 464.2,90.9 464.3,91.2 464.3,93.3 464.4,90.3 464.5,91.9 464.6,91.7 464.6,94.3 464.7,89.3 464.8,88.3 464.8,92 464.9,90.1 465,93.7 465.1,92.8 465.1,95.8 465.2,94.4 465.3,82.7 465.3,95.5 465.4,89.4 465.5,89.6 465.5,92.5 465.6,89.8 465.7,94.1 465.8,94.6 465.8,96.4 465.9,91.5 466,93.3 466,87.4 466.1,89.1 466.2,92 466.2,92.6 466.3,91.5 466.4,96.1 466.4,92 466.5,88.1 466.6,93.3 466.6,94.7 466.7,91.2 466.8,93.9 466.8,92.4 466.9,92.9 467,93.8 467,86.5 467.1,93.6 467.2,90 467.2,96.1 467.3,88.7 467.3,93.5 467.4,87.1 467.5,92.6 467.5,93 467.6,89.6 467.7,94.9 467.7,97 467.8,96.4 467.9,92.3 467.9,93.7 468,90.3 468,93.8 468.1,94.5 468.2,88 468.2,91.8 468.3,86.6 468.9,92.7 469.5,94.6 470.1,93.3 470.7,92.8 471.3,95 471.8,97.8 472.4,94.5 472.9,94.6 473.4,96.3 473.9,88 474.4,97.3 474.9,98.1 475.4,97.7 475.9,97.2 476.4,96.3 476.8,88 477.3,97.5 477.7,97.6 478.2,97.5 478.6,96.7 479,96.9 479.5,98.3 479.9,98.4 480.3,91.8 480.7,99.6 481.1,102 481.5,96.6 481.9,97.7 482.2,98.5 482.6,98.3 483,99.2 483.4,98.8 483.7,99.9 484.1,102.4 484.4,101.6 484.8,100.1 485.1,99.2 485.4,100.2 485.8,99.9 486.1,94.7 486.4,103.7 486.8,102 487.1,102.9 487.4,100.2 487.7,102.4 488,102.7 488.3,101.4 488.6,101.6 488.9,103.7 489.2,104.2 489.5,103.6 489.8,102.9 490.1,104 490.4,96.5 490.6,102.7 490.9,102.5 491.2,104.5 491.5,103.1 491.7,105.2 492,105.2 492.3,104 492.5,105 492.8,105.6 493.1,104.2 493.3,104.1 493.6,106.6 493.8,104 494.1,104.7 494.3,106.1 494.5,106.1 494.8,99.5 495,105.4 495.3,105.5 495.5,104.5 495.7,105.6 496,107.4 496.2,108.2 496.4,104.3 496.6,107 496.9,107.4 497.1,106 497.3,108.3 497.5,105.9 497.8,107.4 498,107.9 498.2,108.4 498.4,108.2 498.6,101.3 498.8,106.7 499,107 499.2,107 499.4,107.2 499.6,107.3 499.8,106.7 500,108.7 500.2,106.3 500.4,107.9 500.6,108 500.8,108.8 501,109.9 501.2,108 501.4,108.3 501.6,108.6 501.8,109.3 502,111 502.1,109.2 502.3,105.1 502.5,108.4 502.7,107.7 502.9,110.2 503,111.1 503.2,108 503.4,108.4 503.6,109.8 503.8,109.3 503.9,110.7 504.1,109.3 504.3,107.9 504.4,109.6 504.6,111.4 504.8,109.6 504.9,109.2 505.1,107.1 505.3,108.7 505.4,109.8 505.6,109.5 505.8,111.8 505.9,110 506.1,108 506.2,110.5 506.4,110.2 506.6,109.1 506.7,113.4 506.9,109.8 507,109.6 507.2,111.8 507.3,110.6 507.5,112.2 507.6,108.6 507.8,111 507.9,109.3 508.1,109.4 508.2,113.1 508.4,111.9 508.5,112.6 508.7,111.9 508.8,111.3 509,109.9 509.1,111.8 509.3,111.5 509.4,112.3 509.5,111.9 509.7,113.3 509.8,111.3 510,110.5 510.1,113 510.2,113.1 510.4,113.8 510.5,112.3 510.7,115.1 510.8,110.8 510.9,113.4 511.1,108.2 511.2,110.2 511.3,112.1 511.5,112.9 511.6,111.8 511.7,112.3 511.8,113.2 512,112.7 512.1,112.3 512.2,114.3 512.4,113.2 512.5,113 512.6,112 512.7,114.4 512.9,113.6 513,113.9 513.1,113.5 513.2,113.5 513.4,111.3 513.5,112.7 513.6,114.6 513.7,113.5 513.9,113.9 514,114.1 514.1,111.7 514.2,114.2 514.3,112.6 514.5,116.3 514.6,114.5 514.7,116.7 514.8,112.9 514.9,112.6 515,116 515.2,113.4 515.3,113.5 515.4,116.4 515.5,113.7 515.6,115 515.7,115.7 515.8,115.8 515.9,115.7 516.1,116.9 516.2,115.1 516.3,116.6 516.4,114.1 516.5,115.1 516.6,118 516.7,117 516.8,115.8 516.9,115.1 517,115.6 517.2,115.9 517.3,114.2 517.4,115.1 517.5,115.5 517.6,115.5 517.7,114.7 517.8,115 517.9,115.9 518,116.7 518.1,114.8 518.2,114.1 518.3,116.8 518.4,116.2 518.5,115.3 518.6,116.3 518.7,114.1 518.8,115.1 518.9,117.8 519,117.6 519.1,118.6 519.2,116 519.3,116.9 519.4,118.6 519.5,115 519.6,116.1 519.7,119.5 519.8,115.6 519.9,116.7 520,115.9 520.1,117.2 520.2,117.9 520.3,115.9 520.4,119 520.5,118.2 520.6,118.8 520.7,119 520.8,118.7 520.9,118.1 521,117.4 521.1,119.1 521.1,117.7 521.2,116.6 521.3,118 521.4,117.1 521.5,116.8 521.6,118.2 521.7,119.1 521.8,117.7 521.9,118.3 522,119.3 522.1,117.3 522.2,119.1 522.2,118.1 522.3,113.2 522.4,118.7 522.5,118.8 522.6,118.4 522.7,118.4 522.8,119.2 522.9,119.7 522.9,120.7 523,117.9 523.1,118.5 523.2,119.6 523.3,120.7 523.4,118.2 523.5,119.1 523.6,119.5 523.6,117.7 523.7,119.5 523.8,118.4 523.9,119.7 524,114 524.1,119.5 524.1,120.3 524.2,118.6 524.3,119.1 524.4,119 524.5,119 524.6,119 524.6,120 524.7,120.1 524.8,119.4 524.9,120.6 525,120 525,119.2 525.1,121.8 525.2,120.5 525.3,121 525.4,122.1 525.4,120 525.5,120.1 525.6,119.2 525.7,120.8 525.8,121.1 525.8,120.4 525.9,119.9 526,119 526.1,122.2 526.2,120 526.2,119.6 526.3,120.9 526.4,120.9 526.5,120.9 526.5,121.6 526.6,121.5 526.7,120.6 526.8,119 526.8,117.6 526.9,120.2 527,120.3 527.1,121.6 527.1,120.8 527.2,121.4 527.3,119.5 527.4,120.2 527.4,122 527.5,119.2 527.6,122.1 527.7,122.1 527.7,120.7 527.8,122.9 527.9,124 528,119.8 528,121 528.1,122 528.2,120.1 528.2,122.8 528.3,120.5 528.4,120.4 528.5,121.7 528.5,121.2 528.6,122.8 528.7,121 528.7,122.1 528.8,122.4 528.9,121.5 529,120.7 529,121.4 529.1,120.3 529.2,121.1 529.2,120.2 529.3,120 529.4,120.2 529.4,122.7 529.5,119.9 529.6,122.3 529.7,123 529.7,123 529.8,120 529.9,122.1 529.9,123.7 530,120.9 530.1,120.6 530.1,122.4 530.2,122.5 530.3,121.5 530.3,122.5 530.4,121.4 530.5,122.2 530.5,120.3 530.6,120.9 530.7,121.9 530.7,123.2 530.8,122 530.9,121.5 530.9,122 531,122.4 531.1,121.4 531.1,123 531.2,123.2 531.2,122.2 531.3,124 531.4,121.8 531.4,123.5 531.5,122.5 531.6,122.6 531.6,124.6 531.7,123.1 531.8,121.6 531.8,123.5 531.9,121.4 531.9,123 532,122.1 532.1,121.4 532.1,123.3 532.2,125.3 532.8,122.4 533.4,120.4 534,121.9 534.6,123.8 535.2,123.2 535.7,122.7 536.3,123.8 536.8,124.1 537.3,123.5 537.8,125.2 538.3,124.9 538.8,125.6 539.3,125.4 539.8,125.4 540.3,124.7 540.7,122.9 541.2,126.5 541.6,126 542.1,124 542.5,125 542.9,128.8 543.4,126.8 543.8,126.1 544.2,125.7 544.6,127.5 545,127.5 545.4,127 545.8,126.2 546.1,125.3 546.5,128.4 546.9,128.6 547.3,126.3 547.6,128.2 548,126 548.3,129.3 548.7,130.3 549,126.7 549.3,130.3 549.7,128.4 550,128.7 550.3,128.6 550.7,130.8 551,130.3 551.3,130.5 551.6,128.2 551.9,129.9 552.2,131 552.5,131.3 552.8,130.5 553.1,133 553.4,131.4 553.7,129.6 554,127.2 554.3,131.4 554.5,131.5 554.8,131.8 555.1,131 555.4,133.1 555.6,132.3 555.9,132.8 556.2,133.3 556.4,131.9 556.7,131.9 557,132.4 557.2,131.9 557.5,131 557.7,133.1 558,133 558.2,122.9 558.4,133.7 558.7,132 558.9,134.3 559.2,132.7 559.4,133.9 559.6,133.5 559.9,134.6 560.1,132.4 560.3,134.4 560.5,133.9 560.8,133.7 561,134.2 561.2,133.2 561.4,134.6 561.7,133 561.9,133.1 562.1,134.1 562.3,137.2 562.5,135.2 562.7,135.4 562.9,126.5 563.1,136.4 563.3,135.8 563.5,134.8 563.7,135.9 563.9,135.6 564.1,132.9 564.3,136.4 564.5,136.5 564.7,135.6 564.9,136.3 565.1,137.3 565.3,134.6 565.5,136.1 565.7,136.6 565.9,136.4 566,133.2 566.2,135.4 566.4,135.6 566.6,136.9 566.8,137.4 566.9,137.4 567.1,135.9 567.3,137.5 567.5,136.8 567.7,137.7 567.8,139.2 568,138.4 568.2,138.4 568.3,136.7 568.5,136.7 568.7,138.8 568.8,137.6 569,139.3 569.2,138 569.3,139 569.5,136.3 569.7,112.5 569.8,139.8 570,139.1 570.1,139.5 570.3,141.2 570.5,139.4 570.6,139.8 570.8,138.6 570.9,140.1 571.1,139.3 571.2,140.3 571.4,138.6 571.5,139.6 571.7,139.1 571.8,139 572,138.7 572.1,140 572.3,138.2 572.4,140.5 572.6,139.3 572.7,138.2 572.9,124.7 573,140.1 573.2,140 573.3,137.6 573.4,139.8 573.6,138.5 573.7,140.7 573.9,138.5 574,138.7 574.1,140 574.3,138.3 574.4,138.4 574.6,140.3 574.7,139.1 574.8,138.6 575,140.2 575.1,135.8 575.2,139.7 575.4,139.3 575.5,128.7 575.6,139.8 575.7,139.5 575.9,139.8 576,139.8 576.1,134.7 576.3,139.6 576.4,139 576.5,139 576.6,139.9 576.8,138.8 576.9,140.4 577,140.6 577.1,142 577.3,137.6 577.4,134.6 577.5,142.2 577.6,141 577.8,137.4 577.9,137.5 578,140.5 578.1,138.7 578.2,138.3 578.4,138.6 578.5,138.8 578.6,126.7 578.7,139.8 578.8,140.1 578.9,140.8 579.1,139.5 579.2,138 579.3,139.7 579.4,138.5 579.5,138.7 579.6,133.6 579.7,139.2 579.8,139.6 580,138.6 580.1,137.4 580.2,136.9 580.3,138.5 580.4,138.3 580.5,139.6 580.6,137.8 580.7,139.4 580.8,138.4 580.9,139.9 581.1,139.4 581.2,138.7 581.3,138.5 581.4,140.1 581.5,140.3 581.6,138.2 581.7,139.8 581.8,139.1 581.9,139.6 582,139.9 582.1,138.9 582.2,139.3 582.3,137.9 582.4,139.7 582.5,139.4 582.6,140.3 582.7,139.8 582.8,139 582.9,138.9 583,137.5 583.1,139.5 583.2,137.7 583.3,139.7 583.4,138.8 583.5,139.6 583.6,139.9 583.7,139.1 583.8,139.2 583.9,139.7 584,139.5 584.1,139.2 584.2,138.6 584.3,140.6 584.4,139.6 584.5,137.6 584.6,140 584.7,140.5 584.8,139.1 584.9,138.5 585,139.7 585,139.6 585.1,139 585.2,137.8 585.3,137.4 585.4,140.1 585.5,139.4 585.6,138.8 585.7,138.2 585.8,138.5 585.9,136.7 586,137.9 586.1,138.3 586.1,138.5 586.2,139.8 586.3,140.7 586.4,140.3 586.5,134.7 586.6,138.9 586.7,139.1 586.8,138.1 586.8,139.7 586.9,139.1 587,138.5 587.1,139 587.2,138.6 587.3,139.5 587.4,139.1 587.5,137.7 587.5,138.5 587.6,139.2 587.7,139.6 587.8,139.2 587.9,139.4 588,139.2 588,139 588.1,137.7 588.2,138.2 588.3,138.9 588.4,140.5 588.5,138.3 588.5,136.2 588.6,138.6 588.7,135.9 588.8,138.8 588.9,137.3 588.9,139 589,138.6 589.1,137.3 589.2,137.9 589.3,138.6 589.3,137.7 589.4,139.2 589.5,139.9 589.6,138.6 589.7,139.3 589.7,137.7 589.8,138.5 589.9,138.4 590,137.4 590.1,138.5 590.1,138 590.2,137.7 590.3,139.5 590.4,138.8 590.4,137.5 590.5,137.8 590.6,136.4 590.7,136.2 590.7,137.6 590.8,139.3 590.9,137.9 591,138.4 591,138.8 591.1,136.3 591.2,137.6 591.3,138.8 591.3,137.4 591.4,136 591.5,136.6 591.6,137.9 591.6,136.9 591.7,138 591.8,136.6 591.9,138.7 591.9,137.4 592,135.9 592.1,137.4 592.1,137.9 592.2,136.9 592.3,139.4 592.4,138.2 592.4,137.9 592.5,136.9 592.6,137.7 592.6,137 592.7,138 592.8,138 592.9,138.2 592.9,136.6 593,139.2 593.1,137.1 593.1,137.1 593.2,138.3 593.3,136.1 593.3,136.9 593.4,138.1 593.5,135.3 593.6,135.9 593.6,137.6 593.7,139 593.8,138 593.8,137.3 593.9,138.6 594,137.5 594,134.9 594.1,138.1 594.2,137.7 594.2,136.4 594.3,137 594.4,138 594.4,138.7 594.5,135.6 594.6,136.5 594.6,135.2 594.7,136.6 594.8,136.9 594.8,137.1 594.9,135.5 595,136.4 595,138.1 595.1,136.6 595.1,137.4 595.2,137.7 595.3,136.8 595.3,137 595.4,135.6 595.5,133.9 595.5,136.8 595.6,137.2 595.7,136.3 595.7,137.9 595.8,137.1 595.8,136.3 595.9,136.9 596,134.4 596,136.1 596.1,135.7 596.7,138.2 597.3,135.8 597.9,137.6 598.5,135.5 599.1,136.5 599.6,136.4 600.2,134.7 600.7,132.8 601.2,132.8 601.7,132.3 602.2,133.3 602.7,131 603.2,130.6 603.7,130.3 604.2,129.6 604.6,129 605.1,128.4 605.5,128.1 606,126.2 606.4,124.3 606.8,125.1 607.3,125 607.7,125.1 608.1,124.4 608.5,122.9 608.9,121.7 609.3,121.6 609.7,120.3 610,120.3 610.4,120 610.8,119.8 611.2,121.6 611.5,121.4 611.9,121.9 612.2,122.2 612.6,122.1 612.9,124 613.2,124.3 613.6,125.3 613.9,126.3 614.2,127.1 614.6,126.1 614.9,127.8 615.2,128.4 615.5,126.2 615.8,129.2 616.1,129 616.4,131.7 616.7,130.7 617,131.4 617.3,131.5 617.6,132 617.9,132.5 618.2,133.2 618.4,133.2 618.7,132.5 619,133.6 619.3,134.1 619.5,134.7 619.8,134.5 620.1,135.2 620.3,135.4 620.6,135.4 620.9,134.2 621.1,136.6 621.4,136.7 621.6,137.7 621.9,138.8 622.1,138.9 622.3,139.2 622.6,139.8 622.8,139.4 623.1,140.5 623.3,141.1 623.5,139.7 623.8,142 624,142.4 624.2,143.2 624.4,142.9 624.7,143.4 624.9,142.9 625.1,143.7 625.3,145 625.6,144.9 625.8,145.1 626,146.1 626.2,145.9 626.4,146.6 626.6,146.7 626.8,146.8 627,146.5 627.2,148 627.4,147.8 627.6,148.3 627.8,145.7 628,148.3 628.2,149.2 628.4,149.7 628.6,148.7 628.8,149.4 629,149.4 629.2,150.7 629.4,150.6 629.6,149.7 629.8,150.6 629.9,151.3 630.1,151.5 630.3,151.5 630.5,152.1 630.7,151.6 630.8,150.5 631,151.7 631.2,152.5 631.4,153.6 631.6,153.7 631.7,152.4 631.9,153.3 632.1,153.9 632.2,152.9 632.4,153.9 632.6,153.5 632.7,154 632.9,154.8 633.1,155.6 633.2,155.4 633.4,156 633.6,155.7 633.7,154.3 633.9,155.7 634,155.5 634.2,156.9 634.4,156.3 634.5,156.8 634.7,157.1 634.8,157.4 635,157.9 635.1,157.6 635.3,155.8 635.4,156.8 635.6,157.2 635.7,156.9 635.9,156.9 636,157 636.2,154.4 636.3,156 636.5,156.1 636.6,156.6 636.8,156.3 636.9,157.5 637.1,157.3 637.2,155.8 637.3,156.4 637.5,155.5 637.6,157.4 637.8,155.6 637.9,156.5 638,155.2 638.2,155.6 638.3,155.9 638.5,154.7 638.6,152.5 638.7,155 638.9,154.2 639,155.6 639.1,155 639.3,155.4 639.4,155.1 639.5,155.5 639.6,154.6 639.8,155.4 639.9,154.7 640,154.9 640.2,154.9 640.3,154.5 640.4,154.8 640.5,154.8 640.7,154.4 640.8,154.3 640.9,154.7 641,154.1 641.2,153.1 641.3,154.8 641.4,154.5 641.5,154.1 641.7,152.9 641.8,154 641.9,154 642,154.3 642.1,153.2 642.3,154.5 642.4,154 642.5,153.2 642.6,153.3 642.7,153.1 642.8,153.2 643,154.3 643.1,153.4 643.2,153.7 643.3,153.7 643.4,153.9 643.5,152.7 643.6,153.7 643.7,153.4 643.9,153.8 644,154.7 644.1,149.8 644.2,153.9 644.3,154.3 644.4,154.1 644.5,155.4 644.6,155.2 644.7,154.5 644.8,155 645,154.3 645.1,154.4 645.2,155.2 645.3,155.4 645.4,156.5 645.5,155 645.6,154.6 645.7,155.5 645.8,155.6 645.9,156.2 646,155.6 646.1,152.8 646.2,156.8 646.3,154 646.4,156.8 646.5,155.7 646.6,156.6 646.7,156.3 646.8,155.4 646.9,156.5 647,156.3 647.1,157.3 647.2,156.1 647.3,158.5 647.4,156.7 647.5,153.6 647.6,157.2 647.7,156.8 647.8,158.1 647.9,156.7 648,155.9 648.1,156.8 648.2,157.8 648.3,158 648.4,157.7 648.5,157.2 648.6,158 648.7,157.6 648.8,156.9 648.9,156.3 648.9,156.8 649,158.7 649.1,157.7 649.2,157 649.3,158.4 649.4,157.8 649.5,157.9 649.6,158.9 649.7,158.7 649.8,157.3 649.9,158.3 650,157.7 650,157.7 650.1,158.4 650.2,156.8 650.3,157.6 650.4,156.9 650.5,157.4 650.6,157.4 650.7,157.1 650.7,157.5 650.8,157.4 650.9,156.9 651,156.8 651.1,154.2 651.2,156.5 651.3,157.4 651.4,155.3 651.4,156.5 651.5,156.7 651.6,156.9 651.7,157 651.8,155.1 651.9,156.3 651.9,156 652,156.1 652.1,155.4 652.2,155.8 652.3,154.9 652.4,155.3 652.4,155.5 652.5,155.1 652.6,154.3 652.7,155.3 652.8,155.1 652.8,155.1 652.9,154.6 653,154.9 653.1,154.4 653.2,154.3 653.2,153.8 653.3,154.8 653.4,154 653.5,154.2 653.6,154.4 653.6,153.6 653.7,154.2 653.8,153.8 653.9,151.9 654,153.6 654,152.5 654.1,151.3 654.2,152.3 654.3,152 654.3,152.4 654.4,151.1 654.5,151.2 654.6,150.9 654.6,150.3 654.7,149.7 654.8,149.9 654.9,151 654.9,147.4 655,149.7 655.1,148.5 655.2,149.5 655.2,147.7 655.3,148.3 655.4,148.4 655.5,148.6 655.5,148.1 655.6,148.4 655.7,148 655.8,147.6 655.8,146.3 655.9,146.3 656,146.3 656,147.2 656.1,147.4 656.2,145.4 656.3,146.6 656.3,145.2 656.4,145.5 656.5,145 656.5,142.3 656.6,143.1 656.7,143.5 656.8,142.5 656.8,142 656.9,142.1 657,141.3 657,141.1 657.1,140.2 657.2,137.2 657.2,138.8 657.3,140 657.4,138.7 657.5,138.5 657.5,139.1 657.6,137.5 657.7,137.3 657.7,135.6 657.8,137.2 657.9,135.1 657.9,135.5 658,134.5 658.1,135.1 658.1,133.8 658.2,133.1 658.3,132.5 658.3,132.9 658.4,131.5 658.5,131.8 658.5,129.7 658.6,128.5 658.7,128.5 658.7,127.7 658.8,127 658.9,126.3 658.9,126.2 659,125.9 659,124.4 659.1,124.4 659.2,122.8 659.2,123.2 659.3,122.6 659.4,121.5 659.4,120.6 659.5,121.2 659.6,120 659.6,118.4 659.7,119.8 659.7,116.2 659.8,118.3 659.9,119.8 659.9,119.6 660,119.2"/>
</g>
<rect x="404.4" y="40.3" width="256" height="123.7" fill="none" stroke="#222" stroke-width="1.0"/>
<path d="M404.4,40.3v6M404.4,164v-6M468.3,40.3v6M468.3,164v-6M532.2,40.3v6M532.2,164v-6M596.1,40.3v6M596.1,164v-6M660,40.3v6M660,164v-6" stroke="#222" stroke-width="1.0" fill="none"/>
<path d="M423.6,40.3v3M423.6,164v-3M434.9,40.3v3M434.9,164v-3M442.9,40.3v3M442.9,164v-3M449.1,40.3v3M449.1,164v-3M454.1,40.3v3M454.1,164v-3M458.4,40.3v3M458.4,164v-3M462.1,40.3v3M462.1,164v-3M465.4,40.3v3M465.4,164v-3M487.5,40.3v3M487.5,164v-3M498.8,40.3v3M498.8,164v-3M506.8,40.3v3M506.8,164v-3M513,40.3v3M513,164v-3M518,40.3v3M518,164v-3M522.3,40.3v3M522.3,164v-3M526,40.3v3M526,164v-3M529.3,40.3v3M529.3,164v-3M551.4,40.3v3M551.4,164v-3M562.7,40.3v3M562.7,164v-3M570.7,40.3v3M570.7,164v-3M576.9,40.3v3M576.9,164v-3M581.9,40.3v3M581.9,164v-3M586.2,40.3v3M586.2,164v-3M589.9,40.3v3M589.9,164v-3M593.2,40.3v3M593.2,164v-3M615.3,40.3v3M615.3,164v-3M626.6,40.3v3M626.6,164v-3M634.6,40.3v3M634.6,164v-3M640.8,40.3v3M640.8,164v-3M645.8,40.3v3M645.8,164v-3M650.1,40.3v3M650.1,164v-3M653.8,40.3v3M653.8,164v-3M657.1,40.3v3M657.1,164v-3" stroke="#222" stroke-width="1.0" fill="none"/>
<path d="M404.4,71.3h6M660.4,71.3h-6M404.4,101.9h6M660.4,101.9h-6M404.4,132.5h6M660.4,132.5h-6" stroke="#222" stroke-width="1.0" fill="none"/>
<text x="382.05" y="44.69" font-size="10.99" fill="#000" textLength="18.65" lengthAdjust="spacingAndGlyphs">−80</text>
<text x="375.54" y="75.29" font-size="10.99" fill="#000" textLength="25.18" lengthAdjust="spacingAndGlyphs">−100</text>
<text x="375.54" y="105.89" font-size="10.99" fill="#000" textLength="25.18" lengthAdjust="spacingAndGlyphs">−120</text>
<text x="375.54" y="136.49" font-size="10.99" fill="#000" textLength="25.18" lengthAdjust="spacingAndGlyphs">−140</text>
<text x="375.54" y="167.09" font-size="10.99" fill="#000" textLength="25.18" lengthAdjust="spacingAndGlyphs">−160</text>
<text x="397.25" y="183.68" font-size="11.69" fill="#000" textLength="12.57" lengthAdjust="spacingAndGlyphs">10</text>
<text x="409.46" y="176.90" font-size="8.14" fill="#000" textLength="4.89" lengthAdjust="spacingAndGlyphs">2</text>
<text x="460.73" y="183.68" font-size="11.69" fill="#000" textLength="12.57" lengthAdjust="spacingAndGlyphs">10</text>
<text x="473.04" y="176.82" font-size="8.03" fill="#000" textLength="4.68" lengthAdjust="spacingAndGlyphs">3</text>
<text x="524.20" y="183.68" font-size="11.69" fill="#000" textLength="12.57" lengthAdjust="spacingAndGlyphs">10</text>
<text x="536.69" y="176.90" font-size="8.26" fill="#000" textLength="4.41" lengthAdjust="spacingAndGlyphs">4</text>
<text x="587.68" y="183.68" font-size="11.69" fill="#000" textLength="12.57" lengthAdjust="spacingAndGlyphs">10</text>
<text x="599.99" y="176.82" font-size="8.14" fill="#000" textLength="4.68" lengthAdjust="spacingAndGlyphs">5</text>
<text x="651.15" y="183.68" font-size="11.69" fill="#000" textLength="12.57" lengthAdjust="spacingAndGlyphs">10</text>
<text x="663.37" y="176.82" font-size="8.03" fill="#000" textLength="4.78" lengthAdjust="spacingAndGlyphs">6</text>
<text x="475.45" y="197.70" font-size="11.16" fill="#000" textLength="114.28" lengthAdjust="spacingAndGlyphs">Frequency offset (Hz)</text>
<text x="360.60" y="172.85" font-size="11.74" fill="#000" textLength="142.22" lengthAdjust="spacingAndGlyphs" transform="rotate(-90 360.60 172.85)">Phase noise PSD (dBc/Hz)</text>
<rect x="500" y="50" width="185" height="27" fill="#fff"/>
<line x1="504.2" y1="57.5" x2="526.1" y2="57.5" stroke="#4455ff" stroke-width="1.0"/>
<line x1="504.2" y1="70.8" x2="526.1" y2="70.8" stroke="#ff3344" stroke-width="1.0"/>
<text x="532.33" y="61.10" font-size="11.01" fill="#000" textLength="144.47" lengthAdjust="spacingAndGlyphs">Out−of−loop (N = +/− 3rd)</text>
<text x="532.33" y="74.30" font-size="11.01" fill="#000" textLength="151.19" lengthAdjust="spacingAndGlyphs">Out−of−loop (N = +/− 10th)</text>
<rect x="405.9" y="223.6" width="258.7" height="124.4" fill="none" stroke="#333" stroke-width="1.0"/>
<path d="M461.5,223.6v6M461.5,348v-6M517.2,223.6v6M517.2,348v-6M572.8,223.6v6M572.8,348v-6M628.5,223.6v6M628.5,348v-6" stroke="#333" stroke-width="1.0" fill="none"/>
<path d="M405.9,236.9h6M664.6,236.9h-6M405.9,261.3h6M664.6,261.3h-6M405.9,285.7h6M664.6,285.7h-6M405.9,310.1h6M664.6,310.1h-6M405.9,334.5h6M664.6,334.5h-6" stroke="#333" stroke-width="1.0" fill="none"/>
<polyline fill="none" stroke="#ff3333" stroke-width="1.1" stroke-linejoin="round"  points="405.9,334.5 437.5,334.5 438.3,310.1 446.4,310.1 447.2,285.7 457.7,285.7 458.5,261.3 468.5,261.3 469.3,236.9 472.9,236.9 473.8,261.3 479.8,261.3 480.7,285.7 490.4,285.7 491.3,310.1 501.5,310.1 502.3,334.5 648.5,334.5 649.4,310.1 664.6,310.1"/>
<text x="396.19" y="240.95" font-size="11.45" fill="#000" textLength="5.73" lengthAdjust="spacingAndGlyphs">4</text>
<text x="395.83" y="265.35" font-size="11.29" fill="#000" textLength="6.36" lengthAdjust="spacingAndGlyphs">2</text>
<text x="395.97" y="289.64" font-size="11.13" fill="#000" textLength="6.03" lengthAdjust="spacingAndGlyphs">0</text>
<text x="389.13" y="314.15" font-size="11.29" fill="#000" textLength="13.05" lengthAdjust="spacingAndGlyphs">−2</text>
<text x="389.14" y="338.55" font-size="11.45" fill="#000" textLength="12.80" lengthAdjust="spacingAndGlyphs">−4</text>
<text x="403.47" y="362.69" font-size="11.41" fill="#000" textLength="6.03" lengthAdjust="spacingAndGlyphs">0</text>
<text x="453.06" y="362.69" font-size="11.41" fill="#000" textLength="18.78" lengthAdjust="spacingAndGlyphs">100</text>
<text x="508.45" y="362.69" font-size="11.41" fill="#000" textLength="18.48" lengthAdjust="spacingAndGlyphs">200</text>
<text x="564.16" y="362.69" font-size="11.41" fill="#000" textLength="18.36" lengthAdjust="spacingAndGlyphs">300</text>
<text x="619.88" y="362.69" font-size="11.41" fill="#000" textLength="18.14" lengthAdjust="spacingAndGlyphs">400</text>
<text x="514.37" y="382.40" font-size="11.01" fill="#000" textLength="42.18" lengthAdjust="spacingAndGlyphs">Time (s)</text>
<text x="373.90" y="334.04" font-size="11.31" fill="#000" textLength="4.40" lengthAdjust="spacingAndGlyphs" transform="rotate(-90 373.90 334.04)">f</text>
<text x="377.70" y="330.32" font-size="7.97" fill="#000" textLength="15.97" lengthAdjust="spacingAndGlyphs" transform="rotate(-90 377.70 330.32)">OEO</text>
<rect x="369.1" y="304.6" width="1.1" height="5.3" fill="#000"/>
<text x="373.90" y="299.66" font-size="11.59" fill="#000" textLength="11.23" lengthAdjust="spacingAndGlyphs" transform="rotate(-90 373.90 299.66)">10</text>
<text x="374.10" y="282.96" font-size="12.03" fill="#000" textLength="46.85" lengthAdjust="spacingAndGlyphs" transform="rotate(-90 374.10 282.96)">GHz (Hz)</text>
</svg>
</body></html>
